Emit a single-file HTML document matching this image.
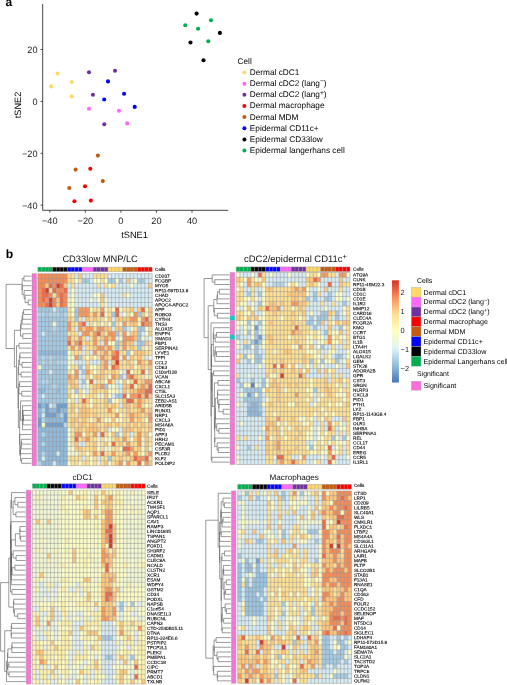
<!DOCTYPE html>
<html><head><meta charset="utf-8"><style>
html,body{margin:0;padding:0;background:#fff;overflow:hidden;width:507px;height:685px;}
svg{display:block;font-family:"Liberation Sans", sans-serif;text-rendering:geometricPrecision;will-change:transform;}
</style></head><body>
<svg width="507" height="685" viewBox="0 0 507 685">
<rect width="507" height="685" fill="#fff"/>
<text x="5.6" y="6.4" font-size="12" font-weight="bold">a</text>
<path d="M42.7 3.9V210.3H228.2" stroke="#333" stroke-width="0.9" fill="none"/>
<path d="M40.6 49.5H42.7" stroke="#333" stroke-width="0.9"/>
<text x="37.6" y="52.8" font-size="9.2" text-anchor="end" fill="#222">20</text>
<path d="M40.6 101.4H42.7" stroke="#333" stroke-width="0.9"/>
<text x="37.6" y="104.7" font-size="9.2" text-anchor="end" fill="#222">0</text>
<path d="M40.6 153.3H42.7" stroke="#333" stroke-width="0.9"/>
<text x="37.6" y="156.6" font-size="9.2" text-anchor="end" fill="#222">−20</text>
<path d="M40.6 205.2H42.7" stroke="#333" stroke-width="0.9"/>
<text x="37.6" y="208.5" font-size="9.2" text-anchor="end" fill="#222">−40</text>
<path d="M49.8 210.3V212.6" stroke="#333" stroke-width="0.9"/>
<text x="49.8" y="223.6" font-size="9.2" text-anchor="middle" fill="#222">−40</text>
<path d="M85.35 210.3V212.6" stroke="#333" stroke-width="0.9"/>
<text x="85.35" y="223.6" font-size="9.2" text-anchor="middle" fill="#222">−20</text>
<path d="M120.9 210.3V212.6" stroke="#333" stroke-width="0.9"/>
<text x="120.9" y="223.6" font-size="9.2" text-anchor="middle" fill="#222">0</text>
<path d="M156.45 210.3V212.6" stroke="#333" stroke-width="0.9"/>
<text x="156.45" y="223.6" font-size="9.2" text-anchor="middle" fill="#222">20</text>
<path d="M192 210.3V212.6" stroke="#333" stroke-width="0.9"/>
<text x="192" y="223.6" font-size="9.2" text-anchor="middle" fill="#222">40</text>
<text x="134.5" y="237.9" font-size="9.2" text-anchor="middle">tSNE1</text>
<text transform="translate(21.1 105) rotate(-90)" font-size="9.2" text-anchor="middle">tSNE2</text>
<circle cx="196.6" cy="13.6" r="2.05" fill="#000000"/>
<circle cx="219.9" cy="32.9" r="2.05" fill="#000000"/>
<circle cx="190.5" cy="42.5" r="2.05" fill="#000000"/>
<circle cx="203.5" cy="60.3" r="2.05" fill="#000000"/>
<circle cx="211" cy="20.2" r="2.05" fill="#00B050"/>
<circle cx="185.3" cy="25.2" r="2.05" fill="#00B050"/>
<circle cx="198.1" cy="28.8" r="2.05" fill="#00B050"/>
<circle cx="208.3" cy="41.3" r="2.05" fill="#00B050"/>
<circle cx="57.6" cy="73.6" r="2.05" fill="#FFD966"/>
<circle cx="51.1" cy="86.4" r="2.05" fill="#FFD966"/>
<circle cx="71.8" cy="82" r="2.05" fill="#FFD966"/>
<circle cx="71.8" cy="96.4" r="2.05" fill="#FFD966"/>
<circle cx="89" cy="72.3" r="2.05" fill="#7030A0"/>
<circle cx="115" cy="70.7" r="2.05" fill="#7030A0"/>
<circle cx="92.9" cy="94.8" r="2.05" fill="#7030A0"/>
<circle cx="104.3" cy="124.3" r="2.05" fill="#7030A0"/>
<circle cx="108" cy="81.4" r="2.05" fill="#0000FF"/>
<circle cx="124.1" cy="93.8" r="2.05" fill="#0000FF"/>
<circle cx="104.2" cy="99.5" r="2.05" fill="#0000FF"/>
<circle cx="134.7" cy="106.9" r="2.05" fill="#0000FF"/>
<circle cx="89" cy="108.7" r="2.05" fill="#FF66FF"/>
<circle cx="119" cy="110.8" r="2.05" fill="#FF66FF"/>
<circle cx="127.2" cy="123.4" r="2.05" fill="#FF66FF"/>
<circle cx="97.9" cy="155.6" r="2.05" fill="#C55A11"/>
<circle cx="75.6" cy="169.6" r="2.05" fill="#C55A11"/>
<circle cx="102.8" cy="181.1" r="2.05" fill="#C55A11"/>
<circle cx="69.3" cy="188" r="2.05" fill="#C55A11"/>
<circle cx="90.3" cy="168.7" r="2.05" fill="#FF0000"/>
<circle cx="85" cy="186.3" r="2.05" fill="#FF0000"/>
<circle cx="74.4" cy="201.2" r="2.05" fill="#FF0000"/>
<circle cx="90.9" cy="200.6" r="2.05" fill="#FF0000"/>
<text x="237.6" y="64" font-size="8.2">Cell</text>
<circle cx="244.4" cy="72.6" r="2.0" fill="#FFD966"/>
<text x="249.8" y="75.05" font-size="8.25">Dermal cDC1</text>
<circle cx="244.4" cy="83.73" r="2.0" fill="#FF66FF"/>
<text x="249.8" y="86.18" font-size="8.25">Dermal cDC2 (lang<tspan font-size="6.6" dy="-2.8">−</tspan><tspan dy="2.8">)</tspan></text>
<circle cx="244.4" cy="94.86" r="2.0" fill="#7030A0"/>
<text x="249.8" y="97.31" font-size="8.25">Dermal cDC2 (lang<tspan font-size="6.6" dy="-2.8">+</tspan><tspan dy="2.8">)</tspan></text>
<circle cx="244.4" cy="105.99" r="2.0" fill="#FF0000"/>
<text x="249.8" y="108.44" font-size="8.25">Dermal macrophage</text>
<circle cx="244.4" cy="117.12" r="2.0" fill="#C55A11"/>
<text x="249.8" y="119.57" font-size="8.25">Dermal MDM</text>
<circle cx="244.4" cy="128.25" r="2.0" fill="#0000FF"/>
<text x="249.8" y="130.7" font-size="8.25">Epidermal CD11c+</text>
<circle cx="244.4" cy="139.38" r="2.0" fill="#000000"/>
<text x="249.8" y="141.83" font-size="8.25">Epidermal CD33low</text>
<circle cx="244.4" cy="150.51" r="2.0" fill="#00B050"/>
<text x="249.8" y="152.96" font-size="8.25">Epidermal langerhans cell</text>
<text x="5.8" y="257.8" font-size="12.2" font-weight="bold">b</text>
<path fill="#F58C57" d="M37.8 273.7h3.69v4.8h-3.69zM41.49 273.7h3.69v4.8h-3.69zM45.18 273.7h3.69v4.8h-3.69zM48.87 273.7h3.69v4.8h-3.69zM52.56 273.7h3.69v4.8h-3.69zM56.25 273.7h3.69v4.8h-3.69zM59.94 273.7h3.69v4.8h-3.69zM63.63 273.7h3.69v4.8h-3.69zM37.8 278.5h3.69v4.8h-3.69zM41.49 278.5h3.69v4.8h-3.69zM45.18 278.5h3.69v4.8h-3.69zM48.87 278.5h3.69v4.8h-3.69zM52.56 278.5h3.69v4.8h-3.69zM56.25 278.5h3.69v4.8h-3.69zM59.94 278.5h3.69v4.8h-3.69zM63.63 278.5h3.69v4.8h-3.69zM37.8 283.3h3.69v4.8h-3.69zM41.49 283.3h3.69v4.8h-3.69zM52.56 283.3h3.69v4.8h-3.69zM37.8 288.1h3.69v4.8h-3.69zM56.25 288.1h3.69v4.8h-3.69zM59.94 288.1h3.69v4.8h-3.69zM37.8 292.9h3.69v4.8h-3.69zM48.87 292.9h3.69v4.8h-3.69zM56.25 292.9h3.69v4.8h-3.69zM63.63 292.9h3.69v4.8h-3.69zM37.8 297.7h3.69v4.8h-3.69zM45.18 297.7h3.69v4.8h-3.69zM52.56 297.7h3.69v4.8h-3.69zM63.63 297.7h3.69v4.8h-3.69zM37.8 302.5h3.69v4.8h-3.69zM41.49 302.5h3.69v4.8h-3.69zM52.56 302.5h3.69v4.8h-3.69zM63.63 302.5h3.69v4.8h-3.69z"/>
<path fill="#FEE093" d="M67.32 273.7h3.69v4.8h-3.69zM71.01 273.7h3.69v4.8h-3.69zM93.15 273.7h3.69v4.8h-3.69zM96.84 273.7h3.69v4.8h-3.69zM100.53 273.7h3.69v4.8h-3.69zM104.22 273.7h3.69v4.8h-3.69zM67.32 278.5h3.69v4.8h-3.69zM71.01 278.5h3.69v4.8h-3.69zM78.39 278.5h3.69v4.8h-3.69zM100.53 278.5h3.69v4.8h-3.69zM71.01 283.3h3.69v4.8h-3.69zM96.84 283.3h3.69v4.8h-3.69zM104.22 283.3h3.69v4.8h-3.69zM111.6 283.3h3.69v4.8h-3.69zM48.87 288.1h3.69v4.8h-3.69zM52.56 292.9h3.69v4.8h-3.69zM122.67 292.9h3.69v4.8h-3.69zM100.53 302.5h3.69v4.8h-3.69zM67.32 307.3h3.69v4.8h-3.69zM93.15 307.3h3.69v4.8h-3.69zM96.84 307.3h3.69v4.8h-3.69zM107.91 307.3h3.69v4.8h-3.69zM122.67 307.3h3.69v4.8h-3.69zM126.36 307.3h3.69v4.8h-3.69zM67.32 312.1h3.69v4.8h-3.69zM89.46 312.1h3.69v4.8h-3.69zM96.84 312.1h3.69v4.8h-3.69zM107.91 312.1h3.69v4.8h-3.69zM126.36 312.1h3.69v4.8h-3.69zM71.01 316.9h3.69v4.8h-3.69zM78.39 316.9h3.69v4.8h-3.69zM89.46 316.9h3.69v4.8h-3.69zM96.84 316.9h3.69v4.8h-3.69zM100.53 316.9h3.69v4.8h-3.69zM71.01 321.7h3.69v4.8h-3.69zM74.7 321.7h3.69v4.8h-3.69zM89.46 321.7h3.69v4.8h-3.69zM96.84 321.7h3.69v4.8h-3.69zM104.22 321.7h3.69v4.8h-3.69zM115.29 321.7h3.69v4.8h-3.69zM126.36 321.7h3.69v4.8h-3.69zM71.01 326.5h3.69v4.8h-3.69zM93.15 326.5h3.69v4.8h-3.69zM133.74 326.5h3.69v4.8h-3.69zM148.5 326.5h3.69v4.8h-3.69zM67.32 331.3h3.69v4.8h-3.69zM71.01 331.3h3.69v4.8h-3.69zM74.7 331.3h3.69v4.8h-3.69zM89.46 331.3h3.69v4.8h-3.69zM104.22 331.3h3.69v4.8h-3.69zM118.98 331.3h3.69v4.8h-3.69zM71.01 336.1h3.69v4.8h-3.69zM74.7 336.1h3.69v4.8h-3.69zM82.08 336.1h3.69v4.8h-3.69zM89.46 336.1h3.69v4.8h-3.69zM96.84 336.1h3.69v4.8h-3.69zM71.01 340.9h3.69v4.8h-3.69zM82.08 340.9h3.69v4.8h-3.69zM89.46 340.9h3.69v4.8h-3.69zM96.84 340.9h3.69v4.8h-3.69zM148.5 340.9h3.69v4.8h-3.69zM67.32 345.7h3.69v4.8h-3.69zM74.7 345.7h3.69v4.8h-3.69zM85.77 345.7h3.69v4.8h-3.69zM89.46 345.7h3.69v4.8h-3.69zM111.6 345.7h3.69v4.8h-3.69zM118.98 345.7h3.69v4.8h-3.69zM126.36 345.7h3.69v4.8h-3.69zM133.74 345.7h3.69v4.8h-3.69zM141.12 345.7h3.69v4.8h-3.69zM148.5 345.7h3.69v4.8h-3.69zM71.01 350.5h3.69v4.8h-3.69zM74.7 350.5h3.69v4.8h-3.69zM78.39 350.5h3.69v4.8h-3.69zM85.77 350.5h3.69v4.8h-3.69zM96.84 350.5h3.69v4.8h-3.69zM107.91 350.5h3.69v4.8h-3.69zM118.98 350.5h3.69v4.8h-3.69zM122.67 350.5h3.69v4.8h-3.69zM144.81 350.5h3.69v4.8h-3.69zM148.5 350.5h3.69v4.8h-3.69zM82.08 355.3h3.69v4.8h-3.69zM89.46 355.3h3.69v4.8h-3.69zM96.84 355.3h3.69v4.8h-3.69zM107.91 355.3h3.69v4.8h-3.69zM133.74 355.3h3.69v4.8h-3.69zM141.12 355.3h3.69v4.8h-3.69zM85.77 360.1h3.69v4.8h-3.69zM118.98 360.1h3.69v4.8h-3.69zM122.67 360.1h3.69v4.8h-3.69zM130.05 360.1h3.69v4.8h-3.69zM144.81 360.1h3.69v4.8h-3.69zM71.01 364.9h3.69v4.8h-3.69zM74.7 364.9h3.69v4.8h-3.69zM96.84 364.9h3.69v4.8h-3.69zM118.98 364.9h3.69v4.8h-3.69zM122.67 364.9h3.69v4.8h-3.69zM126.36 364.9h3.69v4.8h-3.69zM137.43 364.9h3.69v4.8h-3.69zM144.81 364.9h3.69v4.8h-3.69zM67.32 369.7h3.69v4.8h-3.69zM89.46 369.7h3.69v4.8h-3.69zM96.84 369.7h3.69v4.8h-3.69zM104.22 369.7h3.69v4.8h-3.69zM107.91 369.7h3.69v4.8h-3.69zM115.29 369.7h3.69v4.8h-3.69zM133.74 369.7h3.69v4.8h-3.69zM137.43 369.7h3.69v4.8h-3.69zM104.22 374.5h3.69v4.8h-3.69zM137.43 374.5h3.69v4.8h-3.69zM141.12 374.5h3.69v4.8h-3.69zM148.5 374.5h3.69v4.8h-3.69zM74.7 379.3h3.69v4.8h-3.69zM96.84 379.3h3.69v4.8h-3.69zM100.53 379.3h3.69v4.8h-3.69zM111.6 379.3h3.69v4.8h-3.69zM130.05 379.3h3.69v4.8h-3.69zM137.43 379.3h3.69v4.8h-3.69zM67.32 384.1h3.69v4.8h-3.69zM89.46 384.1h3.69v4.8h-3.69zM67.32 388.9h3.69v4.8h-3.69zM78.39 388.9h3.69v4.8h-3.69zM89.46 388.9h3.69v4.8h-3.69zM96.84 388.9h3.69v4.8h-3.69zM100.53 388.9h3.69v4.8h-3.69zM126.36 388.9h3.69v4.8h-3.69zM78.39 393.7h3.69v4.8h-3.69zM85.77 393.7h3.69v4.8h-3.69zM89.46 393.7h3.69v4.8h-3.69zM93.15 393.7h3.69v4.8h-3.69zM71.01 398.5h3.69v4.8h-3.69zM78.39 398.5h3.69v4.8h-3.69zM93.15 398.5h3.69v4.8h-3.69zM96.84 398.5h3.69v4.8h-3.69zM100.53 398.5h3.69v4.8h-3.69zM118.98 398.5h3.69v4.8h-3.69zM133.74 398.5h3.69v4.8h-3.69zM144.81 398.5h3.69v4.8h-3.69zM148.5 398.5h3.69v4.8h-3.69zM67.32 403.3h3.69v4.8h-3.69zM74.7 403.3h3.69v4.8h-3.69zM78.39 403.3h3.69v4.8h-3.69zM85.77 403.3h3.69v4.8h-3.69zM96.84 403.3h3.69v4.8h-3.69zM100.53 403.3h3.69v4.8h-3.69zM107.91 403.3h3.69v4.8h-3.69zM115.29 403.3h3.69v4.8h-3.69zM130.05 403.3h3.69v4.8h-3.69zM141.12 403.3h3.69v4.8h-3.69zM148.5 403.3h3.69v4.8h-3.69zM67.32 408.1h3.69v4.8h-3.69zM89.46 408.1h3.69v4.8h-3.69zM93.15 408.1h3.69v4.8h-3.69zM96.84 408.1h3.69v4.8h-3.69zM100.53 408.1h3.69v4.8h-3.69zM104.22 408.1h3.69v4.8h-3.69zM111.6 408.1h3.69v4.8h-3.69zM118.98 408.1h3.69v4.8h-3.69zM122.67 408.1h3.69v4.8h-3.69zM130.05 408.1h3.69v4.8h-3.69zM133.74 408.1h3.69v4.8h-3.69zM144.81 408.1h3.69v4.8h-3.69zM67.32 412.9h3.69v4.8h-3.69zM71.01 412.9h3.69v4.8h-3.69zM74.7 412.9h3.69v4.8h-3.69zM89.46 412.9h3.69v4.8h-3.69zM96.84 412.9h3.69v4.8h-3.69zM100.53 412.9h3.69v4.8h-3.69zM104.22 412.9h3.69v4.8h-3.69zM107.91 412.9h3.69v4.8h-3.69zM111.6 412.9h3.69v4.8h-3.69zM122.67 412.9h3.69v4.8h-3.69zM141.12 412.9h3.69v4.8h-3.69zM67.32 417.7h3.69v4.8h-3.69zM78.39 417.7h3.69v4.8h-3.69zM85.77 417.7h3.69v4.8h-3.69zM93.15 417.7h3.69v4.8h-3.69zM100.53 417.7h3.69v4.8h-3.69zM122.67 417.7h3.69v4.8h-3.69zM126.36 417.7h3.69v4.8h-3.69zM133.74 417.7h3.69v4.8h-3.69zM141.12 417.7h3.69v4.8h-3.69zM67.32 422.5h3.69v4.8h-3.69zM74.7 422.5h3.69v4.8h-3.69zM85.77 422.5h3.69v4.8h-3.69zM96.84 422.5h3.69v4.8h-3.69zM100.53 422.5h3.69v4.8h-3.69zM111.6 422.5h3.69v4.8h-3.69zM118.98 422.5h3.69v4.8h-3.69zM122.67 422.5h3.69v4.8h-3.69zM130.05 422.5h3.69v4.8h-3.69zM137.43 422.5h3.69v4.8h-3.69zM144.81 422.5h3.69v4.8h-3.69zM71.01 427.3h3.69v4.8h-3.69zM82.08 427.3h3.69v4.8h-3.69zM100.53 427.3h3.69v4.8h-3.69zM133.74 427.3h3.69v4.8h-3.69zM141.12 427.3h3.69v4.8h-3.69zM144.81 427.3h3.69v4.8h-3.69zM71.01 432.1h3.69v4.8h-3.69zM89.46 432.1h3.69v4.8h-3.69zM104.22 432.1h3.69v4.8h-3.69zM126.36 432.1h3.69v4.8h-3.69zM133.74 432.1h3.69v4.8h-3.69zM141.12 432.1h3.69v4.8h-3.69zM71.01 436.9h3.69v4.8h-3.69zM78.39 436.9h3.69v4.8h-3.69zM89.46 436.9h3.69v4.8h-3.69zM93.15 436.9h3.69v4.8h-3.69zM100.53 436.9h3.69v4.8h-3.69zM111.6 436.9h3.69v4.8h-3.69zM118.98 436.9h3.69v4.8h-3.69zM126.36 436.9h3.69v4.8h-3.69zM148.5 436.9h3.69v4.8h-3.69zM71.01 441.7h3.69v4.8h-3.69zM85.77 441.7h3.69v4.8h-3.69zM89.46 441.7h3.69v4.8h-3.69zM100.53 441.7h3.69v4.8h-3.69zM115.29 441.7h3.69v4.8h-3.69zM122.67 441.7h3.69v4.8h-3.69zM130.05 441.7h3.69v4.8h-3.69zM133.74 441.7h3.69v4.8h-3.69zM148.5 441.7h3.69v4.8h-3.69zM82.08 446.5h3.69v4.8h-3.69zM85.77 446.5h3.69v4.8h-3.69zM89.46 446.5h3.69v4.8h-3.69zM100.53 446.5h3.69v4.8h-3.69zM111.6 446.5h3.69v4.8h-3.69zM115.29 446.5h3.69v4.8h-3.69zM133.74 446.5h3.69v4.8h-3.69zM78.39 451.3h3.69v4.8h-3.69zM82.08 451.3h3.69v4.8h-3.69zM89.46 451.3h3.69v4.8h-3.69zM96.84 451.3h3.69v4.8h-3.69zM104.22 451.3h3.69v4.8h-3.69zM107.91 451.3h3.69v4.8h-3.69zM115.29 451.3h3.69v4.8h-3.69zM118.98 451.3h3.69v4.8h-3.69zM130.05 451.3h3.69v4.8h-3.69zM137.43 451.3h3.69v4.8h-3.69zM67.32 456.1h3.69v4.8h-3.69zM71.01 456.1h3.69v4.8h-3.69zM74.7 456.1h3.69v4.8h-3.69zM78.39 456.1h3.69v4.8h-3.69zM85.77 456.1h3.69v4.8h-3.69zM93.15 456.1h3.69v4.8h-3.69zM100.53 456.1h3.69v4.8h-3.69zM104.22 456.1h3.69v4.8h-3.69zM111.6 456.1h3.69v4.8h-3.69zM115.29 456.1h3.69v4.8h-3.69zM122.67 456.1h3.69v4.8h-3.69zM126.36 456.1h3.69v4.8h-3.69zM148.5 456.1h3.69v4.8h-3.69zM71.01 460.9h3.69v4.8h-3.69zM74.7 460.9h3.69v4.8h-3.69zM82.08 460.9h3.69v4.8h-3.69zM85.77 460.9h3.69v4.8h-3.69zM93.15 460.9h3.69v4.8h-3.69zM100.53 460.9h3.69v4.8h-3.69zM111.6 460.9h3.69v4.8h-3.69zM130.05 460.9h3.69v4.8h-3.69zM133.74 460.9h3.69v4.8h-3.69z"/>
<path fill="#D6EBF3" d="M74.7 273.7h3.69v4.8h-3.69zM82.08 273.7h3.69v4.8h-3.69zM85.77 273.7h3.69v4.8h-3.69zM89.46 273.7h3.69v4.8h-3.69zM107.91 273.7h3.69v4.8h-3.69zM111.6 273.7h3.69v4.8h-3.69zM115.29 273.7h3.69v4.8h-3.69zM118.98 273.7h3.69v4.8h-3.69zM122.67 273.7h3.69v4.8h-3.69zM126.36 273.7h3.69v4.8h-3.69zM130.05 273.7h3.69v4.8h-3.69zM133.74 273.7h3.69v4.8h-3.69zM137.43 273.7h3.69v4.8h-3.69zM141.12 273.7h3.69v4.8h-3.69zM144.81 273.7h3.69v4.8h-3.69zM148.5 273.7h3.69v4.8h-3.69zM89.46 278.5h3.69v4.8h-3.69zM122.67 278.5h3.69v4.8h-3.69zM130.05 278.5h3.69v4.8h-3.69zM144.81 278.5h3.69v4.8h-3.69zM148.5 278.5h3.69v4.8h-3.69zM67.32 283.3h3.69v4.8h-3.69zM74.7 283.3h3.69v4.8h-3.69zM78.39 283.3h3.69v4.8h-3.69zM82.08 283.3h3.69v4.8h-3.69zM85.77 283.3h3.69v4.8h-3.69zM89.46 283.3h3.69v4.8h-3.69zM93.15 283.3h3.69v4.8h-3.69zM100.53 283.3h3.69v4.8h-3.69zM115.29 283.3h3.69v4.8h-3.69zM118.98 283.3h3.69v4.8h-3.69zM122.67 283.3h3.69v4.8h-3.69zM126.36 283.3h3.69v4.8h-3.69zM133.74 283.3h3.69v4.8h-3.69zM137.43 283.3h3.69v4.8h-3.69zM141.12 283.3h3.69v4.8h-3.69zM144.81 283.3h3.69v4.8h-3.69zM67.32 288.1h3.69v4.8h-3.69zM74.7 288.1h3.69v4.8h-3.69zM78.39 288.1h3.69v4.8h-3.69zM82.08 288.1h3.69v4.8h-3.69zM85.77 288.1h3.69v4.8h-3.69zM89.46 288.1h3.69v4.8h-3.69zM93.15 288.1h3.69v4.8h-3.69zM96.84 288.1h3.69v4.8h-3.69zM100.53 288.1h3.69v4.8h-3.69zM104.22 288.1h3.69v4.8h-3.69zM107.91 288.1h3.69v4.8h-3.69zM111.6 288.1h3.69v4.8h-3.69zM115.29 288.1h3.69v4.8h-3.69zM118.98 288.1h3.69v4.8h-3.69zM122.67 288.1h3.69v4.8h-3.69zM126.36 288.1h3.69v4.8h-3.69zM130.05 288.1h3.69v4.8h-3.69zM133.74 288.1h3.69v4.8h-3.69zM137.43 288.1h3.69v4.8h-3.69zM141.12 288.1h3.69v4.8h-3.69zM144.81 288.1h3.69v4.8h-3.69zM148.5 288.1h3.69v4.8h-3.69zM67.32 292.9h3.69v4.8h-3.69zM74.7 292.9h3.69v4.8h-3.69zM78.39 292.9h3.69v4.8h-3.69zM82.08 292.9h3.69v4.8h-3.69zM85.77 292.9h3.69v4.8h-3.69zM89.46 292.9h3.69v4.8h-3.69zM104.22 292.9h3.69v4.8h-3.69zM107.91 292.9h3.69v4.8h-3.69zM111.6 292.9h3.69v4.8h-3.69zM115.29 292.9h3.69v4.8h-3.69zM118.98 292.9h3.69v4.8h-3.69zM130.05 292.9h3.69v4.8h-3.69zM133.74 292.9h3.69v4.8h-3.69zM137.43 292.9h3.69v4.8h-3.69zM141.12 292.9h3.69v4.8h-3.69zM144.81 292.9h3.69v4.8h-3.69zM148.5 292.9h3.69v4.8h-3.69zM74.7 297.7h3.69v4.8h-3.69zM78.39 297.7h3.69v4.8h-3.69zM82.08 297.7h3.69v4.8h-3.69zM85.77 297.7h3.69v4.8h-3.69zM93.15 297.7h3.69v4.8h-3.69zM107.91 297.7h3.69v4.8h-3.69zM111.6 297.7h3.69v4.8h-3.69zM115.29 297.7h3.69v4.8h-3.69zM118.98 297.7h3.69v4.8h-3.69zM122.67 297.7h3.69v4.8h-3.69zM126.36 297.7h3.69v4.8h-3.69zM130.05 297.7h3.69v4.8h-3.69zM133.74 297.7h3.69v4.8h-3.69zM137.43 297.7h3.69v4.8h-3.69zM141.12 297.7h3.69v4.8h-3.69zM144.81 297.7h3.69v4.8h-3.69zM148.5 297.7h3.69v4.8h-3.69zM74.7 302.5h3.69v4.8h-3.69zM78.39 302.5h3.69v4.8h-3.69zM82.08 302.5h3.69v4.8h-3.69zM85.77 302.5h3.69v4.8h-3.69zM89.46 302.5h3.69v4.8h-3.69zM93.15 302.5h3.69v4.8h-3.69zM96.84 302.5h3.69v4.8h-3.69zM107.91 302.5h3.69v4.8h-3.69zM111.6 302.5h3.69v4.8h-3.69zM115.29 302.5h3.69v4.8h-3.69zM118.98 302.5h3.69v4.8h-3.69zM122.67 302.5h3.69v4.8h-3.69zM126.36 302.5h3.69v4.8h-3.69zM130.05 302.5h3.69v4.8h-3.69zM133.74 302.5h3.69v4.8h-3.69zM137.43 302.5h3.69v4.8h-3.69zM141.12 302.5h3.69v4.8h-3.69zM144.81 302.5h3.69v4.8h-3.69zM148.5 302.5h3.69v4.8h-3.69zM52.56 307.3h3.69v4.8h-3.69zM133.74 307.3h3.69v4.8h-3.69zM118.98 312.1h3.69v4.8h-3.69zM82.08 316.9h3.69v4.8h-3.69zM111.6 316.9h3.69v4.8h-3.69zM85.77 321.7h3.69v4.8h-3.69zM74.7 326.5h3.69v4.8h-3.69zM111.6 326.5h3.69v4.8h-3.69zM126.36 326.5h3.69v4.8h-3.69zM41.49 331.3h3.69v4.8h-3.69zM78.39 331.3h3.69v4.8h-3.69zM141.12 331.3h3.69v4.8h-3.69zM85.77 336.1h3.69v4.8h-3.69zM115.29 336.1h3.69v4.8h-3.69zM144.81 336.1h3.69v4.8h-3.69zM100.53 340.9h3.69v4.8h-3.69zM133.74 340.9h3.69v4.8h-3.69zM82.08 345.7h3.69v4.8h-3.69zM82.08 350.5h3.69v4.8h-3.69zM89.46 350.5h3.69v4.8h-3.69zM126.36 355.3h3.69v4.8h-3.69zM144.81 355.3h3.69v4.8h-3.69zM74.7 360.1h3.69v4.8h-3.69zM78.39 360.1h3.69v4.8h-3.69zM82.08 360.1h3.69v4.8h-3.69zM89.46 360.1h3.69v4.8h-3.69zM93.15 360.1h3.69v4.8h-3.69zM96.84 360.1h3.69v4.8h-3.69zM107.91 360.1h3.69v4.8h-3.69zM82.08 364.9h3.69v4.8h-3.69zM48.87 369.7h3.69v4.8h-3.69zM78.39 369.7h3.69v4.8h-3.69zM122.67 369.7h3.69v4.8h-3.69zM78.39 374.5h3.69v4.8h-3.69zM82.08 374.5h3.69v4.8h-3.69zM122.67 374.5h3.69v4.8h-3.69zM78.39 379.3h3.69v4.8h-3.69zM115.29 379.3h3.69v4.8h-3.69zM78.39 384.1h3.69v4.8h-3.69zM82.08 384.1h3.69v4.8h-3.69zM115.29 384.1h3.69v4.8h-3.69zM118.98 384.1h3.69v4.8h-3.69zM85.77 388.9h3.69v4.8h-3.69zM118.98 388.9h3.69v4.8h-3.69zM41.49 393.7h3.69v4.8h-3.69zM111.6 393.7h3.69v4.8h-3.69zM74.7 398.5h3.69v4.8h-3.69zM48.87 403.3h3.69v4.8h-3.69zM118.98 403.3h3.69v4.8h-3.69zM41.49 412.9h3.69v4.8h-3.69zM107.91 427.3h3.69v4.8h-3.69zM118.98 427.3h3.69v4.8h-3.69zM96.84 432.1h3.69v4.8h-3.69zM130.05 432.1h3.69v4.8h-3.69zM78.39 441.7h3.69v4.8h-3.69zM82.08 441.7h3.69v4.8h-3.69zM56.25 451.3h3.69v4.8h-3.69zM41.49 456.1h3.69v4.8h-3.69zM82.08 456.1h3.69v4.8h-3.69zM96.84 456.1h3.69v4.8h-3.69zM52.56 460.9h3.69v4.8h-3.69z"/>
<path fill="#FDC77A" d="M78.39 273.7h3.69v4.8h-3.69zM126.36 278.5h3.69v4.8h-3.69zM45.18 283.3h3.69v4.8h-3.69zM63.63 283.3h3.69v4.8h-3.69zM148.5 283.3h3.69v4.8h-3.69zM100.53 292.9h3.69v4.8h-3.69zM56.25 297.7h3.69v4.8h-3.69zM100.53 297.7h3.69v4.8h-3.69zM56.25 302.5h3.69v4.8h-3.69zM130.05 307.3h3.69v4.8h-3.69zM137.43 307.3h3.69v4.8h-3.69zM148.5 307.3h3.69v4.8h-3.69zM141.12 312.1h3.69v4.8h-3.69zM148.5 312.1h3.69v4.8h-3.69zM67.32 316.9h3.69v4.8h-3.69zM85.77 316.9h3.69v4.8h-3.69zM93.15 316.9h3.69v4.8h-3.69zM107.91 316.9h3.69v4.8h-3.69zM115.29 316.9h3.69v4.8h-3.69zM118.98 316.9h3.69v4.8h-3.69zM122.67 316.9h3.69v4.8h-3.69zM126.36 316.9h3.69v4.8h-3.69zM148.5 316.9h3.69v4.8h-3.69zM130.05 321.7h3.69v4.8h-3.69zM133.74 321.7h3.69v4.8h-3.69zM82.08 326.5h3.69v4.8h-3.69zM104.22 326.5h3.69v4.8h-3.69zM107.91 326.5h3.69v4.8h-3.69zM115.29 326.5h3.69v4.8h-3.69zM118.98 326.5h3.69v4.8h-3.69zM100.53 331.3h3.69v4.8h-3.69zM130.05 331.3h3.69v4.8h-3.69zM133.74 331.3h3.69v4.8h-3.69zM148.5 331.3h3.69v4.8h-3.69zM100.53 336.1h3.69v4.8h-3.69zM107.91 336.1h3.69v4.8h-3.69zM133.74 336.1h3.69v4.8h-3.69zM85.77 340.9h3.69v4.8h-3.69zM118.98 340.9h3.69v4.8h-3.69zM126.36 340.9h3.69v4.8h-3.69zM130.05 340.9h3.69v4.8h-3.69zM144.81 340.9h3.69v4.8h-3.69zM93.15 345.7h3.69v4.8h-3.69zM104.22 345.7h3.69v4.8h-3.69zM130.05 345.7h3.69v4.8h-3.69zM100.53 350.5h3.69v4.8h-3.69zM133.74 350.5h3.69v4.8h-3.69zM137.43 350.5h3.69v4.8h-3.69zM141.12 350.5h3.69v4.8h-3.69zM104.22 355.3h3.69v4.8h-3.69zM130.05 355.3h3.69v4.8h-3.69zM137.43 355.3h3.69v4.8h-3.69zM100.53 360.1h3.69v4.8h-3.69zM111.6 360.1h3.69v4.8h-3.69zM126.36 360.1h3.69v4.8h-3.69zM141.12 360.1h3.69v4.8h-3.69zM85.77 364.9h3.69v4.8h-3.69zM100.53 364.9h3.69v4.8h-3.69zM130.05 364.9h3.69v4.8h-3.69zM141.12 364.9h3.69v4.8h-3.69zM148.5 364.9h3.69v4.8h-3.69zM100.53 369.7h3.69v4.8h-3.69zM111.6 369.7h3.69v4.8h-3.69zM148.5 369.7h3.69v4.8h-3.69zM71.01 374.5h3.69v4.8h-3.69zM85.77 374.5h3.69v4.8h-3.69zM93.15 374.5h3.69v4.8h-3.69zM96.84 374.5h3.69v4.8h-3.69zM100.53 374.5h3.69v4.8h-3.69zM115.29 374.5h3.69v4.8h-3.69zM133.74 374.5h3.69v4.8h-3.69zM67.32 379.3h3.69v4.8h-3.69zM71.01 379.3h3.69v4.8h-3.69zM122.67 379.3h3.69v4.8h-3.69zM141.12 379.3h3.69v4.8h-3.69zM71.01 384.1h3.69v4.8h-3.69zM74.7 384.1h3.69v4.8h-3.69zM93.15 384.1h3.69v4.8h-3.69zM96.84 384.1h3.69v4.8h-3.69zM122.67 384.1h3.69v4.8h-3.69zM126.36 384.1h3.69v4.8h-3.69zM137.43 384.1h3.69v4.8h-3.69zM144.81 384.1h3.69v4.8h-3.69zM93.15 388.9h3.69v4.8h-3.69zM104.22 388.9h3.69v4.8h-3.69zM122.67 388.9h3.69v4.8h-3.69zM130.05 388.9h3.69v4.8h-3.69zM133.74 388.9h3.69v4.8h-3.69zM67.32 393.7h3.69v4.8h-3.69zM104.22 393.7h3.69v4.8h-3.69zM141.12 393.7h3.69v4.8h-3.69zM148.5 393.7h3.69v4.8h-3.69zM85.77 398.5h3.69v4.8h-3.69zM104.22 398.5h3.69v4.8h-3.69zM122.67 398.5h3.69v4.8h-3.69zM141.12 398.5h3.69v4.8h-3.69zM71.01 403.3h3.69v4.8h-3.69zM82.08 403.3h3.69v4.8h-3.69zM93.15 403.3h3.69v4.8h-3.69zM104.22 403.3h3.69v4.8h-3.69zM111.6 403.3h3.69v4.8h-3.69zM122.67 403.3h3.69v4.8h-3.69zM126.36 403.3h3.69v4.8h-3.69zM133.74 403.3h3.69v4.8h-3.69zM71.01 408.1h3.69v4.8h-3.69zM78.39 408.1h3.69v4.8h-3.69zM82.08 408.1h3.69v4.8h-3.69zM85.77 408.1h3.69v4.8h-3.69zM126.36 408.1h3.69v4.8h-3.69zM137.43 408.1h3.69v4.8h-3.69zM148.5 408.1h3.69v4.8h-3.69zM78.39 412.9h3.69v4.8h-3.69zM82.08 412.9h3.69v4.8h-3.69zM85.77 412.9h3.69v4.8h-3.69zM93.15 412.9h3.69v4.8h-3.69zM126.36 412.9h3.69v4.8h-3.69zM133.74 412.9h3.69v4.8h-3.69zM137.43 412.9h3.69v4.8h-3.69zM144.81 412.9h3.69v4.8h-3.69zM71.01 417.7h3.69v4.8h-3.69zM74.7 417.7h3.69v4.8h-3.69zM82.08 417.7h3.69v4.8h-3.69zM111.6 417.7h3.69v4.8h-3.69zM137.43 417.7h3.69v4.8h-3.69zM71.01 422.5h3.69v4.8h-3.69zM78.39 422.5h3.69v4.8h-3.69zM82.08 422.5h3.69v4.8h-3.69zM89.46 422.5h3.69v4.8h-3.69zM93.15 422.5h3.69v4.8h-3.69zM104.22 422.5h3.69v4.8h-3.69zM107.91 422.5h3.69v4.8h-3.69zM115.29 422.5h3.69v4.8h-3.69zM126.36 422.5h3.69v4.8h-3.69zM133.74 422.5h3.69v4.8h-3.69zM141.12 422.5h3.69v4.8h-3.69zM148.5 422.5h3.69v4.8h-3.69zM74.7 427.3h3.69v4.8h-3.69zM78.39 427.3h3.69v4.8h-3.69zM85.77 427.3h3.69v4.8h-3.69zM89.46 427.3h3.69v4.8h-3.69zM93.15 427.3h3.69v4.8h-3.69zM96.84 427.3h3.69v4.8h-3.69zM104.22 427.3h3.69v4.8h-3.69zM122.67 427.3h3.69v4.8h-3.69zM126.36 427.3h3.69v4.8h-3.69zM130.05 427.3h3.69v4.8h-3.69zM137.43 427.3h3.69v4.8h-3.69zM148.5 427.3h3.69v4.8h-3.69zM85.77 432.1h3.69v4.8h-3.69zM111.6 432.1h3.69v4.8h-3.69zM122.67 432.1h3.69v4.8h-3.69zM144.81 432.1h3.69v4.8h-3.69zM82.08 436.9h3.69v4.8h-3.69zM115.29 436.9h3.69v4.8h-3.69zM133.74 436.9h3.69v4.8h-3.69zM144.81 436.9h3.69v4.8h-3.69zM74.7 441.7h3.69v4.8h-3.69zM93.15 441.7h3.69v4.8h-3.69zM104.22 441.7h3.69v4.8h-3.69zM118.98 441.7h3.69v4.8h-3.69zM144.81 441.7h3.69v4.8h-3.69zM74.7 446.5h3.69v4.8h-3.69zM78.39 446.5h3.69v4.8h-3.69zM93.15 446.5h3.69v4.8h-3.69zM137.43 446.5h3.69v4.8h-3.69zM144.81 446.5h3.69v4.8h-3.69zM122.67 451.3h3.69v4.8h-3.69zM144.81 451.3h3.69v4.8h-3.69zM118.98 456.1h3.69v4.8h-3.69zM130.05 456.1h3.69v4.8h-3.69zM104.22 460.9h3.69v4.8h-3.69zM115.29 460.9h3.69v4.8h-3.69zM148.5 460.9h3.69v4.8h-3.69z"/>
<path fill="#FCFCC6" d="M74.7 278.5h3.69v4.8h-3.69zM93.15 278.5h3.69v4.8h-3.69zM96.84 278.5h3.69v4.8h-3.69zM104.22 278.5h3.69v4.8h-3.69zM115.29 278.5h3.69v4.8h-3.69zM133.74 278.5h3.69v4.8h-3.69zM107.91 283.3h3.69v4.8h-3.69zM130.05 283.3h3.69v4.8h-3.69zM71.01 288.1h3.69v4.8h-3.69zM71.01 292.9h3.69v4.8h-3.69zM93.15 292.9h3.69v4.8h-3.69zM96.84 292.9h3.69v4.8h-3.69zM126.36 292.9h3.69v4.8h-3.69zM71.01 297.7h3.69v4.8h-3.69zM96.84 297.7h3.69v4.8h-3.69zM71.01 302.5h3.69v4.8h-3.69zM71.01 307.3h3.69v4.8h-3.69zM89.46 307.3h3.69v4.8h-3.69zM104.22 307.3h3.69v4.8h-3.69zM111.6 307.3h3.69v4.8h-3.69zM118.98 307.3h3.69v4.8h-3.69zM144.81 307.3h3.69v4.8h-3.69zM71.01 312.1h3.69v4.8h-3.69zM104.22 312.1h3.69v4.8h-3.69zM122.67 312.1h3.69v4.8h-3.69zM130.05 312.1h3.69v4.8h-3.69zM144.81 312.1h3.69v4.8h-3.69zM104.22 316.9h3.69v4.8h-3.69zM137.43 316.9h3.69v4.8h-3.69zM93.15 321.7h3.69v4.8h-3.69zM107.91 321.7h3.69v4.8h-3.69zM137.43 321.7h3.69v4.8h-3.69zM144.81 326.5h3.69v4.8h-3.69zM144.81 331.3h3.69v4.8h-3.69zM118.98 336.1h3.69v4.8h-3.69zM107.91 340.9h3.69v4.8h-3.69zM111.6 340.9h3.69v4.8h-3.69zM67.32 350.5h3.69v4.8h-3.69zM130.05 350.5h3.69v4.8h-3.69zM67.32 355.3h3.69v4.8h-3.69zM85.77 355.3h3.69v4.8h-3.69zM93.15 355.3h3.69v4.8h-3.69zM118.98 355.3h3.69v4.8h-3.69zM67.32 360.1h3.69v4.8h-3.69zM67.32 364.9h3.69v4.8h-3.69zM89.46 364.9h3.69v4.8h-3.69zM93.15 364.9h3.69v4.8h-3.69zM107.91 364.9h3.69v4.8h-3.69zM133.74 364.9h3.69v4.8h-3.69zM71.01 369.7h3.69v4.8h-3.69zM93.15 369.7h3.69v4.8h-3.69zM118.98 369.7h3.69v4.8h-3.69zM130.05 369.7h3.69v4.8h-3.69zM144.81 369.7h3.69v4.8h-3.69zM89.46 374.5h3.69v4.8h-3.69zM85.77 379.3h3.69v4.8h-3.69zM104.22 379.3h3.69v4.8h-3.69zM118.98 379.3h3.69v4.8h-3.69zM126.36 379.3h3.69v4.8h-3.69zM111.6 384.1h3.69v4.8h-3.69zM133.74 384.1h3.69v4.8h-3.69zM82.08 388.9h3.69v4.8h-3.69zM107.91 388.9h3.69v4.8h-3.69zM111.6 388.9h3.69v4.8h-3.69zM71.01 393.7h3.69v4.8h-3.69zM74.7 393.7h3.69v4.8h-3.69zM82.08 393.7h3.69v4.8h-3.69zM107.91 393.7h3.69v4.8h-3.69zM126.36 393.7h3.69v4.8h-3.69zM67.32 398.5h3.69v4.8h-3.69zM89.46 398.5h3.69v4.8h-3.69zM111.6 398.5h3.69v4.8h-3.69zM115.29 398.5h3.69v4.8h-3.69zM89.46 403.3h3.69v4.8h-3.69zM144.81 403.3h3.69v4.8h-3.69zM115.29 408.1h3.69v4.8h-3.69zM118.98 412.9h3.69v4.8h-3.69zM89.46 417.7h3.69v4.8h-3.69zM104.22 417.7h3.69v4.8h-3.69zM107.91 417.7h3.69v4.8h-3.69zM115.29 417.7h3.69v4.8h-3.69zM118.98 417.7h3.69v4.8h-3.69zM144.81 417.7h3.69v4.8h-3.69zM41.49 422.5h3.69v4.8h-3.69zM67.32 427.3h3.69v4.8h-3.69zM111.6 427.3h3.69v4.8h-3.69zM115.29 427.3h3.69v4.8h-3.69zM67.32 432.1h3.69v4.8h-3.69zM82.08 432.1h3.69v4.8h-3.69zM107.91 432.1h3.69v4.8h-3.69zM148.5 432.1h3.69v4.8h-3.69zM67.32 436.9h3.69v4.8h-3.69zM104.22 436.9h3.69v4.8h-3.69zM130.05 436.9h3.69v4.8h-3.69zM141.12 436.9h3.69v4.8h-3.69zM107.91 441.7h3.69v4.8h-3.69zM71.01 446.5h3.69v4.8h-3.69zM96.84 446.5h3.69v4.8h-3.69zM118.98 446.5h3.69v4.8h-3.69zM141.12 446.5h3.69v4.8h-3.69zM67.32 451.3h3.69v4.8h-3.69zM85.77 451.3h3.69v4.8h-3.69zM141.12 451.3h3.69v4.8h-3.69zM89.46 456.1h3.69v4.8h-3.69zM67.32 460.9h3.69v4.8h-3.69zM78.39 460.9h3.69v4.8h-3.69zM89.46 460.9h3.69v4.8h-3.69zM122.67 460.9h3.69v4.8h-3.69zM141.12 460.9h3.69v4.8h-3.69z"/>
<path fill="#A4CAE3" d="M82.08 278.5h3.69v4.8h-3.69zM85.77 278.5h3.69v4.8h-3.69zM107.91 278.5h3.69v4.8h-3.69zM111.6 278.5h3.69v4.8h-3.69zM118.98 278.5h3.69v4.8h-3.69zM137.43 278.5h3.69v4.8h-3.69zM141.12 278.5h3.69v4.8h-3.69zM37.8 307.3h3.69v4.8h-3.69zM41.49 307.3h3.69v4.8h-3.69zM45.18 307.3h3.69v4.8h-3.69zM48.87 307.3h3.69v4.8h-3.69zM56.25 307.3h3.69v4.8h-3.69zM59.94 307.3h3.69v4.8h-3.69zM63.63 307.3h3.69v4.8h-3.69zM74.7 307.3h3.69v4.8h-3.69zM45.18 312.1h3.69v4.8h-3.69zM59.94 312.1h3.69v4.8h-3.69zM74.7 312.1h3.69v4.8h-3.69zM111.6 312.1h3.69v4.8h-3.69zM137.43 312.1h3.69v4.8h-3.69zM37.8 316.9h3.69v4.8h-3.69zM41.49 316.9h3.69v4.8h-3.69zM45.18 316.9h3.69v4.8h-3.69zM48.87 316.9h3.69v4.8h-3.69zM52.56 316.9h3.69v4.8h-3.69zM56.25 316.9h3.69v4.8h-3.69zM59.94 316.9h3.69v4.8h-3.69zM63.63 316.9h3.69v4.8h-3.69zM74.7 316.9h3.69v4.8h-3.69zM37.8 321.7h3.69v4.8h-3.69zM41.49 321.7h3.69v4.8h-3.69zM45.18 321.7h3.69v4.8h-3.69zM48.87 321.7h3.69v4.8h-3.69zM56.25 321.7h3.69v4.8h-3.69zM59.94 321.7h3.69v4.8h-3.69zM63.63 321.7h3.69v4.8h-3.69zM111.6 321.7h3.69v4.8h-3.69zM37.8 326.5h3.69v4.8h-3.69zM41.49 326.5h3.69v4.8h-3.69zM45.18 326.5h3.69v4.8h-3.69zM48.87 326.5h3.69v4.8h-3.69zM56.25 326.5h3.69v4.8h-3.69zM59.94 326.5h3.69v4.8h-3.69zM63.63 326.5h3.69v4.8h-3.69zM122.67 326.5h3.69v4.8h-3.69zM137.43 326.5h3.69v4.8h-3.69zM141.12 326.5h3.69v4.8h-3.69zM37.8 331.3h3.69v4.8h-3.69zM45.18 331.3h3.69v4.8h-3.69zM48.87 331.3h3.69v4.8h-3.69zM52.56 331.3h3.69v4.8h-3.69zM56.25 331.3h3.69v4.8h-3.69zM59.94 331.3h3.69v4.8h-3.69zM63.63 331.3h3.69v4.8h-3.69zM115.29 331.3h3.69v4.8h-3.69zM137.43 331.3h3.69v4.8h-3.69zM37.8 336.1h3.69v4.8h-3.69zM41.49 336.1h3.69v4.8h-3.69zM45.18 336.1h3.69v4.8h-3.69zM48.87 336.1h3.69v4.8h-3.69zM52.56 336.1h3.69v4.8h-3.69zM56.25 336.1h3.69v4.8h-3.69zM59.94 336.1h3.69v4.8h-3.69zM63.63 336.1h3.69v4.8h-3.69zM137.43 336.1h3.69v4.8h-3.69zM37.8 340.9h3.69v4.8h-3.69zM41.49 340.9h3.69v4.8h-3.69zM45.18 340.9h3.69v4.8h-3.69zM48.87 340.9h3.69v4.8h-3.69zM52.56 340.9h3.69v4.8h-3.69zM56.25 340.9h3.69v4.8h-3.69zM59.94 340.9h3.69v4.8h-3.69zM63.63 340.9h3.69v4.8h-3.69zM115.29 340.9h3.69v4.8h-3.69zM137.43 340.9h3.69v4.8h-3.69zM141.12 340.9h3.69v4.8h-3.69zM37.8 345.7h3.69v4.8h-3.69zM41.49 345.7h3.69v4.8h-3.69zM45.18 345.7h3.69v4.8h-3.69zM48.87 345.7h3.69v4.8h-3.69zM52.56 345.7h3.69v4.8h-3.69zM56.25 345.7h3.69v4.8h-3.69zM59.94 345.7h3.69v4.8h-3.69zM63.63 345.7h3.69v4.8h-3.69zM115.29 345.7h3.69v4.8h-3.69zM137.43 345.7h3.69v4.8h-3.69zM126.36 350.5h3.69v4.8h-3.69zM37.8 355.3h3.69v4.8h-3.69zM45.18 355.3h3.69v4.8h-3.69zM52.56 355.3h3.69v4.8h-3.69zM56.25 355.3h3.69v4.8h-3.69zM59.94 355.3h3.69v4.8h-3.69zM63.63 355.3h3.69v4.8h-3.69zM78.39 355.3h3.69v4.8h-3.69zM37.8 360.1h3.69v4.8h-3.69zM45.18 360.1h3.69v4.8h-3.69zM52.56 360.1h3.69v4.8h-3.69zM41.49 364.9h3.69v4.8h-3.69zM45.18 364.9h3.69v4.8h-3.69zM48.87 364.9h3.69v4.8h-3.69zM52.56 364.9h3.69v4.8h-3.69zM56.25 364.9h3.69v4.8h-3.69zM59.94 364.9h3.69v4.8h-3.69zM63.63 364.9h3.69v4.8h-3.69zM78.39 364.9h3.69v4.8h-3.69zM37.8 369.7h3.69v4.8h-3.69zM41.49 369.7h3.69v4.8h-3.69zM45.18 369.7h3.69v4.8h-3.69zM52.56 369.7h3.69v4.8h-3.69zM56.25 369.7h3.69v4.8h-3.69zM59.94 369.7h3.69v4.8h-3.69zM63.63 369.7h3.69v4.8h-3.69zM82.08 369.7h3.69v4.8h-3.69zM37.8 374.5h3.69v4.8h-3.69zM41.49 374.5h3.69v4.8h-3.69zM45.18 374.5h3.69v4.8h-3.69zM48.87 374.5h3.69v4.8h-3.69zM52.56 374.5h3.69v4.8h-3.69zM56.25 374.5h3.69v4.8h-3.69zM59.94 374.5h3.69v4.8h-3.69zM63.63 374.5h3.69v4.8h-3.69zM118.98 374.5h3.69v4.8h-3.69zM37.8 379.3h3.69v4.8h-3.69zM48.87 379.3h3.69v4.8h-3.69zM52.56 379.3h3.69v4.8h-3.69zM56.25 379.3h3.69v4.8h-3.69zM59.94 379.3h3.69v4.8h-3.69zM63.63 379.3h3.69v4.8h-3.69zM82.08 379.3h3.69v4.8h-3.69zM37.8 384.1h3.69v4.8h-3.69zM41.49 384.1h3.69v4.8h-3.69zM45.18 384.1h3.69v4.8h-3.69zM48.87 384.1h3.69v4.8h-3.69zM56.25 384.1h3.69v4.8h-3.69zM59.94 384.1h3.69v4.8h-3.69zM63.63 384.1h3.69v4.8h-3.69zM104.22 384.1h3.69v4.8h-3.69zM45.18 388.9h3.69v4.8h-3.69zM48.87 388.9h3.69v4.8h-3.69zM52.56 388.9h3.69v4.8h-3.69zM59.94 388.9h3.69v4.8h-3.69zM63.63 388.9h3.69v4.8h-3.69zM74.7 388.9h3.69v4.8h-3.69zM37.8 393.7h3.69v4.8h-3.69zM45.18 393.7h3.69v4.8h-3.69zM48.87 393.7h3.69v4.8h-3.69zM52.56 393.7h3.69v4.8h-3.69zM56.25 393.7h3.69v4.8h-3.69zM59.94 393.7h3.69v4.8h-3.69zM63.63 393.7h3.69v4.8h-3.69zM115.29 393.7h3.69v4.8h-3.69zM118.98 393.7h3.69v4.8h-3.69zM37.8 398.5h3.69v4.8h-3.69zM41.49 398.5h3.69v4.8h-3.69zM45.18 398.5h3.69v4.8h-3.69zM48.87 398.5h3.69v4.8h-3.69zM52.56 398.5h3.69v4.8h-3.69zM56.25 398.5h3.69v4.8h-3.69zM59.94 398.5h3.69v4.8h-3.69zM63.63 398.5h3.69v4.8h-3.69zM107.91 398.5h3.69v4.8h-3.69zM115.29 432.1h3.69v4.8h-3.69zM107.91 456.1h3.69v4.8h-3.69z"/>
<path fill="#EF6946" d="M48.87 283.3h3.69v4.8h-3.69zM59.94 283.3h3.69v4.8h-3.69zM41.49 288.1h3.69v4.8h-3.69zM52.56 288.1h3.69v4.8h-3.69zM63.63 288.1h3.69v4.8h-3.69zM41.49 292.9h3.69v4.8h-3.69zM45.18 292.9h3.69v4.8h-3.69zM59.94 292.9h3.69v4.8h-3.69zM41.49 297.7h3.69v4.8h-3.69zM59.94 297.7h3.69v4.8h-3.69zM45.18 302.5h3.69v4.8h-3.69zM59.94 302.5h3.69v4.8h-3.69zM115.29 307.3h3.69v4.8h-3.69zM141.12 307.3h3.69v4.8h-3.69zM100.53 312.1h3.69v4.8h-3.69zM115.29 312.1h3.69v4.8h-3.69zM144.81 316.9h3.69v4.8h-3.69zM82.08 321.7h3.69v4.8h-3.69zM141.12 321.7h3.69v4.8h-3.69zM96.84 331.3h3.69v4.8h-3.69zM67.32 340.9h3.69v4.8h-3.69zM78.39 340.9h3.69v4.8h-3.69zM115.29 350.5h3.69v4.8h-3.69zM111.6 355.3h3.69v4.8h-3.69zM115.29 355.3h3.69v4.8h-3.69zM111.6 364.9h3.69v4.8h-3.69zM126.36 369.7h3.69v4.8h-3.69zM141.12 369.7h3.69v4.8h-3.69zM130.05 374.5h3.69v4.8h-3.69zM89.46 379.3h3.69v4.8h-3.69zM133.74 379.3h3.69v4.8h-3.69zM130.05 384.1h3.69v4.8h-3.69zM148.5 384.1h3.69v4.8h-3.69zM144.81 388.9h3.69v4.8h-3.69zM148.5 388.9h3.69v4.8h-3.69zM122.67 393.7h3.69v4.8h-3.69zM137.43 393.7h3.69v4.8h-3.69zM144.81 393.7h3.69v4.8h-3.69zM82.08 398.5h3.69v4.8h-3.69zM126.36 398.5h3.69v4.8h-3.69zM130.05 398.5h3.69v4.8h-3.69zM100.53 432.1h3.69v4.8h-3.69zM74.7 436.9h3.69v4.8h-3.69zM111.6 441.7h3.69v4.8h-3.69zM122.67 446.5h3.69v4.8h-3.69zM126.36 446.5h3.69v4.8h-3.69zM100.53 451.3h3.69v4.8h-3.69zM133.74 456.1h3.69v4.8h-3.69zM144.81 456.1h3.69v4.8h-3.69zM137.43 460.9h3.69v4.8h-3.69z"/>
<path fill="#D93A2C" d="M56.25 283.3h3.69v4.8h-3.69zM45.18 288.1h3.69v4.8h-3.69zM48.87 297.7h3.69v4.8h-3.69zM48.87 302.5h3.69v4.8h-3.69zM115.29 360.1h3.69v4.8h-3.69z"/>
<path fill="#F2F7D3" d="M67.32 297.7h3.69v4.8h-3.69zM89.46 297.7h3.69v4.8h-3.69zM104.22 297.7h3.69v4.8h-3.69zM67.32 302.5h3.69v4.8h-3.69zM104.22 302.5h3.69v4.8h-3.69zM52.56 321.7h3.69v4.8h-3.69zM100.53 321.7h3.69v4.8h-3.69zM118.98 321.7h3.69v4.8h-3.69zM130.05 326.5h3.69v4.8h-3.69zM126.36 331.3h3.69v4.8h-3.69zM141.12 336.1h3.69v4.8h-3.69zM148.5 336.1h3.69v4.8h-3.69zM144.81 345.7h3.69v4.8h-3.69zM71.01 355.3h3.69v4.8h-3.69zM148.5 355.3h3.69v4.8h-3.69zM71.01 360.1h3.69v4.8h-3.69zM133.74 360.1h3.69v4.8h-3.69zM37.8 364.9h3.69v4.8h-3.69zM107.91 374.5h3.69v4.8h-3.69zM144.81 374.5h3.69v4.8h-3.69zM93.15 379.3h3.69v4.8h-3.69zM85.77 384.1h3.69v4.8h-3.69zM107.91 384.1h3.69v4.8h-3.69zM71.01 388.9h3.69v4.8h-3.69zM115.29 388.9h3.69v4.8h-3.69zM96.84 393.7h3.69v4.8h-3.69zM100.53 393.7h3.69v4.8h-3.69zM74.7 408.1h3.69v4.8h-3.69zM118.98 432.1h3.69v4.8h-3.69zM96.84 436.9h3.69v4.8h-3.69zM107.91 436.9h3.69v4.8h-3.69zM67.32 441.7h3.69v4.8h-3.69zM96.84 441.7h3.69v4.8h-3.69zM141.12 441.7h3.69v4.8h-3.69zM67.32 446.5h3.69v4.8h-3.69zM104.22 446.5h3.69v4.8h-3.69zM107.91 446.5h3.69v4.8h-3.69zM148.5 446.5h3.69v4.8h-3.69zM71.01 451.3h3.69v4.8h-3.69zM74.7 451.3h3.69v4.8h-3.69zM96.84 460.9h3.69v4.8h-3.69zM107.91 460.9h3.69v4.8h-3.69z"/>
<path fill="#F99A5C" d="M78.39 307.3h3.69v4.8h-3.69zM82.08 307.3h3.69v4.8h-3.69zM85.77 307.3h3.69v4.8h-3.69zM100.53 307.3h3.69v4.8h-3.69zM78.39 312.1h3.69v4.8h-3.69zM82.08 312.1h3.69v4.8h-3.69zM85.77 312.1h3.69v4.8h-3.69zM93.15 312.1h3.69v4.8h-3.69zM133.74 312.1h3.69v4.8h-3.69zM130.05 316.9h3.69v4.8h-3.69zM133.74 316.9h3.69v4.8h-3.69zM141.12 316.9h3.69v4.8h-3.69zM67.32 321.7h3.69v4.8h-3.69zM78.39 321.7h3.69v4.8h-3.69zM122.67 321.7h3.69v4.8h-3.69zM144.81 321.7h3.69v4.8h-3.69zM148.5 321.7h3.69v4.8h-3.69zM67.32 326.5h3.69v4.8h-3.69zM78.39 326.5h3.69v4.8h-3.69zM85.77 326.5h3.69v4.8h-3.69zM89.46 326.5h3.69v4.8h-3.69zM96.84 326.5h3.69v4.8h-3.69zM100.53 326.5h3.69v4.8h-3.69zM82.08 331.3h3.69v4.8h-3.69zM85.77 331.3h3.69v4.8h-3.69zM93.15 331.3h3.69v4.8h-3.69zM107.91 331.3h3.69v4.8h-3.69zM111.6 331.3h3.69v4.8h-3.69zM122.67 331.3h3.69v4.8h-3.69zM67.32 336.1h3.69v4.8h-3.69zM78.39 336.1h3.69v4.8h-3.69zM93.15 336.1h3.69v4.8h-3.69zM104.22 336.1h3.69v4.8h-3.69zM111.6 336.1h3.69v4.8h-3.69zM122.67 336.1h3.69v4.8h-3.69zM126.36 336.1h3.69v4.8h-3.69zM130.05 336.1h3.69v4.8h-3.69zM74.7 340.9h3.69v4.8h-3.69zM93.15 340.9h3.69v4.8h-3.69zM104.22 340.9h3.69v4.8h-3.69zM122.67 340.9h3.69v4.8h-3.69zM71.01 345.7h3.69v4.8h-3.69zM78.39 345.7h3.69v4.8h-3.69zM96.84 345.7h3.69v4.8h-3.69zM100.53 345.7h3.69v4.8h-3.69zM107.91 345.7h3.69v4.8h-3.69zM122.67 345.7h3.69v4.8h-3.69zM93.15 350.5h3.69v4.8h-3.69zM104.22 350.5h3.69v4.8h-3.69zM111.6 350.5h3.69v4.8h-3.69zM74.7 355.3h3.69v4.8h-3.69zM100.53 355.3h3.69v4.8h-3.69zM122.67 355.3h3.69v4.8h-3.69zM104.22 360.1h3.69v4.8h-3.69zM137.43 360.1h3.69v4.8h-3.69zM148.5 360.1h3.69v4.8h-3.69zM104.22 364.9h3.69v4.8h-3.69zM115.29 364.9h3.69v4.8h-3.69zM74.7 369.7h3.69v4.8h-3.69zM85.77 369.7h3.69v4.8h-3.69zM67.32 374.5h3.69v4.8h-3.69zM74.7 374.5h3.69v4.8h-3.69zM111.6 374.5h3.69v4.8h-3.69zM126.36 374.5h3.69v4.8h-3.69zM107.91 379.3h3.69v4.8h-3.69zM144.81 379.3h3.69v4.8h-3.69zM148.5 379.3h3.69v4.8h-3.69zM100.53 384.1h3.69v4.8h-3.69zM141.12 384.1h3.69v4.8h-3.69zM137.43 388.9h3.69v4.8h-3.69zM141.12 388.9h3.69v4.8h-3.69zM130.05 393.7h3.69v4.8h-3.69zM133.74 393.7h3.69v4.8h-3.69zM137.43 398.5h3.69v4.8h-3.69zM137.43 403.3h3.69v4.8h-3.69zM107.91 408.1h3.69v4.8h-3.69zM141.12 408.1h3.69v4.8h-3.69zM115.29 412.9h3.69v4.8h-3.69zM130.05 412.9h3.69v4.8h-3.69zM148.5 412.9h3.69v4.8h-3.69zM96.84 417.7h3.69v4.8h-3.69zM130.05 417.7h3.69v4.8h-3.69zM148.5 417.7h3.69v4.8h-3.69zM74.7 432.1h3.69v4.8h-3.69zM78.39 432.1h3.69v4.8h-3.69zM93.15 432.1h3.69v4.8h-3.69zM137.43 432.1h3.69v4.8h-3.69zM85.77 436.9h3.69v4.8h-3.69zM122.67 436.9h3.69v4.8h-3.69zM137.43 436.9h3.69v4.8h-3.69zM126.36 441.7h3.69v4.8h-3.69zM137.43 441.7h3.69v4.8h-3.69zM130.05 446.5h3.69v4.8h-3.69zM93.15 451.3h3.69v4.8h-3.69zM111.6 451.3h3.69v4.8h-3.69zM126.36 451.3h3.69v4.8h-3.69zM133.74 451.3h3.69v4.8h-3.69zM148.5 451.3h3.69v4.8h-3.69zM137.43 456.1h3.69v4.8h-3.69zM141.12 456.1h3.69v4.8h-3.69zM118.98 460.9h3.69v4.8h-3.69zM126.36 460.9h3.69v4.8h-3.69zM144.81 460.9h3.69v4.8h-3.69z"/>
<path fill="#B5D6EA" d="M37.8 312.1h3.69v4.8h-3.69zM41.49 312.1h3.69v4.8h-3.69zM48.87 312.1h3.69v4.8h-3.69zM52.56 312.1h3.69v4.8h-3.69zM56.25 312.1h3.69v4.8h-3.69zM63.63 312.1h3.69v4.8h-3.69zM52.56 326.5h3.69v4.8h-3.69zM41.49 355.3h3.69v4.8h-3.69zM48.87 355.3h3.69v4.8h-3.69zM41.49 360.1h3.69v4.8h-3.69zM48.87 360.1h3.69v4.8h-3.69zM56.25 360.1h3.69v4.8h-3.69zM59.94 360.1h3.69v4.8h-3.69zM63.63 360.1h3.69v4.8h-3.69zM41.49 379.3h3.69v4.8h-3.69zM45.18 379.3h3.69v4.8h-3.69zM52.56 384.1h3.69v4.8h-3.69zM52.56 403.3h3.69v4.8h-3.69zM41.49 408.1h3.69v4.8h-3.69zM59.94 412.9h3.69v4.8h-3.69zM41.49 417.7h3.69v4.8h-3.69zM63.63 422.5h3.69v4.8h-3.69zM41.49 432.1h3.69v4.8h-3.69zM41.49 441.7h3.69v4.8h-3.69zM41.49 451.3h3.69v4.8h-3.69zM37.8 460.9h3.69v4.8h-3.69z"/>
<path fill="#8FBADC" d="M37.8 350.5h3.69v4.8h-3.69zM41.49 350.5h3.69v4.8h-3.69zM45.18 350.5h3.69v4.8h-3.69zM48.87 350.5h3.69v4.8h-3.69zM52.56 350.5h3.69v4.8h-3.69zM56.25 350.5h3.69v4.8h-3.69zM59.94 350.5h3.69v4.8h-3.69zM63.63 350.5h3.69v4.8h-3.69zM37.8 388.9h3.69v4.8h-3.69zM41.49 388.9h3.69v4.8h-3.69zM56.25 388.9h3.69v4.8h-3.69zM41.49 403.3h3.69v4.8h-3.69zM37.8 408.1h3.69v4.8h-3.69zM48.87 408.1h3.69v4.8h-3.69zM52.56 408.1h3.69v4.8h-3.69zM59.94 408.1h3.69v4.8h-3.69zM63.63 408.1h3.69v4.8h-3.69zM37.8 412.9h3.69v4.8h-3.69zM56.25 412.9h3.69v4.8h-3.69zM45.18 417.7h3.69v4.8h-3.69zM48.87 417.7h3.69v4.8h-3.69zM52.56 417.7h3.69v4.8h-3.69zM56.25 417.7h3.69v4.8h-3.69zM59.94 417.7h3.69v4.8h-3.69zM37.8 427.3h3.69v4.8h-3.69zM41.49 427.3h3.69v4.8h-3.69zM45.18 427.3h3.69v4.8h-3.69zM48.87 427.3h3.69v4.8h-3.69zM52.56 427.3h3.69v4.8h-3.69zM56.25 427.3h3.69v4.8h-3.69zM59.94 427.3h3.69v4.8h-3.69zM63.63 427.3h3.69v4.8h-3.69zM37.8 432.1h3.69v4.8h-3.69zM45.18 432.1h3.69v4.8h-3.69zM48.87 432.1h3.69v4.8h-3.69zM52.56 432.1h3.69v4.8h-3.69zM56.25 432.1h3.69v4.8h-3.69zM59.94 432.1h3.69v4.8h-3.69zM63.63 432.1h3.69v4.8h-3.69zM37.8 436.9h3.69v4.8h-3.69zM41.49 436.9h3.69v4.8h-3.69zM45.18 436.9h3.69v4.8h-3.69zM48.87 436.9h3.69v4.8h-3.69zM52.56 436.9h3.69v4.8h-3.69zM56.25 436.9h3.69v4.8h-3.69zM59.94 436.9h3.69v4.8h-3.69zM63.63 436.9h3.69v4.8h-3.69zM37.8 441.7h3.69v4.8h-3.69zM45.18 441.7h3.69v4.8h-3.69zM48.87 441.7h3.69v4.8h-3.69zM52.56 441.7h3.69v4.8h-3.69zM56.25 441.7h3.69v4.8h-3.69zM59.94 441.7h3.69v4.8h-3.69zM63.63 441.7h3.69v4.8h-3.69zM37.8 446.5h3.69v4.8h-3.69zM41.49 446.5h3.69v4.8h-3.69zM45.18 446.5h3.69v4.8h-3.69zM48.87 446.5h3.69v4.8h-3.69zM52.56 446.5h3.69v4.8h-3.69zM56.25 446.5h3.69v4.8h-3.69zM59.94 446.5h3.69v4.8h-3.69zM63.63 446.5h3.69v4.8h-3.69zM37.8 451.3h3.69v4.8h-3.69zM45.18 451.3h3.69v4.8h-3.69zM48.87 451.3h3.69v4.8h-3.69zM52.56 451.3h3.69v4.8h-3.69zM59.94 451.3h3.69v4.8h-3.69zM63.63 451.3h3.69v4.8h-3.69zM37.8 456.1h3.69v4.8h-3.69zM45.18 456.1h3.69v4.8h-3.69zM48.87 456.1h3.69v4.8h-3.69zM52.56 456.1h3.69v4.8h-3.69zM56.25 456.1h3.69v4.8h-3.69zM59.94 456.1h3.69v4.8h-3.69zM63.63 456.1h3.69v4.8h-3.69zM41.49 460.9h3.69v4.8h-3.69zM45.18 460.9h3.69v4.8h-3.69zM48.87 460.9h3.69v4.8h-3.69zM56.25 460.9h3.69v4.8h-3.69zM59.94 460.9h3.69v4.8h-3.69zM63.63 460.9h3.69v4.8h-3.69z"/>
<path fill="#6F9FD0" d="M37.8 403.3h3.69v4.8h-3.69zM45.18 403.3h3.69v4.8h-3.69zM56.25 403.3h3.69v4.8h-3.69zM59.94 403.3h3.69v4.8h-3.69zM63.63 403.3h3.69v4.8h-3.69zM45.18 408.1h3.69v4.8h-3.69zM56.25 408.1h3.69v4.8h-3.69zM45.18 412.9h3.69v4.8h-3.69zM48.87 412.9h3.69v4.8h-3.69zM52.56 412.9h3.69v4.8h-3.69zM63.63 412.9h3.69v4.8h-3.69zM37.8 417.7h3.69v4.8h-3.69zM63.63 417.7h3.69v4.8h-3.69zM37.8 422.5h3.69v4.8h-3.69zM45.18 422.5h3.69v4.8h-3.69zM48.87 422.5h3.69v4.8h-3.69zM52.56 422.5h3.69v4.8h-3.69zM56.25 422.5h3.69v4.8h-3.69zM59.94 422.5h3.69v4.8h-3.69z"/>
<path d="M37.8 273.7V465.7M41.49 273.7V465.7M45.18 273.7V465.7M48.87 273.7V465.7M52.56 273.7V465.7M56.25 273.7V465.7M59.94 273.7V465.7M63.63 273.7V465.7M67.32 273.7V465.7M71.01 273.7V465.7M74.7 273.7V465.7M78.39 273.7V465.7M82.08 273.7V465.7M85.77 273.7V465.7M89.46 273.7V465.7M93.15 273.7V465.7M96.84 273.7V465.7M100.53 273.7V465.7M104.22 273.7V465.7M107.91 273.7V465.7M111.6 273.7V465.7M115.29 273.7V465.7M118.98 273.7V465.7M122.67 273.7V465.7M126.36 273.7V465.7M130.05 273.7V465.7M133.74 273.7V465.7M137.43 273.7V465.7M141.12 273.7V465.7M144.81 273.7V465.7M148.5 273.7V465.7M152.19 273.7V465.7M37.8 273.7H152.19M37.8 278.5H152.19M37.8 283.3H152.19M37.8 288.1H152.19M37.8 292.9H152.19M37.8 297.7H152.19M37.8 302.5H152.19M37.8 307.3H152.19M37.8 312.1H152.19M37.8 316.9H152.19M37.8 321.7H152.19M37.8 326.5H152.19M37.8 331.3H152.19M37.8 336.1H152.19M37.8 340.9H152.19M37.8 345.7H152.19M37.8 350.5H152.19M37.8 355.3H152.19M37.8 360.1H152.19M37.8 364.9H152.19M37.8 369.7H152.19M37.8 374.5H152.19M37.8 379.3H152.19M37.8 384.1H152.19M37.8 388.9H152.19M37.8 393.7H152.19M37.8 398.5H152.19M37.8 403.3H152.19M37.8 408.1H152.19M37.8 412.9H152.19M37.8 417.7H152.19M37.8 422.5H152.19M37.8 427.3H152.19M37.8 432.1H152.19M37.8 436.9H152.19M37.8 441.7H152.19M37.8 446.5H152.19M37.8 451.3H152.19M37.8 456.1H152.19M37.8 460.9H152.19M37.8 465.7H152.19" stroke="#959595" stroke-width="0.5" fill="none"/>
<rect x="37.8" y="267.2" width="3.69" height="4.4" fill="#00B050"/>
<rect x="41.49" y="267.2" width="3.69" height="4.4" fill="#00B050"/>
<rect x="45.18" y="267.2" width="3.69" height="4.4" fill="#00B050"/>
<rect x="48.87" y="267.2" width="3.69" height="4.4" fill="#00B050"/>
<rect x="52.56" y="267.2" width="3.69" height="4.4" fill="#000000"/>
<rect x="56.25" y="267.2" width="3.69" height="4.4" fill="#000000"/>
<rect x="59.94" y="267.2" width="3.69" height="4.4" fill="#000000"/>
<rect x="63.63" y="267.2" width="3.69" height="4.4" fill="#000000"/>
<rect x="67.32" y="267.2" width="3.69" height="4.4" fill="#0000FF"/>
<rect x="71.01" y="267.2" width="3.69" height="4.4" fill="#0000FF"/>
<rect x="74.7" y="267.2" width="3.69" height="4.4" fill="#0000FF"/>
<rect x="78.39" y="267.2" width="3.69" height="4.4" fill="#0000FF"/>
<rect x="82.08" y="267.2" width="3.69" height="4.4" fill="#FF66FF"/>
<rect x="85.77" y="267.2" width="3.69" height="4.4" fill="#FF66FF"/>
<rect x="89.46" y="267.2" width="3.69" height="4.4" fill="#FF66FF"/>
<rect x="93.15" y="267.2" width="3.69" height="4.4" fill="#7030A0"/>
<rect x="96.84" y="267.2" width="3.69" height="4.4" fill="#7030A0"/>
<rect x="100.53" y="267.2" width="3.69" height="4.4" fill="#7030A0"/>
<rect x="104.22" y="267.2" width="3.69" height="4.4" fill="#7030A0"/>
<rect x="107.91" y="267.2" width="3.69" height="4.4" fill="#FFD966"/>
<rect x="111.6" y="267.2" width="3.69" height="4.4" fill="#FFD966"/>
<rect x="115.29" y="267.2" width="3.69" height="4.4" fill="#FFD966"/>
<rect x="118.98" y="267.2" width="3.69" height="4.4" fill="#FFD966"/>
<rect x="122.67" y="267.2" width="3.69" height="4.4" fill="#C55A11"/>
<rect x="126.36" y="267.2" width="3.69" height="4.4" fill="#C55A11"/>
<rect x="130.05" y="267.2" width="3.69" height="4.4" fill="#C55A11"/>
<rect x="133.74" y="267.2" width="3.69" height="4.4" fill="#C55A11"/>
<rect x="137.43" y="267.2" width="3.69" height="4.4" fill="#FF0000"/>
<rect x="141.12" y="267.2" width="3.69" height="4.4" fill="#FF0000"/>
<rect x="144.81" y="267.2" width="3.69" height="4.4" fill="#FF0000"/>
<rect x="148.5" y="267.2" width="3.69" height="4.4" fill="#FF0000"/>
<path d="M37.8 267.2V271.6M41.49 267.2V271.6M45.18 267.2V271.6M48.87 267.2V271.6M52.56 267.2V271.6M56.25 267.2V271.6M59.94 267.2V271.6M63.63 267.2V271.6M67.32 267.2V271.6M71.01 267.2V271.6M74.7 267.2V271.6M78.39 267.2V271.6M82.08 267.2V271.6M85.77 267.2V271.6M89.46 267.2V271.6M93.15 267.2V271.6M96.84 267.2V271.6M100.53 267.2V271.6M104.22 267.2V271.6M107.91 267.2V271.6M111.6 267.2V271.6M115.29 267.2V271.6M118.98 267.2V271.6M122.67 267.2V271.6M126.36 267.2V271.6M130.05 267.2V271.6M133.74 267.2V271.6M137.43 267.2V271.6M141.12 267.2V271.6M144.81 267.2V271.6M148.5 267.2V271.6M152.19 267.2V271.6M37.8 267.2H152.19M37.8 271.6H152.19" stroke="#959595" stroke-width="0.4" fill="none"/>
<rect x="32" y="273.7" width="4.5" height="4.8" fill="#FF6FDB"/>
<rect x="32" y="278.5" width="4.5" height="4.8" fill="#FF6FDB"/>
<rect x="32" y="283.3" width="4.5" height="4.8" fill="#FF6FDB"/>
<rect x="32" y="288.1" width="4.5" height="4.8" fill="#FF6FDB"/>
<rect x="32" y="292.9" width="4.5" height="4.8" fill="#FF6FDB"/>
<rect x="32" y="297.7" width="4.5" height="4.8" fill="#FF6FDB"/>
<rect x="32" y="302.5" width="4.5" height="4.8" fill="#FF6FDB"/>
<rect x="32" y="307.3" width="4.5" height="4.8" fill="#FF6FDB"/>
<rect x="32" y="312.1" width="4.5" height="4.8" fill="#FF6FDB"/>
<rect x="32" y="316.9" width="4.5" height="4.8" fill="#FF6FDB"/>
<rect x="32" y="321.7" width="4.5" height="4.8" fill="#FF6FDB"/>
<rect x="32" y="326.5" width="4.5" height="4.8" fill="#FF6FDB"/>
<rect x="32" y="331.3" width="4.5" height="4.8" fill="#FF6FDB"/>
<rect x="32" y="336.1" width="4.5" height="4.8" fill="#FF6FDB"/>
<rect x="32" y="340.9" width="4.5" height="4.8" fill="#FF6FDB"/>
<rect x="32" y="345.7" width="4.5" height="4.8" fill="#FF6FDB"/>
<rect x="32" y="350.5" width="4.5" height="4.8" fill="#FF6FDB"/>
<rect x="32" y="355.3" width="4.5" height="4.8" fill="#FF6FDB"/>
<rect x="32" y="360.1" width="4.5" height="4.8" fill="#FF6FDB"/>
<rect x="32" y="364.9" width="4.5" height="4.8" fill="#FF6FDB"/>
<rect x="32" y="369.7" width="4.5" height="4.8" fill="#FF6FDB"/>
<rect x="32" y="374.5" width="4.5" height="4.8" fill="#FF6FDB"/>
<rect x="32" y="379.3" width="4.5" height="4.8" fill="#FF6FDB"/>
<rect x="32" y="384.1" width="4.5" height="4.8" fill="#FF6FDB"/>
<rect x="32" y="388.9" width="4.5" height="4.8" fill="#FF6FDB"/>
<rect x="32" y="393.7" width="4.5" height="4.8" fill="#FF6FDB"/>
<rect x="32" y="398.5" width="4.5" height="4.8" fill="#FF6FDB"/>
<rect x="32" y="403.3" width="4.5" height="4.8" fill="#FF6FDB"/>
<rect x="32" y="408.1" width="4.5" height="4.8" fill="#FF6FDB"/>
<rect x="32" y="412.9" width="4.5" height="4.8" fill="#FF6FDB"/>
<rect x="32" y="417.7" width="4.5" height="4.8" fill="#FF6FDB"/>
<rect x="32" y="422.5" width="4.5" height="4.8" fill="#FF6FDB"/>
<rect x="32" y="427.3" width="4.5" height="4.8" fill="#FF6FDB"/>
<rect x="32" y="432.1" width="4.5" height="4.8" fill="#FF6FDB"/>
<rect x="32" y="436.9" width="4.5" height="4.8" fill="#FF6FDB"/>
<rect x="32" y="441.7" width="4.5" height="4.8" fill="#FF6FDB"/>
<rect x="32" y="446.5" width="4.5" height="4.8" fill="#FF6FDB"/>
<rect x="32" y="451.3" width="4.5" height="4.8" fill="#FF6FDB"/>
<rect x="32" y="456.1" width="4.5" height="4.8" fill="#FF6FDB"/>
<rect x="32" y="460.9" width="4.5" height="4.8" fill="#FF6FDB"/>
<path d="M32 273.7H36.5M32 278.5H36.5M32 283.3H36.5M32 288.1H36.5M32 292.9H36.5M32 297.7H36.5M32 302.5H36.5M32 307.3H36.5M32 312.1H36.5M32 316.9H36.5M32 321.7H36.5M32 326.5H36.5M32 331.3H36.5M32 336.1H36.5M32 340.9H36.5M32 345.7H36.5M32 350.5H36.5M32 355.3H36.5M32 360.1H36.5M32 364.9H36.5M32 369.7H36.5M32 374.5H36.5M32 379.3H36.5M32 384.1H36.5M32 388.9H36.5M32 393.7H36.5M32 398.5H36.5M32 403.3H36.5M32 408.1H36.5M32 412.9H36.5M32 417.7H36.5M32 422.5H36.5M32 427.3H36.5M32 432.1H36.5M32 436.9H36.5M32 441.7H36.5M32 446.5H36.5M32 451.3H36.5M32 456.1H36.5M32 460.9H36.5M32 465.7H36.5M32 273.7V465.7M36.5 273.7V465.7" stroke="#959595" stroke-width="0.4" fill="none"/>
<g font-size="4.7" fill="#000" stroke="#000" stroke-width="0.12" opacity="0.999">
<text transform="translate(155 277.74) rotate(0.05)">CD207</text>
<text transform="translate(155 282.54) rotate(0.05)">FCGBP</text>
<text transform="translate(155 287.34) rotate(0.05)">MYO5</text>
<text transform="translate(155 292.14) rotate(0.05)">RP11-597D13.8</text>
<text transform="translate(155 296.94) rotate(0.05)">CHAD</text>
<text transform="translate(155 301.74) rotate(0.05)">APOC2</text>
<text transform="translate(155 306.54) rotate(0.05)">APOC4-APOC2</text>
<text transform="translate(155 311.34) rotate(0.05)">APP</text>
<text transform="translate(155 316.14) rotate(0.05)">ROBO3</text>
<text transform="translate(155 320.94) rotate(0.05)">CYTH4</text>
<text transform="translate(155 325.74) rotate(0.05)">TNS3</text>
<text transform="translate(155 330.54) rotate(0.05)">ALOX15</text>
<text transform="translate(155 335.34) rotate(0.05)">ENPP4</text>
<text transform="translate(155 340.14) rotate(0.05)">SMAD3</text>
<text transform="translate(155 344.94) rotate(0.05)">FBP1</text>
<text transform="translate(155 349.74) rotate(0.05)">SERPINA1</text>
<text transform="translate(155 354.54) rotate(0.05)">LYVE1</text>
<text transform="translate(155 359.34) rotate(0.05)">TFPI</text>
<text transform="translate(155 364.14) rotate(0.05)">CCL2</text>
<text transform="translate(155 368.94) rotate(0.05)">CD63</text>
<text transform="translate(155 373.74) rotate(0.05)">C10orf128</text>
<text transform="translate(155 378.54) rotate(0.05)">VCAN</text>
<text transform="translate(155 383.34) rotate(0.05)">ABCA6</text>
<text transform="translate(155 388.14) rotate(0.05)">CXCL1</text>
<text transform="translate(155 392.94) rotate(0.05)">CTSL</text>
<text transform="translate(155 397.74) rotate(0.05)">SLC15A3</text>
<text transform="translate(155 402.54) rotate(0.05)">ZEB2-AS1</text>
<text transform="translate(155 407.34) rotate(0.05)">ARID5B</text>
<text transform="translate(155 412.14) rotate(0.05)">RUNX1</text>
<text transform="translate(155 416.94) rotate(0.05)">NRP1</text>
<text transform="translate(155 421.75) rotate(0.05)">CXCL3</text>
<text transform="translate(155 426.54) rotate(0.05)">MS4A6A</text>
<text transform="translate(155 431.34) rotate(0.05)">PID1</text>
<text transform="translate(155 436.14) rotate(0.05)">APP3</text>
<text transform="translate(155 440.94) rotate(0.05)">HRH2</text>
<text transform="translate(155 445.75) rotate(0.05)">PECAM1</text>
<text transform="translate(155 450.54) rotate(0.05)">CSF3R</text>
<text transform="translate(155 455.34) rotate(0.05)">PLCB2</text>
<text transform="translate(155 460.14) rotate(0.05)">KLF2</text>
<text transform="translate(155 464.94) rotate(0.05)">POLDIP2</text>
<text transform="translate(155 271.04) rotate(0.05)">Cells</text>
</g>
<path d="M31.4 276.1L23.95 276.1M31.4 280.9L23.95 280.9M23.95 276.1L23.95 280.9M31.4 300.1L28.15 300.1M31.4 304.9L28.15 304.9M28.15 300.1L28.15 304.9M31.4 295.3L25.14 295.3M28.15 302.5L25.14 302.5M25.14 295.3L25.14 302.5M31.4 290.5L24.14 290.5M25.14 298.9L24.14 298.9M24.14 290.5L24.14 298.9M31.4 285.7L22.2 285.7M24.14 294.7L22.2 294.7M22.2 285.7L22.2 294.7M23.95 278.5L22.2 278.5M22.2 290.2L22.2 290.2M22.2 278.5L22.2 290.2M31.4 309.7L23.58 309.7M31.4 314.5L23.58 314.5M23.58 309.7L23.58 314.5M23.58 312.1L22.74 312.1M31.4 319.3L22.74 319.3M22.74 312.1L22.74 319.3M22.74 315.7L22.13 315.7M31.4 324.1L22.13 324.1M22.13 315.7L22.13 324.1M22.13 319.9L21.18 319.9M31.4 328.9L21.18 328.9M21.18 319.9L21.18 328.9M31.4 333.7L22.8 333.7M31.4 338.5L22.8 338.5M22.8 333.7L22.8 338.5M21.18 324.4L20.5 324.4M22.8 336.1L20.5 336.1M20.5 324.4L20.5 336.1M31.4 343.3L19.01 343.3M31.4 348.1L19.01 348.1M19.01 343.3L19.01 348.1M31.4 352.9L19.86 352.9M31.4 357.7L19.86 357.7M19.86 352.9L19.86 357.7M31.4 362.5L21.97 362.5M31.4 367.3L21.97 367.3M21.97 362.5L21.97 367.3M19.86 355.3L19.64 355.3M21.97 364.9L19.64 364.9M19.64 355.3L19.64 364.9M31.4 372.1L21.05 372.1M31.4 376.9L21.05 376.9M21.05 372.1L21.05 376.9M19.64 360.1L18.65 360.1M21.05 374.5L18.65 374.5M18.65 360.1L18.65 374.5M31.4 381.7L19.54 381.7M31.4 386.5L19.54 386.5M19.54 381.7L19.54 386.5M31.4 391.3L21.8 391.3M31.4 396.1L21.8 396.1M21.8 391.3L21.8 396.1M19.54 384.1L18.99 384.1M21.8 393.7L18.99 393.7M18.99 384.1L18.99 393.7M31.4 415.3L23.29 415.3M31.4 420.1L23.29 420.1M23.29 415.3L23.29 420.1M23.29 417.7L23.05 417.7M31.4 424.9L23.05 424.9M23.05 417.7L23.05 424.9M31.4 410.5L23.05 410.5M23.05 421.3L23.05 421.3M23.05 410.5L23.05 421.3M31.4 405.7L22.52 405.7M23.05 415.9L22.52 415.9M22.52 405.7L22.52 415.9M22.52 410.8L22.45 410.8M31.4 429.7L22.45 429.7M22.45 410.8L22.45 429.7M31.4 400.9L20.6 400.9M22.45 420.25L20.6 420.25M20.6 400.9L20.6 420.25M31.4 439.3L21.39 439.3M31.4 444.1L21.39 444.1M21.39 439.3L21.39 444.1M21.39 441.7L21.39 441.7M31.4 448.9L21.39 448.9M21.39 441.7L21.39 448.9M21.39 445.3L20.48 445.3M31.4 453.7L20.48 453.7M20.48 445.3L20.48 453.7M31.4 458.5L21.64 458.5M31.4 463.3L21.64 463.3M21.64 458.5L21.64 463.3M20.48 449.5L20.48 449.5M21.64 460.9L20.48 460.9M20.48 449.5L20.48 460.9M31.4 434.5L19.68 434.5M20.48 455.2L19.68 455.2M19.68 434.5L19.68 455.2M20.6 410.57L19.68 410.57M19.68 444.85L19.68 444.85M19.68 410.57L19.68 444.85M18.99 388.9L18.39 388.9M19.68 427.71L18.39 427.71M18.39 388.9L18.39 427.71M18.65 367.3L18.07 367.3M18.39 408.31L18.07 408.31M18.07 367.3L18.07 408.31M19.01 345.7L16.5 345.7M18.07 387.8L16.5 387.8M16.5 345.7L16.5 387.8M20.5 330.25L14.4 330.25M16.5 366.75L14.4 366.75M14.4 330.25L14.4 366.75M22.2 284.35L6.1 284.35M14.4 348.5L6.1 348.5M6.1 284.35L6.1 348.5" stroke="#555" stroke-width="0.6" fill="none"/>
<text x="100.1" y="262" font-size="9.3" text-anchor="middle" fill="#111">CD33low MNP/LC</text>
<path fill="#FCFCC6" d="M236.2 272.5h3.67v4.8h-3.67zM250.88 272.5h3.67v4.8h-3.67zM269.23 272.5h3.67v4.8h-3.67zM287.58 272.5h3.67v4.8h-3.67zM305.93 272.5h3.67v4.8h-3.67zM316.94 272.5h3.67v4.8h-3.67zM346.3 272.5h3.67v4.8h-3.67zM243.54 277.3h3.67v4.8h-3.67zM254.55 277.3h3.67v4.8h-3.67zM258.22 277.3h3.67v4.8h-3.67zM239.87 282.1h3.67v4.8h-3.67zM261.89 282.1h3.67v4.8h-3.67zM287.58 282.1h3.67v4.8h-3.67zM294.92 282.1h3.67v4.8h-3.67zM316.94 282.1h3.67v4.8h-3.67zM236.2 286.9h3.67v4.8h-3.67zM261.89 286.9h3.67v4.8h-3.67zM305.93 286.9h3.67v4.8h-3.67zM316.94 286.9h3.67v4.8h-3.67zM261.89 291.7h3.67v4.8h-3.67zM305.93 291.7h3.67v4.8h-3.67zM335.29 291.7h3.67v4.8h-3.67zM338.96 291.7h3.67v4.8h-3.67zM243.54 296.5h3.67v4.8h-3.67zM247.21 296.5h3.67v4.8h-3.67zM254.55 296.5h3.67v4.8h-3.67zM261.89 296.5h3.67v4.8h-3.67zM335.29 296.5h3.67v4.8h-3.67zM338.96 296.5h3.67v4.8h-3.67zM346.3 296.5h3.67v4.8h-3.67zM239.87 301.3h3.67v4.8h-3.67zM243.54 301.3h3.67v4.8h-3.67zM250.88 301.3h3.67v4.8h-3.67zM261.89 301.3h3.67v4.8h-3.67zM236.2 306.1h3.67v4.8h-3.67zM243.54 306.1h3.67v4.8h-3.67zM250.88 306.1h3.67v4.8h-3.67zM291.25 306.1h3.67v4.8h-3.67zM324.28 306.1h3.67v4.8h-3.67zM342.63 306.1h3.67v4.8h-3.67zM243.54 310.9h3.67v4.8h-3.67zM247.21 310.9h3.67v4.8h-3.67zM261.89 310.9h3.67v4.8h-3.67zM309.6 310.9h3.67v4.8h-3.67zM342.63 310.9h3.67v4.8h-3.67zM243.54 315.7h3.67v4.8h-3.67zM258.22 315.7h3.67v4.8h-3.67zM261.89 315.7h3.67v4.8h-3.67zM280.24 315.7h3.67v4.8h-3.67zM298.59 315.7h3.67v4.8h-3.67zM236.2 320.5h3.67v4.8h-3.67zM239.87 320.5h3.67v4.8h-3.67zM243.54 320.5h3.67v4.8h-3.67zM250.88 320.5h3.67v4.8h-3.67zM261.89 320.5h3.67v4.8h-3.67zM331.62 320.5h3.67v4.8h-3.67zM236.2 325.3h3.67v4.8h-3.67zM243.54 325.3h3.67v4.8h-3.67zM250.88 325.3h3.67v4.8h-3.67zM261.89 325.3h3.67v4.8h-3.67zM342.63 325.3h3.67v4.8h-3.67zM243.54 330.1h3.67v4.8h-3.67zM250.88 330.1h3.67v4.8h-3.67zM261.89 330.1h3.67v4.8h-3.67zM309.6 330.1h3.67v4.8h-3.67zM316.94 330.1h3.67v4.8h-3.67zM331.62 330.1h3.67v4.8h-3.67zM335.29 330.1h3.67v4.8h-3.67zM250.88 334.9h3.67v4.8h-3.67zM287.58 334.9h3.67v4.8h-3.67zM305.93 334.9h3.67v4.8h-3.67zM309.6 334.9h3.67v4.8h-3.67zM316.94 334.9h3.67v4.8h-3.67zM320.61 334.9h3.67v4.8h-3.67zM331.62 334.9h3.67v4.8h-3.67zM338.96 334.9h3.67v4.8h-3.67zM342.63 334.9h3.67v4.8h-3.67zM236.2 339.7h3.67v4.8h-3.67zM261.89 339.7h3.67v4.8h-3.67zM305.93 339.7h3.67v4.8h-3.67zM309.6 339.7h3.67v4.8h-3.67zM316.94 339.7h3.67v4.8h-3.67zM320.61 339.7h3.67v4.8h-3.67zM331.62 339.7h3.67v4.8h-3.67zM335.29 339.7h3.67v4.8h-3.67zM236.2 344.5h3.67v4.8h-3.67zM250.88 344.5h3.67v4.8h-3.67zM261.89 344.5h3.67v4.8h-3.67zM291.25 344.5h3.67v4.8h-3.67zM294.92 344.5h3.67v4.8h-3.67zM305.93 344.5h3.67v4.8h-3.67zM316.94 344.5h3.67v4.8h-3.67zM305.93 349.3h3.67v4.8h-3.67zM309.6 349.3h3.67v4.8h-3.67zM313.27 349.3h3.67v4.8h-3.67zM327.95 349.3h3.67v4.8h-3.67zM331.62 349.3h3.67v4.8h-3.67zM346.3 349.3h3.67v4.8h-3.67zM236.2 354.1h3.67v4.8h-3.67zM247.21 354.1h3.67v4.8h-3.67zM250.88 354.1h3.67v4.8h-3.67zM313.27 354.1h3.67v4.8h-3.67zM316.94 354.1h3.67v4.8h-3.67zM327.95 354.1h3.67v4.8h-3.67zM346.3 354.1h3.67v4.8h-3.67zM250.88 358.9h3.67v4.8h-3.67zM261.89 358.9h3.67v4.8h-3.67zM316.94 358.9h3.67v4.8h-3.67zM324.28 358.9h3.67v4.8h-3.67zM327.95 358.9h3.67v4.8h-3.67zM342.63 358.9h3.67v4.8h-3.67zM258.22 363.7h3.67v4.8h-3.67zM276.57 363.7h3.67v4.8h-3.67zM287.58 363.7h3.67v4.8h-3.67zM294.92 363.7h3.67v4.8h-3.67zM305.93 363.7h3.67v4.8h-3.67zM320.61 363.7h3.67v4.8h-3.67zM335.29 363.7h3.67v4.8h-3.67zM302.26 368.5h3.67v4.8h-3.67zM327.95 368.5h3.67v4.8h-3.67zM269.23 373.3h3.67v4.8h-3.67zM272.9 373.3h3.67v4.8h-3.67zM265.56 378.1h3.67v4.8h-3.67zM309.6 378.1h3.67v4.8h-3.67zM342.63 378.1h3.67v4.8h-3.67zM243.54 382.9h3.67v4.8h-3.67zM247.21 382.9h3.67v4.8h-3.67zM254.55 382.9h3.67v4.8h-3.67zM265.56 382.9h3.67v4.8h-3.67zM309.6 382.9h3.67v4.8h-3.67zM335.29 382.9h3.67v4.8h-3.67zM261.89 387.7h3.67v4.8h-3.67zM305.93 387.7h3.67v4.8h-3.67zM309.6 387.7h3.67v4.8h-3.67zM338.96 387.7h3.67v4.8h-3.67zM239.87 392.5h3.67v4.8h-3.67zM254.55 392.5h3.67v4.8h-3.67zM309.6 392.5h3.67v4.8h-3.67zM320.61 392.5h3.67v4.8h-3.67zM335.29 392.5h3.67v4.8h-3.67zM338.96 392.5h3.67v4.8h-3.67zM342.63 392.5h3.67v4.8h-3.67zM265.56 397.3h3.67v4.8h-3.67zM305.93 397.3h3.67v4.8h-3.67zM316.94 397.3h3.67v4.8h-3.67zM342.63 397.3h3.67v4.8h-3.67zM236.2 402.1h3.67v4.8h-3.67zM261.89 402.1h3.67v4.8h-3.67zM287.58 402.1h3.67v4.8h-3.67zM291.25 402.1h3.67v4.8h-3.67zM313.27 402.1h3.67v4.8h-3.67zM327.95 402.1h3.67v4.8h-3.67zM335.29 402.1h3.67v4.8h-3.67zM338.96 402.1h3.67v4.8h-3.67zM320.61 406.9h3.67v4.8h-3.67zM272.9 411.7h3.67v4.8h-3.67zM313.27 411.7h3.67v4.8h-3.67zM324.28 411.7h3.67v4.8h-3.67zM331.62 411.7h3.67v4.8h-3.67zM298.59 416.5h3.67v4.8h-3.67zM309.6 416.5h3.67v4.8h-3.67zM320.61 416.5h3.67v4.8h-3.67zM239.87 421.3h3.67v4.8h-3.67zM276.57 421.3h3.67v4.8h-3.67zM302.26 421.3h3.67v4.8h-3.67zM305.93 421.3h3.67v4.8h-3.67zM331.62 421.3h3.67v4.8h-3.67zM338.96 421.3h3.67v4.8h-3.67zM261.89 426.1h3.67v4.8h-3.67zM309.6 426.1h3.67v4.8h-3.67zM316.94 426.1h3.67v4.8h-3.67zM338.96 426.1h3.67v4.8h-3.67zM342.63 426.1h3.67v4.8h-3.67zM305.93 430.9h3.67v4.8h-3.67zM309.6 430.9h3.67v4.8h-3.67zM316.94 430.9h3.67v4.8h-3.67zM324.28 430.9h3.67v4.8h-3.67zM258.22 435.7h3.67v4.8h-3.67zM269.23 435.7h3.67v4.8h-3.67zM283.91 435.7h3.67v4.8h-3.67zM305.93 435.7h3.67v4.8h-3.67zM309.6 435.7h3.67v4.8h-3.67zM316.94 435.7h3.67v4.8h-3.67zM320.61 435.7h3.67v4.8h-3.67zM335.29 435.7h3.67v4.8h-3.67zM346.3 435.7h3.67v4.8h-3.67zM313.27 440.5h3.67v4.8h-3.67zM320.61 440.5h3.67v4.8h-3.67zM327.95 440.5h3.67v4.8h-3.67zM335.29 440.5h3.67v4.8h-3.67zM338.96 440.5h3.67v4.8h-3.67zM342.63 440.5h3.67v4.8h-3.67zM236.2 445.3h3.67v4.8h-3.67zM305.93 445.3h3.67v4.8h-3.67zM313.27 445.3h3.67v4.8h-3.67zM324.28 445.3h3.67v4.8h-3.67zM335.29 445.3h3.67v4.8h-3.67zM309.6 450.1h3.67v4.8h-3.67zM313.27 450.1h3.67v4.8h-3.67zM320.61 450.1h3.67v4.8h-3.67zM324.28 450.1h3.67v4.8h-3.67zM331.62 450.1h3.67v4.8h-3.67zM335.29 450.1h3.67v4.8h-3.67zM298.59 454.9h3.67v4.8h-3.67zM320.61 454.9h3.67v4.8h-3.67zM346.3 454.9h3.67v4.8h-3.67zM313.27 459.7h3.67v4.8h-3.67zM331.62 459.7h3.67v4.8h-3.67z"/>
<path fill="#D6EBF3" d="M239.87 272.5h3.67v4.8h-3.67zM243.54 272.5h3.67v4.8h-3.67zM247.21 272.5h3.67v4.8h-3.67zM254.55 272.5h3.67v4.8h-3.67zM265.56 272.5h3.67v4.8h-3.67zM272.9 272.5h3.67v4.8h-3.67zM276.57 272.5h3.67v4.8h-3.67zM280.24 272.5h3.67v4.8h-3.67zM283.91 272.5h3.67v4.8h-3.67zM291.25 272.5h3.67v4.8h-3.67zM294.92 272.5h3.67v4.8h-3.67zM298.59 272.5h3.67v4.8h-3.67zM302.26 272.5h3.67v4.8h-3.67zM335.29 272.5h3.67v4.8h-3.67zM265.56 277.3h3.67v4.8h-3.67zM269.23 277.3h3.67v4.8h-3.67zM272.9 277.3h3.67v4.8h-3.67zM276.57 277.3h3.67v4.8h-3.67zM280.24 277.3h3.67v4.8h-3.67zM283.91 277.3h3.67v4.8h-3.67zM287.58 277.3h3.67v4.8h-3.67zM291.25 277.3h3.67v4.8h-3.67zM294.92 277.3h3.67v4.8h-3.67zM298.59 277.3h3.67v4.8h-3.67zM302.26 277.3h3.67v4.8h-3.67zM320.61 277.3h3.67v4.8h-3.67zM324.28 277.3h3.67v4.8h-3.67zM327.95 277.3h3.67v4.8h-3.67zM331.62 277.3h3.67v4.8h-3.67zM335.29 277.3h3.67v4.8h-3.67zM342.63 277.3h3.67v4.8h-3.67zM346.3 277.3h3.67v4.8h-3.67zM243.54 282.1h3.67v4.8h-3.67zM265.56 282.1h3.67v4.8h-3.67zM269.23 282.1h3.67v4.8h-3.67zM283.91 282.1h3.67v4.8h-3.67zM298.59 282.1h3.67v4.8h-3.67zM302.26 282.1h3.67v4.8h-3.67zM320.61 282.1h3.67v4.8h-3.67zM324.28 282.1h3.67v4.8h-3.67zM331.62 282.1h3.67v4.8h-3.67zM335.29 282.1h3.67v4.8h-3.67zM243.54 286.9h3.67v4.8h-3.67zM247.21 286.9h3.67v4.8h-3.67zM254.55 286.9h3.67v4.8h-3.67zM258.22 286.9h3.67v4.8h-3.67zM309.6 286.9h3.67v4.8h-3.67zM313.27 286.9h3.67v4.8h-3.67zM320.61 286.9h3.67v4.8h-3.67zM327.95 286.9h3.67v4.8h-3.67zM331.62 286.9h3.67v4.8h-3.67zM335.29 286.9h3.67v4.8h-3.67zM342.63 286.9h3.67v4.8h-3.67zM346.3 286.9h3.67v4.8h-3.67zM243.54 291.7h3.67v4.8h-3.67zM254.55 291.7h3.67v4.8h-3.67zM309.6 291.7h3.67v4.8h-3.67zM320.61 291.7h3.67v4.8h-3.67zM324.28 291.7h3.67v4.8h-3.67zM331.62 291.7h3.67v4.8h-3.67zM342.63 291.7h3.67v4.8h-3.67zM346.3 291.7h3.67v4.8h-3.67zM258.22 296.5h3.67v4.8h-3.67zM309.6 296.5h3.67v4.8h-3.67zM316.94 296.5h3.67v4.8h-3.67zM320.61 296.5h3.67v4.8h-3.67zM331.62 296.5h3.67v4.8h-3.67zM342.63 296.5h3.67v4.8h-3.67zM247.21 301.3h3.67v4.8h-3.67zM254.55 301.3h3.67v4.8h-3.67zM309.6 301.3h3.67v4.8h-3.67zM313.27 301.3h3.67v4.8h-3.67zM316.94 301.3h3.67v4.8h-3.67zM324.28 301.3h3.67v4.8h-3.67zM327.95 301.3h3.67v4.8h-3.67zM335.29 301.3h3.67v4.8h-3.67zM338.96 301.3h3.67v4.8h-3.67zM346.3 301.3h3.67v4.8h-3.67zM239.87 306.1h3.67v4.8h-3.67zM254.55 306.1h3.67v4.8h-3.67zM280.24 306.1h3.67v4.8h-3.67zM305.93 306.1h3.67v4.8h-3.67zM309.6 306.1h3.67v4.8h-3.67zM313.27 306.1h3.67v4.8h-3.67zM316.94 306.1h3.67v4.8h-3.67zM320.61 306.1h3.67v4.8h-3.67zM327.95 306.1h3.67v4.8h-3.67zM331.62 306.1h3.67v4.8h-3.67zM335.29 306.1h3.67v4.8h-3.67zM338.96 306.1h3.67v4.8h-3.67zM254.55 310.9h3.67v4.8h-3.67zM258.22 310.9h3.67v4.8h-3.67zM305.93 310.9h3.67v4.8h-3.67zM313.27 310.9h3.67v4.8h-3.67zM316.94 310.9h3.67v4.8h-3.67zM338.96 310.9h3.67v4.8h-3.67zM305.93 315.7h3.67v4.8h-3.67zM313.27 315.7h3.67v4.8h-3.67zM331.62 315.7h3.67v4.8h-3.67zM338.96 315.7h3.67v4.8h-3.67zM342.63 315.7h3.67v4.8h-3.67zM254.55 320.5h3.67v4.8h-3.67zM313.27 320.5h3.67v4.8h-3.67zM324.28 320.5h3.67v4.8h-3.67zM239.87 325.3h3.67v4.8h-3.67zM247.21 325.3h3.67v4.8h-3.67zM258.22 325.3h3.67v4.8h-3.67zM309.6 325.3h3.67v4.8h-3.67zM316.94 325.3h3.67v4.8h-3.67zM320.61 325.3h3.67v4.8h-3.67zM324.28 325.3h3.67v4.8h-3.67zM331.62 325.3h3.67v4.8h-3.67zM335.29 325.3h3.67v4.8h-3.67zM236.2 330.1h3.67v4.8h-3.67zM239.87 330.1h3.67v4.8h-3.67zM258.22 330.1h3.67v4.8h-3.67zM320.61 330.1h3.67v4.8h-3.67zM342.63 330.1h3.67v4.8h-3.67zM239.87 334.9h3.67v4.8h-3.67zM243.54 334.9h3.67v4.8h-3.67zM247.21 334.9h3.67v4.8h-3.67zM261.89 334.9h3.67v4.8h-3.67zM324.28 334.9h3.67v4.8h-3.67zM239.87 339.7h3.67v4.8h-3.67zM247.21 339.7h3.67v4.8h-3.67zM313.27 339.7h3.67v4.8h-3.67zM342.63 339.7h3.67v4.8h-3.67zM239.87 344.5h3.67v4.8h-3.67zM258.22 344.5h3.67v4.8h-3.67zM313.27 344.5h3.67v4.8h-3.67zM324.28 344.5h3.67v4.8h-3.67zM327.95 344.5h3.67v4.8h-3.67zM335.29 344.5h3.67v4.8h-3.67zM338.96 344.5h3.67v4.8h-3.67zM236.2 349.3h3.67v4.8h-3.67zM239.87 349.3h3.67v4.8h-3.67zM243.54 349.3h3.67v4.8h-3.67zM247.21 349.3h3.67v4.8h-3.67zM250.88 349.3h3.67v4.8h-3.67zM258.22 349.3h3.67v4.8h-3.67zM261.89 349.3h3.67v4.8h-3.67zM320.61 349.3h3.67v4.8h-3.67zM324.28 349.3h3.67v4.8h-3.67zM335.29 349.3h3.67v4.8h-3.67zM338.96 349.3h3.67v4.8h-3.67zM342.63 349.3h3.67v4.8h-3.67zM261.89 354.1h3.67v4.8h-3.67zM320.61 354.1h3.67v4.8h-3.67zM331.62 354.1h3.67v4.8h-3.67zM342.63 354.1h3.67v4.8h-3.67zM239.87 358.9h3.67v4.8h-3.67zM243.54 358.9h3.67v4.8h-3.67zM338.96 358.9h3.67v4.8h-3.67zM236.2 363.7h3.67v4.8h-3.67zM239.87 363.7h3.67v4.8h-3.67zM243.54 363.7h3.67v4.8h-3.67zM247.21 363.7h3.67v4.8h-3.67zM250.88 363.7h3.67v4.8h-3.67zM254.55 363.7h3.67v4.8h-3.67zM261.89 363.7h3.67v4.8h-3.67zM298.59 363.7h3.67v4.8h-3.67zM309.6 363.7h3.67v4.8h-3.67zM316.94 363.7h3.67v4.8h-3.67zM324.28 363.7h3.67v4.8h-3.67zM327.95 363.7h3.67v4.8h-3.67zM331.62 363.7h3.67v4.8h-3.67zM338.96 363.7h3.67v4.8h-3.67zM342.63 363.7h3.67v4.8h-3.67zM236.2 368.5h3.67v4.8h-3.67zM239.87 368.5h3.67v4.8h-3.67zM243.54 368.5h3.67v4.8h-3.67zM247.21 368.5h3.67v4.8h-3.67zM250.88 368.5h3.67v4.8h-3.67zM254.55 368.5h3.67v4.8h-3.67zM258.22 368.5h3.67v4.8h-3.67zM261.89 368.5h3.67v4.8h-3.67zM309.6 368.5h3.67v4.8h-3.67zM313.27 368.5h3.67v4.8h-3.67zM320.61 368.5h3.67v4.8h-3.67zM335.29 368.5h3.67v4.8h-3.67zM338.96 368.5h3.67v4.8h-3.67zM342.63 368.5h3.67v4.8h-3.67zM346.3 368.5h3.67v4.8h-3.67zM239.87 373.3h3.67v4.8h-3.67zM243.54 373.3h3.67v4.8h-3.67zM250.88 373.3h3.67v4.8h-3.67zM254.55 373.3h3.67v4.8h-3.67zM258.22 373.3h3.67v4.8h-3.67zM261.89 373.3h3.67v4.8h-3.67zM305.93 373.3h3.67v4.8h-3.67zM309.6 373.3h3.67v4.8h-3.67zM313.27 373.3h3.67v4.8h-3.67zM316.94 373.3h3.67v4.8h-3.67zM320.61 373.3h3.67v4.8h-3.67zM327.95 373.3h3.67v4.8h-3.67zM335.29 373.3h3.67v4.8h-3.67zM342.63 373.3h3.67v4.8h-3.67zM346.3 373.3h3.67v4.8h-3.67zM239.87 378.1h3.67v4.8h-3.67zM243.54 378.1h3.67v4.8h-3.67zM247.21 378.1h3.67v4.8h-3.67zM254.55 378.1h3.67v4.8h-3.67zM258.22 378.1h3.67v4.8h-3.67zM327.95 378.1h3.67v4.8h-3.67zM236.2 382.9h3.67v4.8h-3.67zM258.22 382.9h3.67v4.8h-3.67zM342.63 382.9h3.67v4.8h-3.67zM236.2 387.7h3.67v4.8h-3.67zM239.87 387.7h3.67v4.8h-3.67zM236.2 392.5h3.67v4.8h-3.67zM243.54 392.5h3.67v4.8h-3.67zM261.89 392.5h3.67v4.8h-3.67zM313.27 392.5h3.67v4.8h-3.67zM236.2 397.3h3.67v4.8h-3.67zM239.87 397.3h3.67v4.8h-3.67zM261.89 397.3h3.67v4.8h-3.67zM313.27 397.3h3.67v4.8h-3.67zM239.87 402.1h3.67v4.8h-3.67zM243.54 402.1h3.67v4.8h-3.67zM309.6 402.1h3.67v4.8h-3.67zM236.2 406.9h3.67v4.8h-3.67zM239.87 406.9h3.67v4.8h-3.67zM243.54 406.9h3.67v4.8h-3.67zM261.89 406.9h3.67v4.8h-3.67zM236.2 411.7h3.67v4.8h-3.67zM239.87 411.7h3.67v4.8h-3.67zM243.54 411.7h3.67v4.8h-3.67zM261.89 411.7h3.67v4.8h-3.67zM236.2 416.5h3.67v4.8h-3.67zM239.87 416.5h3.67v4.8h-3.67zM243.54 416.5h3.67v4.8h-3.67zM247.21 416.5h3.67v4.8h-3.67zM250.88 416.5h3.67v4.8h-3.67zM254.55 416.5h3.67v4.8h-3.67zM258.22 416.5h3.67v4.8h-3.67zM261.89 416.5h3.67v4.8h-3.67zM313.27 416.5h3.67v4.8h-3.67zM331.62 416.5h3.67v4.8h-3.67zM335.29 416.5h3.67v4.8h-3.67zM338.96 416.5h3.67v4.8h-3.67zM236.2 421.3h3.67v4.8h-3.67zM243.54 421.3h3.67v4.8h-3.67zM247.21 421.3h3.67v4.8h-3.67zM250.88 421.3h3.67v4.8h-3.67zM254.55 421.3h3.67v4.8h-3.67zM258.22 421.3h3.67v4.8h-3.67zM261.89 421.3h3.67v4.8h-3.67zM313.27 421.3h3.67v4.8h-3.67zM316.94 421.3h3.67v4.8h-3.67zM324.28 421.3h3.67v4.8h-3.67zM342.63 421.3h3.67v4.8h-3.67zM236.2 426.1h3.67v4.8h-3.67zM239.87 426.1h3.67v4.8h-3.67zM243.54 426.1h3.67v4.8h-3.67zM247.21 426.1h3.67v4.8h-3.67zM250.88 426.1h3.67v4.8h-3.67zM254.55 426.1h3.67v4.8h-3.67zM258.22 426.1h3.67v4.8h-3.67zM313.27 426.1h3.67v4.8h-3.67zM324.28 426.1h3.67v4.8h-3.67zM335.29 426.1h3.67v4.8h-3.67zM236.2 430.9h3.67v4.8h-3.67zM239.87 430.9h3.67v4.8h-3.67zM243.54 430.9h3.67v4.8h-3.67zM247.21 430.9h3.67v4.8h-3.67zM250.88 430.9h3.67v4.8h-3.67zM254.55 430.9h3.67v4.8h-3.67zM258.22 430.9h3.67v4.8h-3.67zM261.89 430.9h3.67v4.8h-3.67zM313.27 430.9h3.67v4.8h-3.67zM335.29 430.9h3.67v4.8h-3.67zM342.63 430.9h3.67v4.8h-3.67zM239.87 435.7h3.67v4.8h-3.67zM247.21 435.7h3.67v4.8h-3.67zM250.88 435.7h3.67v4.8h-3.67zM254.55 435.7h3.67v4.8h-3.67zM261.89 435.7h3.67v4.8h-3.67zM313.27 435.7h3.67v4.8h-3.67zM338.96 435.7h3.67v4.8h-3.67zM236.2 440.5h3.67v4.8h-3.67zM239.87 440.5h3.67v4.8h-3.67zM243.54 440.5h3.67v4.8h-3.67zM247.21 440.5h3.67v4.8h-3.67zM250.88 440.5h3.67v4.8h-3.67zM254.55 440.5h3.67v4.8h-3.67zM258.22 440.5h3.67v4.8h-3.67zM261.89 440.5h3.67v4.8h-3.67zM305.93 440.5h3.67v4.8h-3.67zM309.6 440.5h3.67v4.8h-3.67zM239.87 445.3h3.67v4.8h-3.67zM243.54 445.3h3.67v4.8h-3.67zM250.88 445.3h3.67v4.8h-3.67zM258.22 445.3h3.67v4.8h-3.67zM261.89 445.3h3.67v4.8h-3.67zM331.62 445.3h3.67v4.8h-3.67zM342.63 445.3h3.67v4.8h-3.67zM236.2 450.1h3.67v4.8h-3.67zM239.87 450.1h3.67v4.8h-3.67zM243.54 450.1h3.67v4.8h-3.67zM247.21 450.1h3.67v4.8h-3.67zM250.88 450.1h3.67v4.8h-3.67zM254.55 450.1h3.67v4.8h-3.67zM258.22 450.1h3.67v4.8h-3.67zM261.89 450.1h3.67v4.8h-3.67zM342.63 450.1h3.67v4.8h-3.67zM239.87 454.9h3.67v4.8h-3.67zM243.54 454.9h3.67v4.8h-3.67zM247.21 454.9h3.67v4.8h-3.67zM250.88 454.9h3.67v4.8h-3.67zM254.55 454.9h3.67v4.8h-3.67zM258.22 454.9h3.67v4.8h-3.67zM261.89 454.9h3.67v4.8h-3.67zM291.25 454.9h3.67v4.8h-3.67zM294.92 454.9h3.67v4.8h-3.67zM305.93 454.9h3.67v4.8h-3.67zM309.6 454.9h3.67v4.8h-3.67zM313.27 454.9h3.67v4.8h-3.67zM316.94 454.9h3.67v4.8h-3.67zM324.28 454.9h3.67v4.8h-3.67zM335.29 454.9h3.67v4.8h-3.67zM338.96 454.9h3.67v4.8h-3.67zM342.63 454.9h3.67v4.8h-3.67zM239.87 459.7h3.67v4.8h-3.67zM243.54 459.7h3.67v4.8h-3.67zM247.21 459.7h3.67v4.8h-3.67zM250.88 459.7h3.67v4.8h-3.67zM254.55 459.7h3.67v4.8h-3.67zM258.22 459.7h3.67v4.8h-3.67zM261.89 459.7h3.67v4.8h-3.67zM272.9 459.7h3.67v4.8h-3.67zM305.93 459.7h3.67v4.8h-3.67zM309.6 459.7h3.67v4.8h-3.67zM320.61 459.7h3.67v4.8h-3.67zM324.28 459.7h3.67v4.8h-3.67zM335.29 459.7h3.67v4.8h-3.67zM338.96 459.7h3.67v4.8h-3.67zM342.63 459.7h3.67v4.8h-3.67zM346.3 459.7h3.67v4.8h-3.67z"/>
<path fill="#EF6946" d="M258.22 272.5h3.67v4.8h-3.67zM313.27 277.3h3.67v4.8h-3.67zM327.95 282.1h3.67v4.8h-3.67zM265.56 306.1h3.67v4.8h-3.67zM294.92 325.3h3.67v4.8h-3.67zM272.9 363.7h3.67v4.8h-3.67zM280.24 363.7h3.67v4.8h-3.67zM298.59 373.3h3.67v4.8h-3.67zM327.95 426.1h3.67v4.8h-3.67zM327.95 445.3h3.67v4.8h-3.67zM276.57 454.9h3.67v4.8h-3.67zM280.24 454.9h3.67v4.8h-3.67zM331.62 454.9h3.67v4.8h-3.67zM291.25 459.7h3.67v4.8h-3.67zM327.95 459.7h3.67v4.8h-3.67z"/>
<path fill="#FEE093" d="M261.89 272.5h3.67v4.8h-3.67zM309.6 272.5h3.67v4.8h-3.67zM313.27 272.5h3.67v4.8h-3.67zM327.95 272.5h3.67v4.8h-3.67zM331.62 272.5h3.67v4.8h-3.67zM239.87 277.3h3.67v4.8h-3.67zM250.88 277.3h3.67v4.8h-3.67zM236.2 282.1h3.67v4.8h-3.67zM250.88 282.1h3.67v4.8h-3.67zM291.25 282.1h3.67v4.8h-3.67zM305.93 282.1h3.67v4.8h-3.67zM313.27 282.1h3.67v4.8h-3.67zM342.63 282.1h3.67v4.8h-3.67zM346.3 282.1h3.67v4.8h-3.67zM239.87 286.9h3.67v4.8h-3.67zM250.88 286.9h3.67v4.8h-3.67zM272.9 286.9h3.67v4.8h-3.67zM276.57 286.9h3.67v4.8h-3.67zM280.24 286.9h3.67v4.8h-3.67zM283.91 286.9h3.67v4.8h-3.67zM287.58 286.9h3.67v4.8h-3.67zM338.96 286.9h3.67v4.8h-3.67zM236.2 291.7h3.67v4.8h-3.67zM239.87 291.7h3.67v4.8h-3.67zM250.88 291.7h3.67v4.8h-3.67zM265.56 291.7h3.67v4.8h-3.67zM269.23 291.7h3.67v4.8h-3.67zM272.9 291.7h3.67v4.8h-3.67zM276.57 291.7h3.67v4.8h-3.67zM280.24 291.7h3.67v4.8h-3.67zM283.91 291.7h3.67v4.8h-3.67zM316.94 291.7h3.67v4.8h-3.67zM236.2 296.5h3.67v4.8h-3.67zM239.87 296.5h3.67v4.8h-3.67zM250.88 296.5h3.67v4.8h-3.67zM265.56 296.5h3.67v4.8h-3.67zM269.23 296.5h3.67v4.8h-3.67zM272.9 296.5h3.67v4.8h-3.67zM276.57 296.5h3.67v4.8h-3.67zM280.24 296.5h3.67v4.8h-3.67zM283.91 296.5h3.67v4.8h-3.67zM287.58 296.5h3.67v4.8h-3.67zM298.59 296.5h3.67v4.8h-3.67zM236.2 301.3h3.67v4.8h-3.67zM265.56 301.3h3.67v4.8h-3.67zM276.57 301.3h3.67v4.8h-3.67zM283.91 301.3h3.67v4.8h-3.67zM287.58 301.3h3.67v4.8h-3.67zM305.93 301.3h3.67v4.8h-3.67zM320.61 301.3h3.67v4.8h-3.67zM331.62 301.3h3.67v4.8h-3.67zM261.89 306.1h3.67v4.8h-3.67zM283.91 306.1h3.67v4.8h-3.67zM287.58 306.1h3.67v4.8h-3.67zM294.92 306.1h3.67v4.8h-3.67zM302.26 306.1h3.67v4.8h-3.67zM346.3 306.1h3.67v4.8h-3.67zM236.2 310.9h3.67v4.8h-3.67zM239.87 310.9h3.67v4.8h-3.67zM265.56 310.9h3.67v4.8h-3.67zM269.23 310.9h3.67v4.8h-3.67zM276.57 310.9h3.67v4.8h-3.67zM280.24 310.9h3.67v4.8h-3.67zM283.91 310.9h3.67v4.8h-3.67zM287.58 310.9h3.67v4.8h-3.67zM294.92 310.9h3.67v4.8h-3.67zM298.59 310.9h3.67v4.8h-3.67zM331.62 310.9h3.67v4.8h-3.67zM346.3 310.9h3.67v4.8h-3.67zM239.87 315.7h3.67v4.8h-3.67zM250.88 315.7h3.67v4.8h-3.67zM265.56 315.7h3.67v4.8h-3.67zM269.23 315.7h3.67v4.8h-3.67zM272.9 315.7h3.67v4.8h-3.67zM276.57 315.7h3.67v4.8h-3.67zM283.91 315.7h3.67v4.8h-3.67zM287.58 315.7h3.67v4.8h-3.67zM291.25 315.7h3.67v4.8h-3.67zM294.92 315.7h3.67v4.8h-3.67zM302.26 315.7h3.67v4.8h-3.67zM327.95 315.7h3.67v4.8h-3.67zM346.3 315.7h3.67v4.8h-3.67zM265.56 320.5h3.67v4.8h-3.67zM272.9 320.5h3.67v4.8h-3.67zM276.57 320.5h3.67v4.8h-3.67zM280.24 320.5h3.67v4.8h-3.67zM283.91 320.5h3.67v4.8h-3.67zM287.58 320.5h3.67v4.8h-3.67zM294.92 320.5h3.67v4.8h-3.67zM298.59 320.5h3.67v4.8h-3.67zM302.26 320.5h3.67v4.8h-3.67zM327.95 320.5h3.67v4.8h-3.67zM338.96 320.5h3.67v4.8h-3.67zM265.56 325.3h3.67v4.8h-3.67zM269.23 325.3h3.67v4.8h-3.67zM272.9 325.3h3.67v4.8h-3.67zM276.57 325.3h3.67v4.8h-3.67zM280.24 325.3h3.67v4.8h-3.67zM283.91 325.3h3.67v4.8h-3.67zM287.58 325.3h3.67v4.8h-3.67zM291.25 325.3h3.67v4.8h-3.67zM298.59 325.3h3.67v4.8h-3.67zM302.26 325.3h3.67v4.8h-3.67zM305.93 325.3h3.67v4.8h-3.67zM346.3 325.3h3.67v4.8h-3.67zM265.56 330.1h3.67v4.8h-3.67zM269.23 330.1h3.67v4.8h-3.67zM272.9 330.1h3.67v4.8h-3.67zM276.57 330.1h3.67v4.8h-3.67zM280.24 330.1h3.67v4.8h-3.67zM283.91 330.1h3.67v4.8h-3.67zM287.58 330.1h3.67v4.8h-3.67zM302.26 330.1h3.67v4.8h-3.67zM305.93 330.1h3.67v4.8h-3.67zM313.27 330.1h3.67v4.8h-3.67zM327.95 330.1h3.67v4.8h-3.67zM346.3 330.1h3.67v4.8h-3.67zM272.9 334.9h3.67v4.8h-3.67zM276.57 334.9h3.67v4.8h-3.67zM280.24 334.9h3.67v4.8h-3.67zM283.91 334.9h3.67v4.8h-3.67zM291.25 334.9h3.67v4.8h-3.67zM294.92 334.9h3.67v4.8h-3.67zM298.59 334.9h3.67v4.8h-3.67zM302.26 334.9h3.67v4.8h-3.67zM313.27 334.9h3.67v4.8h-3.67zM335.29 334.9h3.67v4.8h-3.67zM346.3 334.9h3.67v4.8h-3.67zM243.54 339.7h3.67v4.8h-3.67zM265.56 339.7h3.67v4.8h-3.67zM272.9 339.7h3.67v4.8h-3.67zM276.57 339.7h3.67v4.8h-3.67zM280.24 339.7h3.67v4.8h-3.67zM283.91 339.7h3.67v4.8h-3.67zM287.58 339.7h3.67v4.8h-3.67zM291.25 339.7h3.67v4.8h-3.67zM298.59 339.7h3.67v4.8h-3.67zM302.26 339.7h3.67v4.8h-3.67zM324.28 339.7h3.67v4.8h-3.67zM338.96 339.7h3.67v4.8h-3.67zM346.3 339.7h3.67v4.8h-3.67zM265.56 344.5h3.67v4.8h-3.67zM269.23 344.5h3.67v4.8h-3.67zM272.9 344.5h3.67v4.8h-3.67zM276.57 344.5h3.67v4.8h-3.67zM280.24 344.5h3.67v4.8h-3.67zM283.91 344.5h3.67v4.8h-3.67zM287.58 344.5h3.67v4.8h-3.67zM302.26 344.5h3.67v4.8h-3.67zM331.62 344.5h3.67v4.8h-3.67zM342.63 344.5h3.67v4.8h-3.67zM346.3 344.5h3.67v4.8h-3.67zM265.56 349.3h3.67v4.8h-3.67zM269.23 349.3h3.67v4.8h-3.67zM276.57 349.3h3.67v4.8h-3.67zM280.24 349.3h3.67v4.8h-3.67zM291.25 349.3h3.67v4.8h-3.67zM294.92 349.3h3.67v4.8h-3.67zM298.59 349.3h3.67v4.8h-3.67zM302.26 349.3h3.67v4.8h-3.67zM316.94 349.3h3.67v4.8h-3.67zM239.87 354.1h3.67v4.8h-3.67zM265.56 354.1h3.67v4.8h-3.67zM269.23 354.1h3.67v4.8h-3.67zM272.9 354.1h3.67v4.8h-3.67zM276.57 354.1h3.67v4.8h-3.67zM280.24 354.1h3.67v4.8h-3.67zM283.91 354.1h3.67v4.8h-3.67zM287.58 354.1h3.67v4.8h-3.67zM291.25 354.1h3.67v4.8h-3.67zM294.92 354.1h3.67v4.8h-3.67zM298.59 354.1h3.67v4.8h-3.67zM305.93 354.1h3.67v4.8h-3.67zM309.6 354.1h3.67v4.8h-3.67zM324.28 354.1h3.67v4.8h-3.67zM265.56 358.9h3.67v4.8h-3.67zM269.23 358.9h3.67v4.8h-3.67zM272.9 358.9h3.67v4.8h-3.67zM276.57 358.9h3.67v4.8h-3.67zM283.91 358.9h3.67v4.8h-3.67zM287.58 358.9h3.67v4.8h-3.67zM291.25 358.9h3.67v4.8h-3.67zM294.92 358.9h3.67v4.8h-3.67zM298.59 358.9h3.67v4.8h-3.67zM305.93 358.9h3.67v4.8h-3.67zM313.27 358.9h3.67v4.8h-3.67zM331.62 358.9h3.67v4.8h-3.67zM346.3 358.9h3.67v4.8h-3.67zM265.56 363.7h3.67v4.8h-3.67zM269.23 363.7h3.67v4.8h-3.67zM302.26 363.7h3.67v4.8h-3.67zM313.27 363.7h3.67v4.8h-3.67zM265.56 368.5h3.67v4.8h-3.67zM269.23 368.5h3.67v4.8h-3.67zM276.57 368.5h3.67v4.8h-3.67zM283.91 368.5h3.67v4.8h-3.67zM287.58 368.5h3.67v4.8h-3.67zM294.92 368.5h3.67v4.8h-3.67zM331.62 368.5h3.67v4.8h-3.67zM236.2 373.3h3.67v4.8h-3.67zM276.57 373.3h3.67v4.8h-3.67zM283.91 373.3h3.67v4.8h-3.67zM287.58 373.3h3.67v4.8h-3.67zM291.25 373.3h3.67v4.8h-3.67zM294.92 373.3h3.67v4.8h-3.67zM324.28 373.3h3.67v4.8h-3.67zM331.62 373.3h3.67v4.8h-3.67zM338.96 373.3h3.67v4.8h-3.67zM269.23 378.1h3.67v4.8h-3.67zM276.57 378.1h3.67v4.8h-3.67zM280.24 378.1h3.67v4.8h-3.67zM283.91 378.1h3.67v4.8h-3.67zM287.58 378.1h3.67v4.8h-3.67zM291.25 378.1h3.67v4.8h-3.67zM294.92 378.1h3.67v4.8h-3.67zM298.59 378.1h3.67v4.8h-3.67zM302.26 378.1h3.67v4.8h-3.67zM305.93 378.1h3.67v4.8h-3.67zM313.27 378.1h3.67v4.8h-3.67zM316.94 378.1h3.67v4.8h-3.67zM320.61 378.1h3.67v4.8h-3.67zM331.62 378.1h3.67v4.8h-3.67zM335.29 378.1h3.67v4.8h-3.67zM346.3 378.1h3.67v4.8h-3.67zM280.24 382.9h3.67v4.8h-3.67zM283.91 382.9h3.67v4.8h-3.67zM291.25 382.9h3.67v4.8h-3.67zM298.59 382.9h3.67v4.8h-3.67zM302.26 382.9h3.67v4.8h-3.67zM305.93 382.9h3.67v4.8h-3.67zM313.27 382.9h3.67v4.8h-3.67zM316.94 382.9h3.67v4.8h-3.67zM320.61 382.9h3.67v4.8h-3.67zM327.95 382.9h3.67v4.8h-3.67zM331.62 382.9h3.67v4.8h-3.67zM338.96 382.9h3.67v4.8h-3.67zM346.3 382.9h3.67v4.8h-3.67zM269.23 387.7h3.67v4.8h-3.67zM272.9 387.7h3.67v4.8h-3.67zM280.24 387.7h3.67v4.8h-3.67zM287.58 387.7h3.67v4.8h-3.67zM291.25 387.7h3.67v4.8h-3.67zM294.92 387.7h3.67v4.8h-3.67zM298.59 387.7h3.67v4.8h-3.67zM302.26 387.7h3.67v4.8h-3.67zM316.94 387.7h3.67v4.8h-3.67zM320.61 387.7h3.67v4.8h-3.67zM331.62 387.7h3.67v4.8h-3.67zM335.29 387.7h3.67v4.8h-3.67zM342.63 387.7h3.67v4.8h-3.67zM346.3 387.7h3.67v4.8h-3.67zM265.56 392.5h3.67v4.8h-3.67zM269.23 392.5h3.67v4.8h-3.67zM272.9 392.5h3.67v4.8h-3.67zM280.24 392.5h3.67v4.8h-3.67zM283.91 392.5h3.67v4.8h-3.67zM287.58 392.5h3.67v4.8h-3.67zM291.25 392.5h3.67v4.8h-3.67zM298.59 392.5h3.67v4.8h-3.67zM302.26 392.5h3.67v4.8h-3.67zM305.93 392.5h3.67v4.8h-3.67zM316.94 392.5h3.67v4.8h-3.67zM324.28 392.5h3.67v4.8h-3.67zM331.62 392.5h3.67v4.8h-3.67zM269.23 397.3h3.67v4.8h-3.67zM272.9 397.3h3.67v4.8h-3.67zM280.24 397.3h3.67v4.8h-3.67zM283.91 397.3h3.67v4.8h-3.67zM287.58 397.3h3.67v4.8h-3.67zM291.25 397.3h3.67v4.8h-3.67zM294.92 397.3h3.67v4.8h-3.67zM298.59 397.3h3.67v4.8h-3.67zM302.26 397.3h3.67v4.8h-3.67zM309.6 397.3h3.67v4.8h-3.67zM320.61 397.3h3.67v4.8h-3.67zM324.28 397.3h3.67v4.8h-3.67zM327.95 397.3h3.67v4.8h-3.67zM331.62 397.3h3.67v4.8h-3.67zM335.29 397.3h3.67v4.8h-3.67zM338.96 397.3h3.67v4.8h-3.67zM346.3 397.3h3.67v4.8h-3.67zM265.56 402.1h3.67v4.8h-3.67zM272.9 402.1h3.67v4.8h-3.67zM276.57 402.1h3.67v4.8h-3.67zM280.24 402.1h3.67v4.8h-3.67zM283.91 402.1h3.67v4.8h-3.67zM298.59 402.1h3.67v4.8h-3.67zM302.26 402.1h3.67v4.8h-3.67zM305.93 402.1h3.67v4.8h-3.67zM316.94 402.1h3.67v4.8h-3.67zM320.61 402.1h3.67v4.8h-3.67zM324.28 402.1h3.67v4.8h-3.67zM331.62 402.1h3.67v4.8h-3.67zM342.63 402.1h3.67v4.8h-3.67zM265.56 406.9h3.67v4.8h-3.67zM269.23 406.9h3.67v4.8h-3.67zM272.9 406.9h3.67v4.8h-3.67zM276.57 406.9h3.67v4.8h-3.67zM280.24 406.9h3.67v4.8h-3.67zM283.91 406.9h3.67v4.8h-3.67zM287.58 406.9h3.67v4.8h-3.67zM291.25 406.9h3.67v4.8h-3.67zM294.92 406.9h3.67v4.8h-3.67zM298.59 406.9h3.67v4.8h-3.67zM302.26 406.9h3.67v4.8h-3.67zM305.93 406.9h3.67v4.8h-3.67zM309.6 406.9h3.67v4.8h-3.67zM313.27 406.9h3.67v4.8h-3.67zM316.94 406.9h3.67v4.8h-3.67zM324.28 406.9h3.67v4.8h-3.67zM327.95 406.9h3.67v4.8h-3.67zM331.62 406.9h3.67v4.8h-3.67zM335.29 406.9h3.67v4.8h-3.67zM338.96 406.9h3.67v4.8h-3.67zM342.63 406.9h3.67v4.8h-3.67zM346.3 406.9h3.67v4.8h-3.67zM265.56 411.7h3.67v4.8h-3.67zM269.23 411.7h3.67v4.8h-3.67zM276.57 411.7h3.67v4.8h-3.67zM280.24 411.7h3.67v4.8h-3.67zM283.91 411.7h3.67v4.8h-3.67zM287.58 411.7h3.67v4.8h-3.67zM291.25 411.7h3.67v4.8h-3.67zM294.92 411.7h3.67v4.8h-3.67zM298.59 411.7h3.67v4.8h-3.67zM302.26 411.7h3.67v4.8h-3.67zM305.93 411.7h3.67v4.8h-3.67zM309.6 411.7h3.67v4.8h-3.67zM316.94 411.7h3.67v4.8h-3.67zM320.61 411.7h3.67v4.8h-3.67zM327.95 411.7h3.67v4.8h-3.67zM335.29 411.7h3.67v4.8h-3.67zM338.96 411.7h3.67v4.8h-3.67zM342.63 411.7h3.67v4.8h-3.67zM346.3 411.7h3.67v4.8h-3.67zM269.23 416.5h3.67v4.8h-3.67zM272.9 416.5h3.67v4.8h-3.67zM280.24 416.5h3.67v4.8h-3.67zM283.91 416.5h3.67v4.8h-3.67zM287.58 416.5h3.67v4.8h-3.67zM294.92 416.5h3.67v4.8h-3.67zM305.93 416.5h3.67v4.8h-3.67zM316.94 416.5h3.67v4.8h-3.67zM327.95 416.5h3.67v4.8h-3.67zM346.3 416.5h3.67v4.8h-3.67zM280.24 421.3h3.67v4.8h-3.67zM287.58 421.3h3.67v4.8h-3.67zM291.25 421.3h3.67v4.8h-3.67zM294.92 421.3h3.67v4.8h-3.67zM298.59 421.3h3.67v4.8h-3.67zM309.6 421.3h3.67v4.8h-3.67zM320.61 421.3h3.67v4.8h-3.67zM335.29 421.3h3.67v4.8h-3.67zM346.3 421.3h3.67v4.8h-3.67zM269.23 426.1h3.67v4.8h-3.67zM283.91 426.1h3.67v4.8h-3.67zM291.25 426.1h3.67v4.8h-3.67zM298.59 426.1h3.67v4.8h-3.67zM302.26 426.1h3.67v4.8h-3.67zM305.93 426.1h3.67v4.8h-3.67zM320.61 426.1h3.67v4.8h-3.67zM331.62 426.1h3.67v4.8h-3.67zM346.3 426.1h3.67v4.8h-3.67zM269.23 430.9h3.67v4.8h-3.67zM272.9 430.9h3.67v4.8h-3.67zM283.91 430.9h3.67v4.8h-3.67zM287.58 430.9h3.67v4.8h-3.67zM291.25 430.9h3.67v4.8h-3.67zM294.92 430.9h3.67v4.8h-3.67zM302.26 430.9h3.67v4.8h-3.67zM320.61 430.9h3.67v4.8h-3.67zM327.95 430.9h3.67v4.8h-3.67zM331.62 430.9h3.67v4.8h-3.67zM338.96 430.9h3.67v4.8h-3.67zM346.3 430.9h3.67v4.8h-3.67zM236.2 435.7h3.67v4.8h-3.67zM243.54 435.7h3.67v4.8h-3.67zM272.9 435.7h3.67v4.8h-3.67zM280.24 435.7h3.67v4.8h-3.67zM287.58 435.7h3.67v4.8h-3.67zM291.25 435.7h3.67v4.8h-3.67zM298.59 435.7h3.67v4.8h-3.67zM302.26 435.7h3.67v4.8h-3.67zM324.28 435.7h3.67v4.8h-3.67zM327.95 435.7h3.67v4.8h-3.67zM269.23 440.5h3.67v4.8h-3.67zM280.24 440.5h3.67v4.8h-3.67zM283.91 440.5h3.67v4.8h-3.67zM287.58 440.5h3.67v4.8h-3.67zM291.25 440.5h3.67v4.8h-3.67zM294.92 440.5h3.67v4.8h-3.67zM298.59 440.5h3.67v4.8h-3.67zM302.26 440.5h3.67v4.8h-3.67zM316.94 440.5h3.67v4.8h-3.67zM324.28 440.5h3.67v4.8h-3.67zM331.62 440.5h3.67v4.8h-3.67zM346.3 440.5h3.67v4.8h-3.67zM254.55 445.3h3.67v4.8h-3.67zM269.23 445.3h3.67v4.8h-3.67zM280.24 445.3h3.67v4.8h-3.67zM283.91 445.3h3.67v4.8h-3.67zM287.58 445.3h3.67v4.8h-3.67zM291.25 445.3h3.67v4.8h-3.67zM298.59 445.3h3.67v4.8h-3.67zM302.26 445.3h3.67v4.8h-3.67zM316.94 445.3h3.67v4.8h-3.67zM320.61 445.3h3.67v4.8h-3.67zM338.96 445.3h3.67v4.8h-3.67zM346.3 445.3h3.67v4.8h-3.67zM269.23 450.1h3.67v4.8h-3.67zM272.9 450.1h3.67v4.8h-3.67zM280.24 450.1h3.67v4.8h-3.67zM283.91 450.1h3.67v4.8h-3.67zM291.25 450.1h3.67v4.8h-3.67zM294.92 450.1h3.67v4.8h-3.67zM298.59 450.1h3.67v4.8h-3.67zM302.26 450.1h3.67v4.8h-3.67zM305.93 450.1h3.67v4.8h-3.67zM316.94 450.1h3.67v4.8h-3.67zM338.96 450.1h3.67v4.8h-3.67zM346.3 450.1h3.67v4.8h-3.67zM265.56 454.9h3.67v4.8h-3.67zM269.23 454.9h3.67v4.8h-3.67zM283.91 454.9h3.67v4.8h-3.67zM287.58 454.9h3.67v4.8h-3.67zM265.56 459.7h3.67v4.8h-3.67zM269.23 459.7h3.67v4.8h-3.67zM283.91 459.7h3.67v4.8h-3.67zM298.59 459.7h3.67v4.8h-3.67zM302.26 459.7h3.67v4.8h-3.67zM316.94 459.7h3.67v4.8h-3.67z"/>
<path fill="#F99A5C" d="M320.61 272.5h3.67v4.8h-3.67zM324.28 272.5h3.67v4.8h-3.67zM338.96 272.5h3.67v4.8h-3.67zM342.63 272.5h3.67v4.8h-3.67zM247.21 277.3h3.67v4.8h-3.67zM316.94 277.3h3.67v4.8h-3.67zM247.21 282.1h3.67v4.8h-3.67zM294.92 286.9h3.67v4.8h-3.67zM302.26 286.9h3.67v4.8h-3.67zM291.25 301.3h3.67v4.8h-3.67zM294.92 301.3h3.67v4.8h-3.67zM276.57 306.1h3.67v4.8h-3.67zM291.25 330.1h3.67v4.8h-3.67zM327.95 334.9h3.67v4.8h-3.67zM327.95 339.7h3.67v4.8h-3.67zM298.59 344.5h3.67v4.8h-3.67zM294.92 392.5h3.67v4.8h-3.67zM276.57 416.5h3.67v4.8h-3.67zM327.95 421.3h3.67v4.8h-3.67zM265.56 426.1h3.67v4.8h-3.67zM265.56 435.7h3.67v4.8h-3.67zM276.57 440.5h3.67v4.8h-3.67zM276.57 445.3h3.67v4.8h-3.67zM327.95 450.1h3.67v4.8h-3.67zM302.26 454.9h3.67v4.8h-3.67zM280.24 459.7h3.67v4.8h-3.67z"/>
<path fill="#FDC77A" d="M236.2 277.3h3.67v4.8h-3.67zM261.89 277.3h3.67v4.8h-3.67zM305.93 277.3h3.67v4.8h-3.67zM309.6 277.3h3.67v4.8h-3.67zM338.96 277.3h3.67v4.8h-3.67zM254.55 282.1h3.67v4.8h-3.67zM258.22 282.1h3.67v4.8h-3.67zM309.6 282.1h3.67v4.8h-3.67zM338.96 282.1h3.67v4.8h-3.67zM265.56 286.9h3.67v4.8h-3.67zM269.23 286.9h3.67v4.8h-3.67zM291.25 286.9h3.67v4.8h-3.67zM298.59 286.9h3.67v4.8h-3.67zM324.28 286.9h3.67v4.8h-3.67zM287.58 291.7h3.67v4.8h-3.67zM291.25 291.7h3.67v4.8h-3.67zM294.92 291.7h3.67v4.8h-3.67zM298.59 291.7h3.67v4.8h-3.67zM302.26 291.7h3.67v4.8h-3.67zM291.25 296.5h3.67v4.8h-3.67zM294.92 296.5h3.67v4.8h-3.67zM302.26 296.5h3.67v4.8h-3.67zM269.23 301.3h3.67v4.8h-3.67zM272.9 301.3h3.67v4.8h-3.67zM280.24 301.3h3.67v4.8h-3.67zM298.59 301.3h3.67v4.8h-3.67zM302.26 301.3h3.67v4.8h-3.67zM247.21 306.1h3.67v4.8h-3.67zM258.22 306.1h3.67v4.8h-3.67zM269.23 306.1h3.67v4.8h-3.67zM272.9 306.1h3.67v4.8h-3.67zM298.59 306.1h3.67v4.8h-3.67zM250.88 310.9h3.67v4.8h-3.67zM272.9 310.9h3.67v4.8h-3.67zM291.25 310.9h3.67v4.8h-3.67zM302.26 310.9h3.67v4.8h-3.67zM327.95 310.9h3.67v4.8h-3.67zM236.2 315.7h3.67v4.8h-3.67zM247.21 315.7h3.67v4.8h-3.67zM254.55 315.7h3.67v4.8h-3.67zM269.23 320.5h3.67v4.8h-3.67zM291.25 320.5h3.67v4.8h-3.67zM320.61 320.5h3.67v4.8h-3.67zM335.29 320.5h3.67v4.8h-3.67zM342.63 320.5h3.67v4.8h-3.67zM346.3 320.5h3.67v4.8h-3.67zM327.95 325.3h3.67v4.8h-3.67zM294.92 330.1h3.67v4.8h-3.67zM298.59 330.1h3.67v4.8h-3.67zM338.96 330.1h3.67v4.8h-3.67zM265.56 334.9h3.67v4.8h-3.67zM269.23 334.9h3.67v4.8h-3.67zM269.23 339.7h3.67v4.8h-3.67zM294.92 339.7h3.67v4.8h-3.67zM309.6 344.5h3.67v4.8h-3.67zM283.91 349.3h3.67v4.8h-3.67zM287.58 349.3h3.67v4.8h-3.67zM302.26 354.1h3.67v4.8h-3.67zM236.2 358.9h3.67v4.8h-3.67zM280.24 358.9h3.67v4.8h-3.67zM302.26 358.9h3.67v4.8h-3.67zM283.91 363.7h3.67v4.8h-3.67zM291.25 363.7h3.67v4.8h-3.67zM346.3 363.7h3.67v4.8h-3.67zM272.9 368.5h3.67v4.8h-3.67zM280.24 368.5h3.67v4.8h-3.67zM291.25 368.5h3.67v4.8h-3.67zM298.59 368.5h3.67v4.8h-3.67zM305.93 368.5h3.67v4.8h-3.67zM316.94 368.5h3.67v4.8h-3.67zM324.28 368.5h3.67v4.8h-3.67zM265.56 373.3h3.67v4.8h-3.67zM302.26 373.3h3.67v4.8h-3.67zM272.9 378.1h3.67v4.8h-3.67zM324.28 378.1h3.67v4.8h-3.67zM338.96 378.1h3.67v4.8h-3.67zM269.23 382.9h3.67v4.8h-3.67zM272.9 382.9h3.67v4.8h-3.67zM276.57 382.9h3.67v4.8h-3.67zM287.58 382.9h3.67v4.8h-3.67zM294.92 382.9h3.67v4.8h-3.67zM324.28 382.9h3.67v4.8h-3.67zM265.56 387.7h3.67v4.8h-3.67zM276.57 387.7h3.67v4.8h-3.67zM324.28 387.7h3.67v4.8h-3.67zM327.95 387.7h3.67v4.8h-3.67zM276.57 392.5h3.67v4.8h-3.67zM327.95 392.5h3.67v4.8h-3.67zM346.3 392.5h3.67v4.8h-3.67zM276.57 397.3h3.67v4.8h-3.67zM269.23 402.1h3.67v4.8h-3.67zM294.92 402.1h3.67v4.8h-3.67zM346.3 402.1h3.67v4.8h-3.67zM265.56 416.5h3.67v4.8h-3.67zM291.25 416.5h3.67v4.8h-3.67zM324.28 416.5h3.67v4.8h-3.67zM342.63 416.5h3.67v4.8h-3.67zM265.56 421.3h3.67v4.8h-3.67zM269.23 421.3h3.67v4.8h-3.67zM272.9 421.3h3.67v4.8h-3.67zM272.9 426.1h3.67v4.8h-3.67zM276.57 426.1h3.67v4.8h-3.67zM294.92 426.1h3.67v4.8h-3.67zM265.56 430.9h3.67v4.8h-3.67zM276.57 430.9h3.67v4.8h-3.67zM298.59 430.9h3.67v4.8h-3.67zM276.57 435.7h3.67v4.8h-3.67zM294.92 435.7h3.67v4.8h-3.67zM265.56 440.5h3.67v4.8h-3.67zM272.9 440.5h3.67v4.8h-3.67zM265.56 445.3h3.67v4.8h-3.67zM272.9 445.3h3.67v4.8h-3.67zM294.92 445.3h3.67v4.8h-3.67zM265.56 450.1h3.67v4.8h-3.67zM276.57 450.1h3.67v4.8h-3.67zM287.58 450.1h3.67v4.8h-3.67zM327.95 454.9h3.67v4.8h-3.67zM276.57 459.7h3.67v4.8h-3.67zM287.58 459.7h3.67v4.8h-3.67zM294.92 459.7h3.67v4.8h-3.67z"/>
<path fill="#B5D6EA" d="M272.9 282.1h3.67v4.8h-3.67zM276.57 282.1h3.67v4.8h-3.67zM280.24 282.1h3.67v4.8h-3.67z"/>
<path fill="#A4CAE3" d="M247.21 291.7h3.67v4.8h-3.67zM258.22 291.7h3.67v4.8h-3.67zM313.27 291.7h3.67v4.8h-3.67zM327.95 291.7h3.67v4.8h-3.67zM305.93 296.5h3.67v4.8h-3.67zM313.27 296.5h3.67v4.8h-3.67zM324.28 296.5h3.67v4.8h-3.67zM327.95 296.5h3.67v4.8h-3.67zM258.22 301.3h3.67v4.8h-3.67zM342.63 301.3h3.67v4.8h-3.67zM320.61 310.9h3.67v4.8h-3.67zM324.28 310.9h3.67v4.8h-3.67zM335.29 310.9h3.67v4.8h-3.67zM309.6 315.7h3.67v4.8h-3.67zM316.94 315.7h3.67v4.8h-3.67zM320.61 315.7h3.67v4.8h-3.67zM324.28 315.7h3.67v4.8h-3.67zM335.29 315.7h3.67v4.8h-3.67zM247.21 320.5h3.67v4.8h-3.67zM258.22 320.5h3.67v4.8h-3.67zM305.93 320.5h3.67v4.8h-3.67zM309.6 320.5h3.67v4.8h-3.67zM316.94 320.5h3.67v4.8h-3.67zM313.27 325.3h3.67v4.8h-3.67zM338.96 325.3h3.67v4.8h-3.67zM247.21 330.1h3.67v4.8h-3.67zM254.55 330.1h3.67v4.8h-3.67zM324.28 330.1h3.67v4.8h-3.67zM236.2 334.9h3.67v4.8h-3.67zM254.55 334.9h3.67v4.8h-3.67zM250.88 339.7h3.67v4.8h-3.67zM258.22 339.7h3.67v4.8h-3.67zM243.54 344.5h3.67v4.8h-3.67zM247.21 344.5h3.67v4.8h-3.67zM254.55 344.5h3.67v4.8h-3.67zM320.61 344.5h3.67v4.8h-3.67zM254.55 349.3h3.67v4.8h-3.67zM243.54 354.1h3.67v4.8h-3.67zM254.55 354.1h3.67v4.8h-3.67zM258.22 354.1h3.67v4.8h-3.67zM335.29 354.1h3.67v4.8h-3.67zM338.96 354.1h3.67v4.8h-3.67zM247.21 358.9h3.67v4.8h-3.67zM254.55 358.9h3.67v4.8h-3.67zM258.22 358.9h3.67v4.8h-3.67zM309.6 358.9h3.67v4.8h-3.67zM320.61 358.9h3.67v4.8h-3.67zM335.29 358.9h3.67v4.8h-3.67zM236.2 378.1h3.67v4.8h-3.67zM250.88 378.1h3.67v4.8h-3.67zM261.89 378.1h3.67v4.8h-3.67zM239.87 382.9h3.67v4.8h-3.67zM261.89 382.9h3.67v4.8h-3.67zM243.54 387.7h3.67v4.8h-3.67zM247.21 387.7h3.67v4.8h-3.67zM250.88 387.7h3.67v4.8h-3.67zM254.55 387.7h3.67v4.8h-3.67zM258.22 387.7h3.67v4.8h-3.67zM313.27 387.7h3.67v4.8h-3.67zM250.88 392.5h3.67v4.8h-3.67zM258.22 392.5h3.67v4.8h-3.67zM243.54 397.3h3.67v4.8h-3.67zM247.21 397.3h3.67v4.8h-3.67zM250.88 397.3h3.67v4.8h-3.67zM254.55 397.3h3.67v4.8h-3.67zM258.22 397.3h3.67v4.8h-3.67zM247.21 402.1h3.67v4.8h-3.67zM258.22 402.1h3.67v4.8h-3.67zM258.22 406.9h3.67v4.8h-3.67zM331.62 435.7h3.67v4.8h-3.67zM342.63 435.7h3.67v4.8h-3.67zM247.21 445.3h3.67v4.8h-3.67zM309.6 445.3h3.67v4.8h-3.67z"/>
<path fill="#6F9FD0" d="M254.55 325.3h3.67v4.8h-3.67zM258.22 334.9h3.67v4.8h-3.67zM254.55 339.7h3.67v4.8h-3.67zM247.21 392.5h3.67v4.8h-3.67z"/>
<path fill="#F2F7D3" d="M272.9 349.3h3.67v4.8h-3.67zM247.21 373.3h3.67v4.8h-3.67zM283.91 387.7h3.67v4.8h-3.67zM302.26 416.5h3.67v4.8h-3.67zM283.91 421.3h3.67v4.8h-3.67zM280.24 426.1h3.67v4.8h-3.67zM287.58 426.1h3.67v4.8h-3.67zM280.24 430.9h3.67v4.8h-3.67zM236.2 454.9h3.67v4.8h-3.67zM272.9 454.9h3.67v4.8h-3.67zM236.2 459.7h3.67v4.8h-3.67z"/>
<path fill="#D93A2C" d="M280.24 373.3h3.67v4.8h-3.67z"/>
<path fill="#5584BE" d="M250.88 382.9h3.67v4.8h-3.67z"/>
<path fill="#8FBADC" d="M250.88 402.1h3.67v4.8h-3.67zM254.55 402.1h3.67v4.8h-3.67zM247.21 406.9h3.67v4.8h-3.67zM250.88 406.9h3.67v4.8h-3.67zM254.55 406.9h3.67v4.8h-3.67zM247.21 411.7h3.67v4.8h-3.67zM250.88 411.7h3.67v4.8h-3.67zM254.55 411.7h3.67v4.8h-3.67zM258.22 411.7h3.67v4.8h-3.67z"/>
<path d="M236.2 272.5V464.5M239.87 272.5V464.5M243.54 272.5V464.5M247.21 272.5V464.5M250.88 272.5V464.5M254.55 272.5V464.5M258.22 272.5V464.5M261.89 272.5V464.5M265.56 272.5V464.5M269.23 272.5V464.5M272.9 272.5V464.5M276.57 272.5V464.5M280.24 272.5V464.5M283.91 272.5V464.5M287.58 272.5V464.5M291.25 272.5V464.5M294.92 272.5V464.5M298.59 272.5V464.5M302.26 272.5V464.5M305.93 272.5V464.5M309.6 272.5V464.5M313.27 272.5V464.5M316.94 272.5V464.5M320.61 272.5V464.5M324.28 272.5V464.5M327.95 272.5V464.5M331.62 272.5V464.5M335.29 272.5V464.5M338.96 272.5V464.5M342.63 272.5V464.5M346.3 272.5V464.5M349.97 272.5V464.5M236.2 272.5H349.97M236.2 277.3H349.97M236.2 282.1H349.97M236.2 286.9H349.97M236.2 291.7H349.97M236.2 296.5H349.97M236.2 301.3H349.97M236.2 306.1H349.97M236.2 310.9H349.97M236.2 315.7H349.97M236.2 320.5H349.97M236.2 325.3H349.97M236.2 330.1H349.97M236.2 334.9H349.97M236.2 339.7H349.97M236.2 344.5H349.97M236.2 349.3H349.97M236.2 354.1H349.97M236.2 358.9H349.97M236.2 363.7H349.97M236.2 368.5H349.97M236.2 373.3H349.97M236.2 378.1H349.97M236.2 382.9H349.97M236.2 387.7H349.97M236.2 392.5H349.97M236.2 397.3H349.97M236.2 402.1H349.97M236.2 406.9H349.97M236.2 411.7H349.97M236.2 416.5H349.97M236.2 421.3H349.97M236.2 426.1H349.97M236.2 430.9H349.97M236.2 435.7H349.97M236.2 440.5H349.97M236.2 445.3H349.97M236.2 450.1H349.97M236.2 454.9H349.97M236.2 459.7H349.97M236.2 464.5H349.97" stroke="#959595" stroke-width="0.5" fill="none"/>
<rect x="236.2" y="266.9" width="3.67" height="4.6" fill="#00B050"/>
<rect x="239.87" y="266.9" width="3.67" height="4.6" fill="#00B050"/>
<rect x="243.54" y="266.9" width="3.67" height="4.6" fill="#00B050"/>
<rect x="247.21" y="266.9" width="3.67" height="4.6" fill="#00B050"/>
<rect x="250.88" y="266.9" width="3.67" height="4.6" fill="#000000"/>
<rect x="254.55" y="266.9" width="3.67" height="4.6" fill="#000000"/>
<rect x="258.22" y="266.9" width="3.67" height="4.6" fill="#000000"/>
<rect x="261.89" y="266.9" width="3.67" height="4.6" fill="#000000"/>
<rect x="265.56" y="266.9" width="3.67" height="4.6" fill="#0000FF"/>
<rect x="269.23" y="266.9" width="3.67" height="4.6" fill="#0000FF"/>
<rect x="272.9" y="266.9" width="3.67" height="4.6" fill="#0000FF"/>
<rect x="276.57" y="266.9" width="3.67" height="4.6" fill="#0000FF"/>
<rect x="280.24" y="266.9" width="3.67" height="4.6" fill="#FF66FF"/>
<rect x="283.91" y="266.9" width="3.67" height="4.6" fill="#FF66FF"/>
<rect x="287.58" y="266.9" width="3.67" height="4.6" fill="#FF66FF"/>
<rect x="291.25" y="266.9" width="3.67" height="4.6" fill="#7030A0"/>
<rect x="294.92" y="266.9" width="3.67" height="4.6" fill="#7030A0"/>
<rect x="298.59" y="266.9" width="3.67" height="4.6" fill="#7030A0"/>
<rect x="302.26" y="266.9" width="3.67" height="4.6" fill="#7030A0"/>
<rect x="305.93" y="266.9" width="3.67" height="4.6" fill="#FFD966"/>
<rect x="309.6" y="266.9" width="3.67" height="4.6" fill="#FFD966"/>
<rect x="313.27" y="266.9" width="3.67" height="4.6" fill="#FFD966"/>
<rect x="316.94" y="266.9" width="3.67" height="4.6" fill="#FFD966"/>
<rect x="320.61" y="266.9" width="3.67" height="4.6" fill="#C55A11"/>
<rect x="324.28" y="266.9" width="3.67" height="4.6" fill="#C55A11"/>
<rect x="327.95" y="266.9" width="3.67" height="4.6" fill="#C55A11"/>
<rect x="331.62" y="266.9" width="3.67" height="4.6" fill="#C55A11"/>
<rect x="335.29" y="266.9" width="3.67" height="4.6" fill="#FF0000"/>
<rect x="338.96" y="266.9" width="3.67" height="4.6" fill="#FF0000"/>
<rect x="342.63" y="266.9" width="3.67" height="4.6" fill="#FF0000"/>
<rect x="346.3" y="266.9" width="3.67" height="4.6" fill="#FF0000"/>
<path d="M236.2 266.9V271.5M239.87 266.9V271.5M243.54 266.9V271.5M247.21 266.9V271.5M250.88 266.9V271.5M254.55 266.9V271.5M258.22 266.9V271.5M261.89 266.9V271.5M265.56 266.9V271.5M269.23 266.9V271.5M272.9 266.9V271.5M276.57 266.9V271.5M280.24 266.9V271.5M283.91 266.9V271.5M287.58 266.9V271.5M291.25 266.9V271.5M294.92 266.9V271.5M298.59 266.9V271.5M302.26 266.9V271.5M305.93 266.9V271.5M309.6 266.9V271.5M313.27 266.9V271.5M316.94 266.9V271.5M320.61 266.9V271.5M324.28 266.9V271.5M327.95 266.9V271.5M331.62 266.9V271.5M335.29 266.9V271.5M338.96 266.9V271.5M342.63 266.9V271.5M346.3 266.9V271.5M349.97 266.9V271.5M236.2 266.9H349.97M236.2 271.5H349.97" stroke="#959595" stroke-width="0.4" fill="none"/>
<rect x="230.1" y="272.5" width="4.6" height="4.8" fill="#FF6FDB"/>
<rect x="230.1" y="277.3" width="4.6" height="4.8" fill="#FF6FDB"/>
<rect x="230.1" y="282.1" width="4.6" height="4.8" fill="#FF6FDB"/>
<rect x="230.1" y="286.9" width="4.6" height="4.8" fill="#FF6FDB"/>
<rect x="230.1" y="291.7" width="4.6" height="4.8" fill="#FF6FDB"/>
<rect x="230.1" y="296.5" width="4.6" height="4.8" fill="#FF6FDB"/>
<rect x="230.1" y="301.3" width="4.6" height="4.8" fill="#FF6FDB"/>
<rect x="230.1" y="306.1" width="4.6" height="4.8" fill="#FF6FDB"/>
<rect x="230.1" y="310.9" width="4.6" height="4.8" fill="#FF6FDB"/>
<rect x="230.1" y="315.7" width="4.6" height="4.8" fill="#00CED1"/>
<rect x="230.1" y="320.5" width="4.6" height="4.8" fill="#FF6FDB"/>
<rect x="230.1" y="325.3" width="4.6" height="4.8" fill="#FF6FDB"/>
<rect x="230.1" y="330.1" width="4.6" height="4.8" fill="#FF6FDB"/>
<rect x="230.1" y="334.9" width="4.6" height="4.8" fill="#00CED1"/>
<rect x="230.1" y="339.7" width="4.6" height="4.8" fill="#FF6FDB"/>
<rect x="230.1" y="344.5" width="4.6" height="4.8" fill="#FF6FDB"/>
<rect x="230.1" y="349.3" width="4.6" height="4.8" fill="#FF6FDB"/>
<rect x="230.1" y="354.1" width="4.6" height="4.8" fill="#FF6FDB"/>
<rect x="230.1" y="358.9" width="4.6" height="4.8" fill="#FF6FDB"/>
<rect x="230.1" y="363.7" width="4.6" height="4.8" fill="#FF6FDB"/>
<rect x="230.1" y="368.5" width="4.6" height="4.8" fill="#FF6FDB"/>
<rect x="230.1" y="373.3" width="4.6" height="4.8" fill="#FF6FDB"/>
<rect x="230.1" y="378.1" width="4.6" height="4.8" fill="#FF6FDB"/>
<rect x="230.1" y="382.9" width="4.6" height="4.8" fill="#FF6FDB"/>
<rect x="230.1" y="387.7" width="4.6" height="4.8" fill="#FF6FDB"/>
<rect x="230.1" y="392.5" width="4.6" height="4.8" fill="#FF6FDB"/>
<rect x="230.1" y="397.3" width="4.6" height="4.8" fill="#FF6FDB"/>
<rect x="230.1" y="402.1" width="4.6" height="4.8" fill="#FF6FDB"/>
<rect x="230.1" y="406.9" width="4.6" height="4.8" fill="#FF6FDB"/>
<rect x="230.1" y="411.7" width="4.6" height="4.8" fill="#FF6FDB"/>
<rect x="230.1" y="416.5" width="4.6" height="4.8" fill="#FF6FDB"/>
<rect x="230.1" y="421.3" width="4.6" height="4.8" fill="#FF6FDB"/>
<rect x="230.1" y="426.1" width="4.6" height="4.8" fill="#FF6FDB"/>
<rect x="230.1" y="430.9" width="4.6" height="4.8" fill="#FF6FDB"/>
<rect x="230.1" y="435.7" width="4.6" height="4.8" fill="#FF6FDB"/>
<rect x="230.1" y="440.5" width="4.6" height="4.8" fill="#FF6FDB"/>
<rect x="230.1" y="445.3" width="4.6" height="4.8" fill="#FF6FDB"/>
<rect x="230.1" y="450.1" width="4.6" height="4.8" fill="#FF6FDB"/>
<rect x="230.1" y="454.9" width="4.6" height="4.8" fill="#FF6FDB"/>
<rect x="230.1" y="459.7" width="4.6" height="4.8" fill="#FF6FDB"/>
<path d="M230.1 272.5H234.7M230.1 277.3H234.7M230.1 282.1H234.7M230.1 286.9H234.7M230.1 291.7H234.7M230.1 296.5H234.7M230.1 301.3H234.7M230.1 306.1H234.7M230.1 310.9H234.7M230.1 315.7H234.7M230.1 320.5H234.7M230.1 325.3H234.7M230.1 330.1H234.7M230.1 334.9H234.7M230.1 339.7H234.7M230.1 344.5H234.7M230.1 349.3H234.7M230.1 354.1H234.7M230.1 358.9H234.7M230.1 363.7H234.7M230.1 368.5H234.7M230.1 373.3H234.7M230.1 378.1H234.7M230.1 382.9H234.7M230.1 387.7H234.7M230.1 392.5H234.7M230.1 397.3H234.7M230.1 402.1H234.7M230.1 406.9H234.7M230.1 411.7H234.7M230.1 416.5H234.7M230.1 421.3H234.7M230.1 426.1H234.7M230.1 430.9H234.7M230.1 435.7H234.7M230.1 440.5H234.7M230.1 445.3H234.7M230.1 450.1H234.7M230.1 454.9H234.7M230.1 459.7H234.7M230.1 464.5H234.7M230.1 272.5V464.5M234.7 272.5V464.5" stroke="#959595" stroke-width="0.4" fill="none"/>
<g font-size="4.7" fill="#000" stroke="#000" stroke-width="0.12" opacity="0.999">
<text transform="translate(353.1 276.54) rotate(0.05)">ATG9A</text>
<text transform="translate(353.1 281.34) rotate(0.05)">CLNK</text>
<text transform="translate(353.1 286.14) rotate(0.05)">RP11-45M22.3</text>
<text transform="translate(353.1 290.94) rotate(0.05)">CD1B</text>
<text transform="translate(353.1 295.75) rotate(0.05)">CD1C</text>
<text transform="translate(353.1 300.54) rotate(0.05)">CD1E</text>
<text transform="translate(353.1 305.34) rotate(0.05)">IL1R2</text>
<text transform="translate(353.1 310.14) rotate(0.05)">MMP12</text>
<text transform="translate(353.1 314.94) rotate(0.05)">CARD16</text>
<text transform="translate(353.1 319.75) rotate(0.05)">CLEC4A</text>
<text transform="translate(353.1 324.54) rotate(0.05)">FCGR2A</text>
<text transform="translate(353.1 329.34) rotate(0.05)">KMO</text>
<text transform="translate(353.1 334.14) rotate(0.05)">CCR7</text>
<text transform="translate(353.1 338.94) rotate(0.05)">BTG1</text>
<text transform="translate(353.1 343.75) rotate(0.05)">IL1B</text>
<text transform="translate(353.1 348.54) rotate(0.05)">LTA4H</text>
<text transform="translate(353.1 353.34) rotate(0.05)">ALOX15</text>
<text transform="translate(353.1 358.14) rotate(0.05)">LGALS2</text>
<text transform="translate(353.1 362.94) rotate(0.05)">GEM</text>
<text transform="translate(353.1 367.75) rotate(0.05)">STK26</text>
<text transform="translate(353.1 372.54) rotate(0.05)">ADORA2B</text>
<text transform="translate(353.1 377.34) rotate(0.05)">GPR</text>
<text transform="translate(353.1 382.14) rotate(0.05)">CST3</text>
<text transform="translate(353.1 386.94) rotate(0.05)">SRGN</text>
<text transform="translate(353.1 391.75) rotate(0.05)">NLRP3</text>
<text transform="translate(353.1 396.54) rotate(0.05)">CXCL8</text>
<text transform="translate(353.1 401.34) rotate(0.05)">PID1</text>
<text transform="translate(353.1 406.14) rotate(0.05)">FTH1</text>
<text transform="translate(353.1 410.94) rotate(0.05)">LYZ</text>
<text transform="translate(353.1 415.75) rotate(0.05)">RP11-1143G9.4</text>
<text transform="translate(353.1 420.54) rotate(0.05)">FBP1</text>
<text transform="translate(353.1 425.34) rotate(0.05)">OLR1</text>
<text transform="translate(353.1 430.14) rotate(0.05)">INHBA</text>
<text transform="translate(353.1 434.94) rotate(0.05)">SERPINA1</text>
<text transform="translate(353.1 439.75) rotate(0.05)">REL</text>
<text transform="translate(353.1 444.54) rotate(0.05)">CCL17</text>
<text transform="translate(353.1 449.34) rotate(0.05)">CD44</text>
<text transform="translate(353.1 454.14) rotate(0.05)">EREG</text>
<text transform="translate(353.1 458.94) rotate(0.05)">CCR5</text>
<text transform="translate(353.1 463.75) rotate(0.05)">IL1RL1</text>
<text transform="translate(353.1 270.84) rotate(0.05)">Cells</text>
</g>
<path d="M229.5 279.7L214.81 279.7M229.5 284.5L214.81 284.5M214.81 279.7L214.81 284.5M229.5 274.9L212.2 274.9M214.81 282.1L212.2 282.1M212.2 274.9L212.2 282.1M229.5 289.3L219.3 289.3M229.5 294.1L219.3 294.1M219.3 289.3L219.3 294.1M219.3 291.7L217.56 291.7M229.5 298.9L217.56 298.9M217.56 291.7L217.56 298.9M217.56 295.3L216.97 295.3M229.5 303.7L216.97 303.7M216.97 295.3L216.97 303.7M229.5 313.3L217.42 313.3M229.5 318.1L217.42 318.1M217.42 313.3L217.42 318.1M229.5 308.5L214.24 308.5M217.42 315.7L214.24 315.7M214.24 308.5L214.24 315.7M216.97 299.5L213.8 299.5M214.24 312.1L213.8 312.1M213.8 299.5L213.8 312.1M229.5 332.5L216.53 332.5M229.5 337.3L216.53 337.3M216.53 332.5L216.53 337.3M216.53 334.9L215.15 334.9M229.5 342.1L215.15 342.1M215.15 334.9L215.15 342.1M229.5 327.7L213.71 327.7M215.15 338.5L213.71 338.5M213.71 327.7L213.71 338.5M229.5 351.7L216.53 351.7M229.5 356.5L216.53 356.5M216.53 351.7L216.53 356.5M229.5 346.9L215.19 346.9M216.53 354.1L215.19 354.1M215.19 346.9L215.19 354.1M215.19 350.5L214.88 350.5M229.5 361.3L214.88 361.3M214.88 350.5L214.88 361.3M213.71 333.1L213.31 333.1M214.88 355.9L213.31 355.9M213.31 333.1L213.31 355.9M213.31 344.5L211.41 344.5M229.5 366.1L211.41 366.1M211.41 344.5L211.41 366.1M229.5 370.9L213.62 370.9M229.5 375.7L213.62 375.7M213.62 370.9L213.62 375.7M229.5 380.5L218.02 380.5M229.5 385.3L218.02 385.3M218.02 380.5L218.02 385.3M229.5 390.1L217.55 390.1M229.5 394.9L217.55 394.9M217.55 390.1L217.55 394.9M229.5 409.3L223.15 409.3M229.5 414.1L223.15 414.1M223.15 409.3L223.15 414.1M229.5 404.5L218.89 404.5M223.15 411.7L218.89 411.7M218.89 404.5L218.89 411.7M229.5 399.7L218.89 399.7M218.89 408.1L218.89 408.1M218.89 399.7L218.89 408.1M217.55 392.5L217.55 392.5M218.89 403.9L217.55 403.9M217.55 392.5L217.55 403.9M217.55 398.2L215.39 398.2M229.5 418.9L215.39 418.9M215.39 398.2L215.39 418.9M229.5 428.5L218.85 428.5M229.5 433.3L218.85 433.3M218.85 428.5L218.85 433.3M229.5 423.7L216.79 423.7M218.85 430.9L216.79 430.9M216.79 423.7L216.79 430.9M215.39 408.55L215.2 408.55M216.79 427.3L215.2 427.3M215.2 408.55L215.2 427.3M229.5 447.7L218.22 447.7M229.5 452.5L218.22 452.5M218.22 447.7L218.22 452.5M229.5 442.9L217.17 442.9M218.22 450.1L217.17 450.1M217.17 442.9L217.17 450.1M229.5 438.1L214.74 438.1M217.17 446.5L214.74 446.5M214.74 438.1L214.74 446.5M215.2 417.92L214.74 417.92M214.74 442.3L214.74 442.3M214.74 417.92L214.74 442.3M218.02 382.9L214.41 382.9M214.74 430.11L214.41 430.11M214.41 382.9L214.41 430.11M213.62 373.3L212.41 373.3M214.41 406.51L212.41 406.51M212.41 373.3L212.41 406.51M211.41 355.3L211.41 355.3M212.41 389.9L211.41 389.9M211.41 355.3L211.41 389.9M229.5 457.3L211.86 457.3M229.5 462.1L211.86 462.1M211.86 457.3L211.86 462.1M211.41 372.6L211.3 372.6M211.86 459.7L211.3 459.7M211.3 372.6L211.3 459.7M229.5 322.9L211 322.9M211.3 416.15L211 416.15M211 322.9L211 416.15M213.8 305.8L208.2 305.8M211 369.53L208.2 369.53M208.2 305.8L208.2 369.53M212.2 278.5L204.1 278.5M208.2 337.66L204.1 337.66M204.1 278.5L204.1 337.66" stroke="#555" stroke-width="0.6" fill="none"/>
<text x="295.5" y="261.9" font-size="9.45" text-anchor="middle" fill="#111">cDC2/epidermal CD11c<tspan font-size="7.6" dy="-2.7">+</tspan></text>
<path fill="#F2F7D3" d="M32.4 490.2h3.64v4.85h-3.64zM36.04 490.2h3.64v4.85h-3.64zM39.68 490.2h3.64v4.85h-3.64zM43.32 490.2h3.64v4.85h-3.64zM46.96 490.2h3.64v4.85h-3.64zM50.6 490.2h3.64v4.85h-3.64zM54.24 490.2h3.64v4.85h-3.64zM57.88 490.2h3.64v4.85h-3.64zM90.64 490.2h3.64v4.85h-3.64zM123.4 490.2h3.64v4.85h-3.64zM127.04 490.2h3.64v4.85h-3.64zM134.32 490.2h3.64v4.85h-3.64zM137.96 490.2h3.64v4.85h-3.64zM32.4 495.05h3.64v4.85h-3.64zM39.68 495.05h3.64v4.85h-3.64zM43.32 495.05h3.64v4.85h-3.64zM46.96 495.05h3.64v4.85h-3.64zM50.6 495.05h3.64v4.85h-3.64zM54.24 495.05h3.64v4.85h-3.64zM57.88 495.05h3.64v4.85h-3.64zM90.64 495.05h3.64v4.85h-3.64zM123.4 495.05h3.64v4.85h-3.64zM127.04 495.05h3.64v4.85h-3.64zM134.32 495.05h3.64v4.85h-3.64zM137.96 495.05h3.64v4.85h-3.64zM141.6 495.05h3.64v4.85h-3.64zM32.4 499.89h3.64v4.85h-3.64zM36.04 499.89h3.64v4.85h-3.64zM39.68 499.89h3.64v4.85h-3.64zM43.32 499.89h3.64v4.85h-3.64zM46.96 499.89h3.64v4.85h-3.64zM50.6 499.89h3.64v4.85h-3.64zM54.24 499.89h3.64v4.85h-3.64zM57.88 499.89h3.64v4.85h-3.64zM90.64 499.89h3.64v4.85h-3.64zM123.4 499.89h3.64v4.85h-3.64zM127.04 499.89h3.64v4.85h-3.64zM134.32 499.89h3.64v4.85h-3.64zM137.96 499.89h3.64v4.85h-3.64zM141.6 499.89h3.64v4.85h-3.64zM32.4 504.74h3.64v4.85h-3.64zM36.04 504.74h3.64v4.85h-3.64zM39.68 504.74h3.64v4.85h-3.64zM43.32 504.74h3.64v4.85h-3.64zM46.96 504.74h3.64v4.85h-3.64zM50.6 504.74h3.64v4.85h-3.64zM54.24 504.74h3.64v4.85h-3.64zM57.88 504.74h3.64v4.85h-3.64zM123.4 504.74h3.64v4.85h-3.64zM134.32 504.74h3.64v4.85h-3.64zM137.96 504.74h3.64v4.85h-3.64zM141.6 504.74h3.64v4.85h-3.64zM32.4 509.58h3.64v4.85h-3.64zM36.04 509.58h3.64v4.85h-3.64zM39.68 509.58h3.64v4.85h-3.64zM43.32 509.58h3.64v4.85h-3.64zM46.96 509.58h3.64v4.85h-3.64zM50.6 509.58h3.64v4.85h-3.64zM54.24 509.58h3.64v4.85h-3.64zM57.88 509.58h3.64v4.85h-3.64zM123.4 509.58h3.64v4.85h-3.64zM134.32 509.58h3.64v4.85h-3.64zM141.6 509.58h3.64v4.85h-3.64zM32.4 514.43h3.64v4.85h-3.64zM36.04 514.43h3.64v4.85h-3.64zM39.68 514.43h3.64v4.85h-3.64zM43.32 514.43h3.64v4.85h-3.64zM46.96 514.43h3.64v4.85h-3.64zM50.6 514.43h3.64v4.85h-3.64zM54.24 514.43h3.64v4.85h-3.64zM57.88 514.43h3.64v4.85h-3.64zM123.4 514.43h3.64v4.85h-3.64zM127.04 514.43h3.64v4.85h-3.64zM134.32 514.43h3.64v4.85h-3.64zM137.96 514.43h3.64v4.85h-3.64zM141.6 514.43h3.64v4.85h-3.64zM32.4 519.28h3.64v4.85h-3.64zM39.68 519.28h3.64v4.85h-3.64zM43.32 519.28h3.64v4.85h-3.64zM50.6 519.28h3.64v4.85h-3.64zM54.24 519.28h3.64v4.85h-3.64zM57.88 519.28h3.64v4.85h-3.64zM123.4 519.28h3.64v4.85h-3.64zM127.04 519.28h3.64v4.85h-3.64zM130.68 519.28h3.64v4.85h-3.64zM137.96 519.28h3.64v4.85h-3.64zM141.6 519.28h3.64v4.85h-3.64zM32.4 524.12h3.64v4.85h-3.64zM36.04 524.12h3.64v4.85h-3.64zM39.68 524.12h3.64v4.85h-3.64zM43.32 524.12h3.64v4.85h-3.64zM46.96 524.12h3.64v4.85h-3.64zM50.6 524.12h3.64v4.85h-3.64zM54.24 524.12h3.64v4.85h-3.64zM57.88 524.12h3.64v4.85h-3.64zM123.4 524.12h3.64v4.85h-3.64zM127.04 524.12h3.64v4.85h-3.64zM130.68 524.12h3.64v4.85h-3.64zM134.32 524.12h3.64v4.85h-3.64zM137.96 524.12h3.64v4.85h-3.64zM141.6 524.12h3.64v4.85h-3.64zM32.4 528.97h3.64v4.85h-3.64zM36.04 528.97h3.64v4.85h-3.64zM39.68 528.97h3.64v4.85h-3.64zM43.32 528.97h3.64v4.85h-3.64zM46.96 528.97h3.64v4.85h-3.64zM50.6 528.97h3.64v4.85h-3.64zM54.24 528.97h3.64v4.85h-3.64zM57.88 528.97h3.64v4.85h-3.64zM123.4 528.97h3.64v4.85h-3.64zM127.04 528.97h3.64v4.85h-3.64zM130.68 528.97h3.64v4.85h-3.64zM134.32 528.97h3.64v4.85h-3.64zM137.96 528.97h3.64v4.85h-3.64zM141.6 528.97h3.64v4.85h-3.64zM32.4 533.81h3.64v4.85h-3.64zM36.04 533.81h3.64v4.85h-3.64zM39.68 533.81h3.64v4.85h-3.64zM43.32 533.81h3.64v4.85h-3.64zM46.96 533.81h3.64v4.85h-3.64zM50.6 533.81h3.64v4.85h-3.64zM54.24 533.81h3.64v4.85h-3.64zM57.88 533.81h3.64v4.85h-3.64zM123.4 533.81h3.64v4.85h-3.64zM127.04 533.81h3.64v4.85h-3.64zM130.68 533.81h3.64v4.85h-3.64zM134.32 533.81h3.64v4.85h-3.64zM137.96 533.81h3.64v4.85h-3.64zM141.6 533.81h3.64v4.85h-3.64zM32.4 538.66h3.64v4.85h-3.64zM36.04 538.66h3.64v4.85h-3.64zM39.68 538.66h3.64v4.85h-3.64zM46.96 538.66h3.64v4.85h-3.64zM50.6 538.66h3.64v4.85h-3.64zM54.24 538.66h3.64v4.85h-3.64zM57.88 538.66h3.64v4.85h-3.64zM123.4 538.66h3.64v4.85h-3.64zM127.04 538.66h3.64v4.85h-3.64zM134.32 538.66h3.64v4.85h-3.64zM137.96 538.66h3.64v4.85h-3.64zM141.6 538.66h3.64v4.85h-3.64zM32.4 543.51h3.64v4.85h-3.64zM36.04 543.51h3.64v4.85h-3.64zM39.68 543.51h3.64v4.85h-3.64zM43.32 543.51h3.64v4.85h-3.64zM46.96 543.51h3.64v4.85h-3.64zM50.6 543.51h3.64v4.85h-3.64zM54.24 543.51h3.64v4.85h-3.64zM57.88 543.51h3.64v4.85h-3.64zM123.4 543.51h3.64v4.85h-3.64zM127.04 543.51h3.64v4.85h-3.64zM130.68 543.51h3.64v4.85h-3.64zM134.32 543.51h3.64v4.85h-3.64zM137.96 543.51h3.64v4.85h-3.64zM141.6 543.51h3.64v4.85h-3.64zM32.4 548.35h3.64v4.85h-3.64zM39.68 548.35h3.64v4.85h-3.64zM43.32 548.35h3.64v4.85h-3.64zM46.96 548.35h3.64v4.85h-3.64zM50.6 548.35h3.64v4.85h-3.64zM57.88 548.35h3.64v4.85h-3.64zM90.64 548.35h3.64v4.85h-3.64zM123.4 548.35h3.64v4.85h-3.64zM127.04 548.35h3.64v4.85h-3.64zM130.68 548.35h3.64v4.85h-3.64zM134.32 548.35h3.64v4.85h-3.64zM137.96 548.35h3.64v4.85h-3.64zM141.6 548.35h3.64v4.85h-3.64zM32.4 553.2h3.64v4.85h-3.64zM36.04 553.2h3.64v4.85h-3.64zM39.68 553.2h3.64v4.85h-3.64zM43.32 553.2h3.64v4.85h-3.64zM50.6 553.2h3.64v4.85h-3.64zM54.24 553.2h3.64v4.85h-3.64zM57.88 553.2h3.64v4.85h-3.64zM123.4 553.2h3.64v4.85h-3.64zM127.04 553.2h3.64v4.85h-3.64zM130.68 553.2h3.64v4.85h-3.64zM134.32 553.2h3.64v4.85h-3.64zM137.96 553.2h3.64v4.85h-3.64zM141.6 553.2h3.64v4.85h-3.64zM32.4 558.04h3.64v4.85h-3.64zM36.04 558.04h3.64v4.85h-3.64zM39.68 558.04h3.64v4.85h-3.64zM43.32 558.04h3.64v4.85h-3.64zM50.6 558.04h3.64v4.85h-3.64zM54.24 558.04h3.64v4.85h-3.64zM57.88 558.04h3.64v4.85h-3.64zM94.28 558.04h3.64v4.85h-3.64zM123.4 558.04h3.64v4.85h-3.64zM127.04 558.04h3.64v4.85h-3.64zM134.32 558.04h3.64v4.85h-3.64zM137.96 558.04h3.64v4.85h-3.64zM32.4 562.89h3.64v4.85h-3.64zM36.04 562.89h3.64v4.85h-3.64zM39.68 562.89h3.64v4.85h-3.64zM43.32 562.89h3.64v4.85h-3.64zM46.96 562.89h3.64v4.85h-3.64zM50.6 562.89h3.64v4.85h-3.64zM54.24 562.89h3.64v4.85h-3.64zM57.88 562.89h3.64v4.85h-3.64zM94.28 562.89h3.64v4.85h-3.64zM134.32 562.89h3.64v4.85h-3.64zM32.4 567.74h3.64v4.85h-3.64zM36.04 567.74h3.64v4.85h-3.64zM39.68 567.74h3.64v4.85h-3.64zM43.32 567.74h3.64v4.85h-3.64zM46.96 567.74h3.64v4.85h-3.64zM50.6 567.74h3.64v4.85h-3.64zM54.24 567.74h3.64v4.85h-3.64zM57.88 567.74h3.64v4.85h-3.64zM94.28 567.74h3.64v4.85h-3.64zM123.4 567.74h3.64v4.85h-3.64zM127.04 567.74h3.64v4.85h-3.64zM130.68 567.74h3.64v4.85h-3.64zM134.32 567.74h3.64v4.85h-3.64zM137.96 567.74h3.64v4.85h-3.64zM141.6 567.74h3.64v4.85h-3.64zM32.4 572.58h3.64v4.85h-3.64zM36.04 572.58h3.64v4.85h-3.64zM43.32 572.58h3.64v4.85h-3.64zM46.96 572.58h3.64v4.85h-3.64zM50.6 572.58h3.64v4.85h-3.64zM54.24 572.58h3.64v4.85h-3.64zM57.88 572.58h3.64v4.85h-3.64zM127.04 572.58h3.64v4.85h-3.64zM130.68 572.58h3.64v4.85h-3.64zM134.32 572.58h3.64v4.85h-3.64zM137.96 572.58h3.64v4.85h-3.64zM141.6 572.58h3.64v4.85h-3.64zM32.4 577.43h3.64v4.85h-3.64zM39.68 577.43h3.64v4.85h-3.64zM43.32 577.43h3.64v4.85h-3.64zM46.96 577.43h3.64v4.85h-3.64zM50.6 577.43h3.64v4.85h-3.64zM54.24 577.43h3.64v4.85h-3.64zM57.88 577.43h3.64v4.85h-3.64zM94.28 577.43h3.64v4.85h-3.64zM123.4 577.43h3.64v4.85h-3.64zM127.04 577.43h3.64v4.85h-3.64zM130.68 577.43h3.64v4.85h-3.64zM134.32 577.43h3.64v4.85h-3.64zM137.96 577.43h3.64v4.85h-3.64zM141.6 577.43h3.64v4.85h-3.64zM32.4 582.27h3.64v4.85h-3.64zM36.04 582.27h3.64v4.85h-3.64zM43.32 582.27h3.64v4.85h-3.64zM57.88 582.27h3.64v4.85h-3.64zM123.4 582.27h3.64v4.85h-3.64zM130.68 582.27h3.64v4.85h-3.64zM137.96 582.27h3.64v4.85h-3.64zM141.6 582.27h3.64v4.85h-3.64zM32.4 587.12h3.64v4.85h-3.64zM32.4 591.97h3.64v4.85h-3.64zM36.04 591.97h3.64v4.85h-3.64zM50.6 591.97h3.64v4.85h-3.64zM32.4 596.81h3.64v4.85h-3.64zM36.04 596.81h3.64v4.85h-3.64zM50.6 596.81h3.64v4.85h-3.64zM54.24 596.81h3.64v4.85h-3.64zM141.6 596.81h3.64v4.85h-3.64zM32.4 601.66h3.64v4.85h-3.64zM36.04 601.66h3.64v4.85h-3.64zM141.6 601.66h3.64v4.85h-3.64zM116.12 616.2h3.64v4.85h-3.64zM141.6 616.2h3.64v4.85h-3.64z"/>
<path fill="#FCFCC6" d="M61.52 490.2h3.64v4.85h-3.64zM65.16 490.2h3.64v4.85h-3.64zM72.44 490.2h3.64v4.85h-3.64zM76.08 490.2h3.64v4.85h-3.64zM79.72 490.2h3.64v4.85h-3.64zM87 490.2h3.64v4.85h-3.64zM97.92 490.2h3.64v4.85h-3.64zM112.48 490.2h3.64v4.85h-3.64zM119.76 490.2h3.64v4.85h-3.64zM141.6 490.2h3.64v4.85h-3.64zM65.16 495.05h3.64v4.85h-3.64zM68.8 495.05h3.64v4.85h-3.64zM72.44 495.05h3.64v4.85h-3.64zM87 495.05h3.64v4.85h-3.64zM97.92 495.05h3.64v4.85h-3.64zM119.76 495.05h3.64v4.85h-3.64zM130.68 495.05h3.64v4.85h-3.64zM61.52 499.89h3.64v4.85h-3.64zM65.16 499.89h3.64v4.85h-3.64zM68.8 499.89h3.64v4.85h-3.64zM72.44 499.89h3.64v4.85h-3.64zM76.08 499.89h3.64v4.85h-3.64zM79.72 499.89h3.64v4.85h-3.64zM83.36 499.89h3.64v4.85h-3.64zM87 499.89h3.64v4.85h-3.64zM97.92 499.89h3.64v4.85h-3.64zM130.68 499.89h3.64v4.85h-3.64zM65.16 504.74h3.64v4.85h-3.64zM68.8 504.74h3.64v4.85h-3.64zM72.44 504.74h3.64v4.85h-3.64zM76.08 504.74h3.64v4.85h-3.64zM79.72 504.74h3.64v4.85h-3.64zM87 504.74h3.64v4.85h-3.64zM90.64 504.74h3.64v4.85h-3.64zM97.92 504.74h3.64v4.85h-3.64zM116.12 504.74h3.64v4.85h-3.64zM127.04 504.74h3.64v4.85h-3.64zM61.52 509.58h3.64v4.85h-3.64zM68.8 509.58h3.64v4.85h-3.64zM72.44 509.58h3.64v4.85h-3.64zM76.08 509.58h3.64v4.85h-3.64zM90.64 509.58h3.64v4.85h-3.64zM97.92 509.58h3.64v4.85h-3.64zM119.76 509.58h3.64v4.85h-3.64zM127.04 509.58h3.64v4.85h-3.64zM61.52 514.43h3.64v4.85h-3.64zM65.16 514.43h3.64v4.85h-3.64zM68.8 514.43h3.64v4.85h-3.64zM72.44 514.43h3.64v4.85h-3.64zM76.08 514.43h3.64v4.85h-3.64zM79.72 514.43h3.64v4.85h-3.64zM90.64 514.43h3.64v4.85h-3.64zM97.92 514.43h3.64v4.85h-3.64zM116.12 514.43h3.64v4.85h-3.64zM119.76 514.43h3.64v4.85h-3.64zM130.68 514.43h3.64v4.85h-3.64zM61.52 519.28h3.64v4.85h-3.64zM65.16 519.28h3.64v4.85h-3.64zM68.8 519.28h3.64v4.85h-3.64zM72.44 519.28h3.64v4.85h-3.64zM76.08 519.28h3.64v4.85h-3.64zM79.72 519.28h3.64v4.85h-3.64zM83.36 519.28h3.64v4.85h-3.64zM87 519.28h3.64v4.85h-3.64zM90.64 519.28h3.64v4.85h-3.64zM94.28 519.28h3.64v4.85h-3.64zM97.92 519.28h3.64v4.85h-3.64zM116.12 519.28h3.64v4.85h-3.64zM119.76 519.28h3.64v4.85h-3.64zM134.32 519.28h3.64v4.85h-3.64zM61.52 524.12h3.64v4.85h-3.64zM65.16 524.12h3.64v4.85h-3.64zM68.8 524.12h3.64v4.85h-3.64zM72.44 524.12h3.64v4.85h-3.64zM76.08 524.12h3.64v4.85h-3.64zM79.72 524.12h3.64v4.85h-3.64zM83.36 524.12h3.64v4.85h-3.64zM87 524.12h3.64v4.85h-3.64zM90.64 524.12h3.64v4.85h-3.64zM97.92 524.12h3.64v4.85h-3.64zM116.12 524.12h3.64v4.85h-3.64zM119.76 524.12h3.64v4.85h-3.64zM61.52 528.97h3.64v4.85h-3.64zM65.16 528.97h3.64v4.85h-3.64zM68.8 528.97h3.64v4.85h-3.64zM72.44 528.97h3.64v4.85h-3.64zM76.08 528.97h3.64v4.85h-3.64zM79.72 528.97h3.64v4.85h-3.64zM83.36 528.97h3.64v4.85h-3.64zM87 528.97h3.64v4.85h-3.64zM90.64 528.97h3.64v4.85h-3.64zM94.28 528.97h3.64v4.85h-3.64zM97.92 528.97h3.64v4.85h-3.64zM116.12 528.97h3.64v4.85h-3.64zM119.76 528.97h3.64v4.85h-3.64zM61.52 533.81h3.64v4.85h-3.64zM65.16 533.81h3.64v4.85h-3.64zM68.8 533.81h3.64v4.85h-3.64zM72.44 533.81h3.64v4.85h-3.64zM76.08 533.81h3.64v4.85h-3.64zM79.72 533.81h3.64v4.85h-3.64zM83.36 533.81h3.64v4.85h-3.64zM87 533.81h3.64v4.85h-3.64zM90.64 533.81h3.64v4.85h-3.64zM94.28 533.81h3.64v4.85h-3.64zM97.92 533.81h3.64v4.85h-3.64zM116.12 533.81h3.64v4.85h-3.64zM119.76 533.81h3.64v4.85h-3.64zM43.32 538.66h3.64v4.85h-3.64zM61.52 538.66h3.64v4.85h-3.64zM68.8 538.66h3.64v4.85h-3.64zM72.44 538.66h3.64v4.85h-3.64zM76.08 538.66h3.64v4.85h-3.64zM79.72 538.66h3.64v4.85h-3.64zM83.36 538.66h3.64v4.85h-3.64zM87 538.66h3.64v4.85h-3.64zM90.64 538.66h3.64v4.85h-3.64zM94.28 538.66h3.64v4.85h-3.64zM97.92 538.66h3.64v4.85h-3.64zM116.12 538.66h3.64v4.85h-3.64zM119.76 538.66h3.64v4.85h-3.64zM130.68 538.66h3.64v4.85h-3.64zM61.52 543.51h3.64v4.85h-3.64zM65.16 543.51h3.64v4.85h-3.64zM68.8 543.51h3.64v4.85h-3.64zM72.44 543.51h3.64v4.85h-3.64zM76.08 543.51h3.64v4.85h-3.64zM79.72 543.51h3.64v4.85h-3.64zM83.36 543.51h3.64v4.85h-3.64zM87 543.51h3.64v4.85h-3.64zM90.64 543.51h3.64v4.85h-3.64zM94.28 543.51h3.64v4.85h-3.64zM97.92 543.51h3.64v4.85h-3.64zM116.12 543.51h3.64v4.85h-3.64zM119.76 543.51h3.64v4.85h-3.64zM61.52 548.35h3.64v4.85h-3.64zM68.8 548.35h3.64v4.85h-3.64zM76.08 548.35h3.64v4.85h-3.64zM79.72 548.35h3.64v4.85h-3.64zM87 548.35h3.64v4.85h-3.64zM94.28 548.35h3.64v4.85h-3.64zM97.92 548.35h3.64v4.85h-3.64zM116.12 548.35h3.64v4.85h-3.64zM119.76 548.35h3.64v4.85h-3.64zM61.52 553.2h3.64v4.85h-3.64zM65.16 553.2h3.64v4.85h-3.64zM68.8 553.2h3.64v4.85h-3.64zM76.08 553.2h3.64v4.85h-3.64zM79.72 553.2h3.64v4.85h-3.64zM83.36 553.2h3.64v4.85h-3.64zM90.64 553.2h3.64v4.85h-3.64zM94.28 553.2h3.64v4.85h-3.64zM97.92 553.2h3.64v4.85h-3.64zM116.12 553.2h3.64v4.85h-3.64zM119.76 553.2h3.64v4.85h-3.64zM61.52 558.04h3.64v4.85h-3.64zM65.16 558.04h3.64v4.85h-3.64zM68.8 558.04h3.64v4.85h-3.64zM76.08 558.04h3.64v4.85h-3.64zM79.72 558.04h3.64v4.85h-3.64zM87 558.04h3.64v4.85h-3.64zM97.92 558.04h3.64v4.85h-3.64zM116.12 558.04h3.64v4.85h-3.64zM119.76 558.04h3.64v4.85h-3.64zM130.68 558.04h3.64v4.85h-3.64zM141.6 558.04h3.64v4.85h-3.64zM65.16 562.89h3.64v4.85h-3.64zM68.8 562.89h3.64v4.85h-3.64zM72.44 562.89h3.64v4.85h-3.64zM76.08 562.89h3.64v4.85h-3.64zM79.72 562.89h3.64v4.85h-3.64zM87 562.89h3.64v4.85h-3.64zM90.64 562.89h3.64v4.85h-3.64zM97.92 562.89h3.64v4.85h-3.64zM116.12 562.89h3.64v4.85h-3.64zM119.76 562.89h3.64v4.85h-3.64zM127.04 562.89h3.64v4.85h-3.64zM130.68 562.89h3.64v4.85h-3.64zM137.96 562.89h3.64v4.85h-3.64zM61.52 567.74h3.64v4.85h-3.64zM65.16 567.74h3.64v4.85h-3.64zM68.8 567.74h3.64v4.85h-3.64zM72.44 567.74h3.64v4.85h-3.64zM76.08 567.74h3.64v4.85h-3.64zM79.72 567.74h3.64v4.85h-3.64zM83.36 567.74h3.64v4.85h-3.64zM87 567.74h3.64v4.85h-3.64zM90.64 567.74h3.64v4.85h-3.64zM97.92 567.74h3.64v4.85h-3.64zM116.12 567.74h3.64v4.85h-3.64zM119.76 567.74h3.64v4.85h-3.64zM61.52 572.58h3.64v4.85h-3.64zM65.16 572.58h3.64v4.85h-3.64zM68.8 572.58h3.64v4.85h-3.64zM72.44 572.58h3.64v4.85h-3.64zM76.08 572.58h3.64v4.85h-3.64zM79.72 572.58h3.64v4.85h-3.64zM83.36 572.58h3.64v4.85h-3.64zM87 572.58h3.64v4.85h-3.64zM90.64 572.58h3.64v4.85h-3.64zM94.28 572.58h3.64v4.85h-3.64zM97.92 572.58h3.64v4.85h-3.64zM116.12 572.58h3.64v4.85h-3.64zM119.76 572.58h3.64v4.85h-3.64zM123.4 572.58h3.64v4.85h-3.64zM68.8 577.43h3.64v4.85h-3.64zM72.44 577.43h3.64v4.85h-3.64zM76.08 577.43h3.64v4.85h-3.64zM79.72 577.43h3.64v4.85h-3.64zM90.64 577.43h3.64v4.85h-3.64zM97.92 577.43h3.64v4.85h-3.64zM116.12 577.43h3.64v4.85h-3.64zM119.76 577.43h3.64v4.85h-3.64zM61.52 582.27h3.64v4.85h-3.64zM65.16 582.27h3.64v4.85h-3.64zM68.8 582.27h3.64v4.85h-3.64zM72.44 582.27h3.64v4.85h-3.64zM83.36 582.27h3.64v4.85h-3.64zM90.64 582.27h3.64v4.85h-3.64zM94.28 582.27h3.64v4.85h-3.64zM116.12 582.27h3.64v4.85h-3.64zM119.76 582.27h3.64v4.85h-3.64zM134.32 582.27h3.64v4.85h-3.64zM57.88 587.12h3.64v4.85h-3.64zM65.16 587.12h3.64v4.85h-3.64zM90.64 587.12h3.64v4.85h-3.64zM94.28 587.12h3.64v4.85h-3.64zM97.92 587.12h3.64v4.85h-3.64zM123.4 587.12h3.64v4.85h-3.64zM127.04 587.12h3.64v4.85h-3.64zM130.68 587.12h3.64v4.85h-3.64zM134.32 587.12h3.64v4.85h-3.64zM137.96 587.12h3.64v4.85h-3.64zM141.6 587.12h3.64v4.85h-3.64zM57.88 591.97h3.64v4.85h-3.64zM61.52 591.97h3.64v4.85h-3.64zM65.16 591.97h3.64v4.85h-3.64zM68.8 591.97h3.64v4.85h-3.64zM76.08 591.97h3.64v4.85h-3.64zM83.36 591.97h3.64v4.85h-3.64zM90.64 591.97h3.64v4.85h-3.64zM94.28 591.97h3.64v4.85h-3.64zM119.76 591.97h3.64v4.85h-3.64zM123.4 591.97h3.64v4.85h-3.64zM127.04 591.97h3.64v4.85h-3.64zM130.68 591.97h3.64v4.85h-3.64zM134.32 591.97h3.64v4.85h-3.64zM137.96 591.97h3.64v4.85h-3.64zM141.6 591.97h3.64v4.85h-3.64zM43.32 596.81h3.64v4.85h-3.64zM57.88 596.81h3.64v4.85h-3.64zM61.52 596.81h3.64v4.85h-3.64zM65.16 596.81h3.64v4.85h-3.64zM72.44 596.81h3.64v4.85h-3.64zM76.08 596.81h3.64v4.85h-3.64zM79.72 596.81h3.64v4.85h-3.64zM90.64 596.81h3.64v4.85h-3.64zM94.28 596.81h3.64v4.85h-3.64zM97.92 596.81h3.64v4.85h-3.64zM116.12 596.81h3.64v4.85h-3.64zM119.76 596.81h3.64v4.85h-3.64zM123.4 596.81h3.64v4.85h-3.64zM127.04 596.81h3.64v4.85h-3.64zM130.68 596.81h3.64v4.85h-3.64zM134.32 596.81h3.64v4.85h-3.64zM137.96 596.81h3.64v4.85h-3.64zM39.68 601.66h3.64v4.85h-3.64zM43.32 601.66h3.64v4.85h-3.64zM46.96 601.66h3.64v4.85h-3.64zM54.24 601.66h3.64v4.85h-3.64zM57.88 601.66h3.64v4.85h-3.64zM65.16 601.66h3.64v4.85h-3.64zM68.8 601.66h3.64v4.85h-3.64zM72.44 601.66h3.64v4.85h-3.64zM90.64 601.66h3.64v4.85h-3.64zM97.92 601.66h3.64v4.85h-3.64zM127.04 601.66h3.64v4.85h-3.64zM134.32 601.66h3.64v4.85h-3.64zM43.32 606.5h3.64v4.85h-3.64zM46.96 606.5h3.64v4.85h-3.64zM57.88 606.5h3.64v4.85h-3.64zM65.16 606.5h3.64v4.85h-3.64zM68.8 606.5h3.64v4.85h-3.64zM72.44 606.5h3.64v4.85h-3.64zM76.08 606.5h3.64v4.85h-3.64zM79.72 606.5h3.64v4.85h-3.64zM83.36 606.5h3.64v4.85h-3.64zM90.64 606.5h3.64v4.85h-3.64zM123.4 606.5h3.64v4.85h-3.64zM137.96 606.5h3.64v4.85h-3.64zM141.6 606.5h3.64v4.85h-3.64zM72.44 611.35h3.64v4.85h-3.64zM83.36 611.35h3.64v4.85h-3.64zM87 611.35h3.64v4.85h-3.64zM116.12 611.35h3.64v4.85h-3.64zM123.4 611.35h3.64v4.85h-3.64zM127.04 611.35h3.64v4.85h-3.64zM137.96 611.35h3.64v4.85h-3.64zM141.6 611.35h3.64v4.85h-3.64zM43.32 616.2h3.64v4.85h-3.64zM61.52 616.2h3.64v4.85h-3.64zM72.44 616.2h3.64v4.85h-3.64zM76.08 616.2h3.64v4.85h-3.64zM90.64 616.2h3.64v4.85h-3.64zM123.4 616.2h3.64v4.85h-3.64zM127.04 616.2h3.64v4.85h-3.64zM130.68 616.2h3.64v4.85h-3.64zM134.32 616.2h3.64v4.85h-3.64zM43.32 621.04h3.64v4.85h-3.64zM54.24 621.04h3.64v4.85h-3.64zM57.88 621.04h3.64v4.85h-3.64zM112.48 621.04h3.64v4.85h-3.64zM141.6 621.04h3.64v4.85h-3.64zM57.88 625.89h3.64v4.85h-3.64zM61.52 625.89h3.64v4.85h-3.64zM65.16 625.89h3.64v4.85h-3.64zM90.64 625.89h3.64v4.85h-3.64zM94.28 625.89h3.64v4.85h-3.64zM116.12 625.89h3.64v4.85h-3.64zM123.4 625.89h3.64v4.85h-3.64zM134.32 625.89h3.64v4.85h-3.64zM32.4 630.73h3.64v4.85h-3.64zM50.6 630.73h3.64v4.85h-3.64zM57.88 630.73h3.64v4.85h-3.64zM79.72 630.73h3.64v4.85h-3.64zM97.92 630.73h3.64v4.85h-3.64zM130.68 630.73h3.64v4.85h-3.64zM137.96 630.73h3.64v4.85h-3.64zM50.6 635.58h3.64v4.85h-3.64zM57.88 635.58h3.64v4.85h-3.64zM68.8 635.58h3.64v4.85h-3.64zM79.72 635.58h3.64v4.85h-3.64zM90.64 635.58h3.64v4.85h-3.64zM116.12 635.58h3.64v4.85h-3.64zM119.76 635.58h3.64v4.85h-3.64zM141.6 635.58h3.64v4.85h-3.64zM39.68 640.43h3.64v4.85h-3.64zM43.32 640.43h3.64v4.85h-3.64zM54.24 640.43h3.64v4.85h-3.64zM57.88 640.43h3.64v4.85h-3.64zM83.36 640.43h3.64v4.85h-3.64zM87 640.43h3.64v4.85h-3.64zM90.64 640.43h3.64v4.85h-3.64zM97.92 640.43h3.64v4.85h-3.64zM119.76 645.27h3.64v4.85h-3.64zM123.4 645.27h3.64v4.85h-3.64zM134.32 645.27h3.64v4.85h-3.64zM65.16 650.12h3.64v4.85h-3.64zM87 650.12h3.64v4.85h-3.64zM90.64 650.12h3.64v4.85h-3.64zM94.28 650.12h3.64v4.85h-3.64zM97.92 650.12h3.64v4.85h-3.64zM119.76 650.12h3.64v4.85h-3.64zM130.68 650.12h3.64v4.85h-3.64zM134.32 650.12h3.64v4.85h-3.64zM54.24 654.96h3.64v4.85h-3.64zM65.16 654.96h3.64v4.85h-3.64zM87 654.96h3.64v4.85h-3.64zM90.64 654.96h3.64v4.85h-3.64zM97.92 654.96h3.64v4.85h-3.64zM137.96 654.96h3.64v4.85h-3.64zM36.04 659.81h3.64v4.85h-3.64zM46.96 659.81h3.64v4.85h-3.64zM61.52 659.81h3.64v4.85h-3.64zM76.08 659.81h3.64v4.85h-3.64zM79.72 659.81h3.64v4.85h-3.64zM87 659.81h3.64v4.85h-3.64zM97.92 659.81h3.64v4.85h-3.64zM116.12 659.81h3.64v4.85h-3.64zM130.68 659.81h3.64v4.85h-3.64zM137.96 659.81h3.64v4.85h-3.64zM50.6 664.66h3.64v4.85h-3.64zM57.88 664.66h3.64v4.85h-3.64zM61.52 664.66h3.64v4.85h-3.64zM72.44 664.66h3.64v4.85h-3.64zM76.08 664.66h3.64v4.85h-3.64zM83.36 664.66h3.64v4.85h-3.64zM112.48 664.66h3.64v4.85h-3.64zM116.12 664.66h3.64v4.85h-3.64zM119.76 664.66h3.64v4.85h-3.64zM123.4 664.66h3.64v4.85h-3.64zM127.04 664.66h3.64v4.85h-3.64zM130.68 664.66h3.64v4.85h-3.64zM57.88 669.5h3.64v4.85h-3.64zM68.8 669.5h3.64v4.85h-3.64zM76.08 669.5h3.64v4.85h-3.64zM127.04 669.5h3.64v4.85h-3.64zM137.96 669.5h3.64v4.85h-3.64zM61.52 674.35h3.64v4.85h-3.64zM76.08 674.35h3.64v4.85h-3.64zM79.72 674.35h3.64v4.85h-3.64zM97.92 674.35h3.64v4.85h-3.64zM101.56 674.35h3.64v4.85h-3.64zM112.48 674.35h3.64v4.85h-3.64zM123.4 674.35h3.64v4.85h-3.64zM127.04 674.35h3.64v4.85h-3.64zM32.4 679.19h3.64v4.85h-3.64zM61.52 679.19h3.64v4.85h-3.64zM72.44 679.19h3.64v4.85h-3.64zM79.72 679.19h3.64v4.85h-3.64zM90.64 679.19h3.64v4.85h-3.64zM123.4 679.19h3.64v4.85h-3.64zM137.96 679.19h3.64v4.85h-3.64z"/>
<path fill="#FDC77A" d="M68.8 490.2h3.64v4.85h-3.64zM101.56 490.2h3.64v4.85h-3.64zM76.08 495.05h3.64v4.85h-3.64zM94.28 495.05h3.64v4.85h-3.64zM105.2 495.05h3.64v4.85h-3.64zM94.28 499.89h3.64v4.85h-3.64zM101.56 499.89h3.64v4.85h-3.64zM105.2 499.89h3.64v4.85h-3.64zM108.84 499.89h3.64v4.85h-3.64zM94.28 504.74h3.64v4.85h-3.64zM105.2 504.74h3.64v4.85h-3.64zM108.84 504.74h3.64v4.85h-3.64zM83.36 509.58h3.64v4.85h-3.64zM87 509.58h3.64v4.85h-3.64zM101.56 509.58h3.64v4.85h-3.64zM83.36 514.43h3.64v4.85h-3.64zM87 514.43h3.64v4.85h-3.64zM94.28 514.43h3.64v4.85h-3.64zM36.04 519.28h3.64v4.85h-3.64zM46.96 519.28h3.64v4.85h-3.64zM101.56 519.28h3.64v4.85h-3.64zM101.56 524.12h3.64v4.85h-3.64zM112.48 524.12h3.64v4.85h-3.64zM101.56 528.97h3.64v4.85h-3.64zM112.48 528.97h3.64v4.85h-3.64zM101.56 533.81h3.64v4.85h-3.64zM112.48 533.81h3.64v4.85h-3.64zM101.56 538.66h3.64v4.85h-3.64zM112.48 538.66h3.64v4.85h-3.64zM101.56 543.51h3.64v4.85h-3.64zM72.44 548.35h3.64v4.85h-3.64zM105.2 548.35h3.64v4.85h-3.64zM112.48 548.35h3.64v4.85h-3.64zM46.96 553.2h3.64v4.85h-3.64zM72.44 553.2h3.64v4.85h-3.64zM108.84 553.2h3.64v4.85h-3.64zM112.48 553.2h3.64v4.85h-3.64zM72.44 558.04h3.64v4.85h-3.64zM105.2 558.04h3.64v4.85h-3.64zM108.84 558.04h3.64v4.85h-3.64zM101.56 562.89h3.64v4.85h-3.64zM108.84 562.89h3.64v4.85h-3.64zM39.68 572.58h3.64v4.85h-3.64zM101.56 572.58h3.64v4.85h-3.64zM105.2 572.58h3.64v4.85h-3.64zM108.84 572.58h3.64v4.85h-3.64zM112.48 572.58h3.64v4.85h-3.64zM83.36 577.43h3.64v4.85h-3.64zM87 577.43h3.64v4.85h-3.64zM101.56 577.43h3.64v4.85h-3.64zM105.2 577.43h3.64v4.85h-3.64zM112.48 577.43h3.64v4.85h-3.64zM101.56 582.27h3.64v4.85h-3.64zM105.2 582.27h3.64v4.85h-3.64zM108.84 582.27h3.64v4.85h-3.64zM101.56 587.12h3.64v4.85h-3.64zM116.12 587.12h3.64v4.85h-3.64zM87 591.97h3.64v4.85h-3.64zM101.56 591.97h3.64v4.85h-3.64zM112.48 591.97h3.64v4.85h-3.64zM87 596.81h3.64v4.85h-3.64zM101.56 596.81h3.64v4.85h-3.64zM112.48 596.81h3.64v4.85h-3.64zM94.28 601.66h3.64v4.85h-3.64zM101.56 601.66h3.64v4.85h-3.64zM105.2 601.66h3.64v4.85h-3.64zM108.84 601.66h3.64v4.85h-3.64zM50.6 606.5h3.64v4.85h-3.64zM105.2 606.5h3.64v4.85h-3.64zM108.84 606.5h3.64v4.85h-3.64zM50.6 611.35h3.64v4.85h-3.64zM105.2 611.35h3.64v4.85h-3.64zM108.84 611.35h3.64v4.85h-3.64zM36.04 616.2h3.64v4.85h-3.64zM50.6 616.2h3.64v4.85h-3.64zM108.84 616.2h3.64v4.85h-3.64zM112.48 616.2h3.64v4.85h-3.64zM36.04 621.04h3.64v4.85h-3.64zM119.76 621.04h3.64v4.85h-3.64zM130.68 621.04h3.64v4.85h-3.64zM79.72 625.89h3.64v4.85h-3.64zM119.76 625.89h3.64v4.85h-3.64zM68.8 630.73h3.64v4.85h-3.64zM87 630.73h3.64v4.85h-3.64zM90.64 630.73h3.64v4.85h-3.64zM94.28 630.73h3.64v4.85h-3.64zM97.92 635.58h3.64v4.85h-3.64zM127.04 635.58h3.64v4.85h-3.64zM50.6 640.43h3.64v4.85h-3.64zM54.24 645.27h3.64v4.85h-3.64zM90.64 645.27h3.64v4.85h-3.64zM36.04 650.12h3.64v4.85h-3.64zM39.68 650.12h3.64v4.85h-3.64zM39.68 654.96h3.64v4.85h-3.64zM119.76 654.96h3.64v4.85h-3.64zM43.32 659.81h3.64v4.85h-3.64zM94.28 659.81h3.64v4.85h-3.64zM123.4 659.81h3.64v4.85h-3.64zM134.32 659.81h3.64v4.85h-3.64zM54.24 664.66h3.64v4.85h-3.64zM94.28 664.66h3.64v4.85h-3.64zM50.6 669.5h3.64v4.85h-3.64zM79.72 669.5h3.64v4.85h-3.64zM119.76 669.5h3.64v4.85h-3.64zM123.4 669.5h3.64v4.85h-3.64zM119.76 674.35h3.64v4.85h-3.64zM76.08 679.19h3.64v4.85h-3.64zM119.76 679.19h3.64v4.85h-3.64zM130.68 679.19h3.64v4.85h-3.64zM141.6 679.19h3.64v4.85h-3.64z"/>
<path fill="#FEF1AC" d="M83.36 490.2h3.64v4.85h-3.64zM94.28 490.2h3.64v4.85h-3.64zM105.2 490.2h3.64v4.85h-3.64zM108.84 490.2h3.64v4.85h-3.64zM116.12 490.2h3.64v4.85h-3.64zM130.68 490.2h3.64v4.85h-3.64zM36.04 495.05h3.64v4.85h-3.64zM61.52 495.05h3.64v4.85h-3.64zM79.72 495.05h3.64v4.85h-3.64zM83.36 495.05h3.64v4.85h-3.64zM101.56 495.05h3.64v4.85h-3.64zM112.48 495.05h3.64v4.85h-3.64zM116.12 495.05h3.64v4.85h-3.64zM112.48 499.89h3.64v4.85h-3.64zM116.12 499.89h3.64v4.85h-3.64zM119.76 499.89h3.64v4.85h-3.64zM61.52 504.74h3.64v4.85h-3.64zM83.36 504.74h3.64v4.85h-3.64zM101.56 504.74h3.64v4.85h-3.64zM112.48 504.74h3.64v4.85h-3.64zM119.76 504.74h3.64v4.85h-3.64zM130.68 504.74h3.64v4.85h-3.64zM65.16 509.58h3.64v4.85h-3.64zM79.72 509.58h3.64v4.85h-3.64zM94.28 509.58h3.64v4.85h-3.64zM112.48 509.58h3.64v4.85h-3.64zM116.12 509.58h3.64v4.85h-3.64zM130.68 509.58h3.64v4.85h-3.64zM137.96 509.58h3.64v4.85h-3.64zM101.56 514.43h3.64v4.85h-3.64zM112.48 514.43h3.64v4.85h-3.64zM112.48 519.28h3.64v4.85h-3.64zM94.28 524.12h3.64v4.85h-3.64zM65.16 538.66h3.64v4.85h-3.64zM105.2 543.51h3.64v4.85h-3.64zM112.48 543.51h3.64v4.85h-3.64zM36.04 548.35h3.64v4.85h-3.64zM54.24 548.35h3.64v4.85h-3.64zM65.16 548.35h3.64v4.85h-3.64zM83.36 548.35h3.64v4.85h-3.64zM108.84 548.35h3.64v4.85h-3.64zM87 553.2h3.64v4.85h-3.64zM46.96 558.04h3.64v4.85h-3.64zM83.36 558.04h3.64v4.85h-3.64zM90.64 558.04h3.64v4.85h-3.64zM112.48 558.04h3.64v4.85h-3.64zM61.52 562.89h3.64v4.85h-3.64zM83.36 562.89h3.64v4.85h-3.64zM112.48 562.89h3.64v4.85h-3.64zM123.4 562.89h3.64v4.85h-3.64zM141.6 562.89h3.64v4.85h-3.64zM101.56 567.74h3.64v4.85h-3.64zM108.84 567.74h3.64v4.85h-3.64zM112.48 567.74h3.64v4.85h-3.64zM36.04 577.43h3.64v4.85h-3.64zM61.52 577.43h3.64v4.85h-3.64zM65.16 577.43h3.64v4.85h-3.64zM46.96 582.27h3.64v4.85h-3.64zM50.6 582.27h3.64v4.85h-3.64zM79.72 582.27h3.64v4.85h-3.64zM87 582.27h3.64v4.85h-3.64zM97.92 582.27h3.64v4.85h-3.64zM112.48 582.27h3.64v4.85h-3.64zM127.04 582.27h3.64v4.85h-3.64zM36.04 587.12h3.64v4.85h-3.64zM46.96 587.12h3.64v4.85h-3.64zM61.52 587.12h3.64v4.85h-3.64zM76.08 587.12h3.64v4.85h-3.64zM83.36 587.12h3.64v4.85h-3.64zM87 587.12h3.64v4.85h-3.64zM72.44 591.97h3.64v4.85h-3.64zM97.92 591.97h3.64v4.85h-3.64zM116.12 591.97h3.64v4.85h-3.64zM68.8 596.81h3.64v4.85h-3.64zM83.36 596.81h3.64v4.85h-3.64zM50.6 601.66h3.64v4.85h-3.64zM61.52 601.66h3.64v4.85h-3.64zM76.08 601.66h3.64v4.85h-3.64zM79.72 601.66h3.64v4.85h-3.64zM83.36 601.66h3.64v4.85h-3.64zM87 601.66h3.64v4.85h-3.64zM39.68 606.5h3.64v4.85h-3.64zM61.52 606.5h3.64v4.85h-3.64zM87 606.5h3.64v4.85h-3.64zM97.92 606.5h3.64v4.85h-3.64zM127.04 606.5h3.64v4.85h-3.64zM130.68 606.5h3.64v4.85h-3.64zM32.4 611.35h3.64v4.85h-3.64zM36.04 611.35h3.64v4.85h-3.64zM46.96 611.35h3.64v4.85h-3.64zM61.52 611.35h3.64v4.85h-3.64zM65.16 611.35h3.64v4.85h-3.64zM90.64 611.35h3.64v4.85h-3.64zM94.28 611.35h3.64v4.85h-3.64zM97.92 611.35h3.64v4.85h-3.64zM32.4 616.2h3.64v4.85h-3.64zM46.96 616.2h3.64v4.85h-3.64zM65.16 616.2h3.64v4.85h-3.64zM83.36 616.2h3.64v4.85h-3.64zM94.28 616.2h3.64v4.85h-3.64zM97.92 616.2h3.64v4.85h-3.64zM32.4 621.04h3.64v4.85h-3.64zM61.52 621.04h3.64v4.85h-3.64zM65.16 621.04h3.64v4.85h-3.64zM68.8 621.04h3.64v4.85h-3.64zM83.36 621.04h3.64v4.85h-3.64zM87 621.04h3.64v4.85h-3.64zM90.64 621.04h3.64v4.85h-3.64zM94.28 621.04h3.64v4.85h-3.64zM97.92 621.04h3.64v4.85h-3.64zM116.12 621.04h3.64v4.85h-3.64zM123.4 621.04h3.64v4.85h-3.64zM127.04 621.04h3.64v4.85h-3.64zM134.32 621.04h3.64v4.85h-3.64zM137.96 621.04h3.64v4.85h-3.64zM36.04 625.89h3.64v4.85h-3.64zM46.96 625.89h3.64v4.85h-3.64zM68.8 625.89h3.64v4.85h-3.64zM83.36 625.89h3.64v4.85h-3.64zM87 625.89h3.64v4.85h-3.64zM97.92 625.89h3.64v4.85h-3.64zM127.04 625.89h3.64v4.85h-3.64zM130.68 625.89h3.64v4.85h-3.64zM141.6 625.89h3.64v4.85h-3.64zM43.32 630.73h3.64v4.85h-3.64zM46.96 630.73h3.64v4.85h-3.64zM61.52 630.73h3.64v4.85h-3.64zM65.16 630.73h3.64v4.85h-3.64zM83.36 630.73h3.64v4.85h-3.64zM116.12 630.73h3.64v4.85h-3.64zM123.4 630.73h3.64v4.85h-3.64zM127.04 630.73h3.64v4.85h-3.64zM141.6 630.73h3.64v4.85h-3.64zM32.4 635.58h3.64v4.85h-3.64zM46.96 635.58h3.64v4.85h-3.64zM61.52 635.58h3.64v4.85h-3.64zM65.16 635.58h3.64v4.85h-3.64zM83.36 635.58h3.64v4.85h-3.64zM87 635.58h3.64v4.85h-3.64zM94.28 635.58h3.64v4.85h-3.64zM123.4 635.58h3.64v4.85h-3.64zM130.68 635.58h3.64v4.85h-3.64zM137.96 635.58h3.64v4.85h-3.64zM32.4 640.43h3.64v4.85h-3.64zM36.04 640.43h3.64v4.85h-3.64zM46.96 640.43h3.64v4.85h-3.64zM61.52 640.43h3.64v4.85h-3.64zM65.16 640.43h3.64v4.85h-3.64zM68.8 640.43h3.64v4.85h-3.64zM94.28 640.43h3.64v4.85h-3.64zM116.12 640.43h3.64v4.85h-3.64zM123.4 640.43h3.64v4.85h-3.64zM127.04 640.43h3.64v4.85h-3.64zM130.68 640.43h3.64v4.85h-3.64zM137.96 640.43h3.64v4.85h-3.64zM141.6 640.43h3.64v4.85h-3.64zM32.4 645.27h3.64v4.85h-3.64zM36.04 645.27h3.64v4.85h-3.64zM39.68 645.27h3.64v4.85h-3.64zM46.96 645.27h3.64v4.85h-3.64zM50.6 645.27h3.64v4.85h-3.64zM57.88 645.27h3.64v4.85h-3.64zM61.52 645.27h3.64v4.85h-3.64zM65.16 645.27h3.64v4.85h-3.64zM68.8 645.27h3.64v4.85h-3.64zM83.36 645.27h3.64v4.85h-3.64zM94.28 645.27h3.64v4.85h-3.64zM97.92 645.27h3.64v4.85h-3.64zM130.68 645.27h3.64v4.85h-3.64zM137.96 645.27h3.64v4.85h-3.64zM141.6 645.27h3.64v4.85h-3.64zM32.4 650.12h3.64v4.85h-3.64zM43.32 650.12h3.64v4.85h-3.64zM46.96 650.12h3.64v4.85h-3.64zM50.6 650.12h3.64v4.85h-3.64zM54.24 650.12h3.64v4.85h-3.64zM57.88 650.12h3.64v4.85h-3.64zM61.52 650.12h3.64v4.85h-3.64zM76.08 650.12h3.64v4.85h-3.64zM83.36 650.12h3.64v4.85h-3.64zM116.12 650.12h3.64v4.85h-3.64zM123.4 650.12h3.64v4.85h-3.64zM127.04 650.12h3.64v4.85h-3.64zM137.96 650.12h3.64v4.85h-3.64zM141.6 650.12h3.64v4.85h-3.64zM32.4 654.96h3.64v4.85h-3.64zM36.04 654.96h3.64v4.85h-3.64zM43.32 654.96h3.64v4.85h-3.64zM46.96 654.96h3.64v4.85h-3.64zM50.6 654.96h3.64v4.85h-3.64zM57.88 654.96h3.64v4.85h-3.64zM61.52 654.96h3.64v4.85h-3.64zM72.44 654.96h3.64v4.85h-3.64zM76.08 654.96h3.64v4.85h-3.64zM79.72 654.96h3.64v4.85h-3.64zM83.36 654.96h3.64v4.85h-3.64zM116.12 654.96h3.64v4.85h-3.64zM123.4 654.96h3.64v4.85h-3.64zM134.32 654.96h3.64v4.85h-3.64zM141.6 654.96h3.64v4.85h-3.64zM32.4 659.81h3.64v4.85h-3.64zM50.6 659.81h3.64v4.85h-3.64zM54.24 659.81h3.64v4.85h-3.64zM57.88 659.81h3.64v4.85h-3.64zM65.16 659.81h3.64v4.85h-3.64zM72.44 659.81h3.64v4.85h-3.64zM90.64 659.81h3.64v4.85h-3.64zM141.6 659.81h3.64v4.85h-3.64zM32.4 664.66h3.64v4.85h-3.64zM36.04 664.66h3.64v4.85h-3.64zM43.32 664.66h3.64v4.85h-3.64zM65.16 664.66h3.64v4.85h-3.64zM87 664.66h3.64v4.85h-3.64zM90.64 664.66h3.64v4.85h-3.64zM97.92 664.66h3.64v4.85h-3.64zM137.96 664.66h3.64v4.85h-3.64zM141.6 664.66h3.64v4.85h-3.64zM32.4 669.5h3.64v4.85h-3.64zM39.68 669.5h3.64v4.85h-3.64zM43.32 669.5h3.64v4.85h-3.64zM46.96 669.5h3.64v4.85h-3.64zM61.52 669.5h3.64v4.85h-3.64zM65.16 669.5h3.64v4.85h-3.64zM83.36 669.5h3.64v4.85h-3.64zM87 669.5h3.64v4.85h-3.64zM94.28 669.5h3.64v4.85h-3.64zM97.92 669.5h3.64v4.85h-3.64zM116.12 669.5h3.64v4.85h-3.64zM134.32 669.5h3.64v4.85h-3.64zM141.6 669.5h3.64v4.85h-3.64zM32.4 674.35h3.64v4.85h-3.64zM39.68 674.35h3.64v4.85h-3.64zM43.32 674.35h3.64v4.85h-3.64zM50.6 674.35h3.64v4.85h-3.64zM54.24 674.35h3.64v4.85h-3.64zM65.16 674.35h3.64v4.85h-3.64zM87 674.35h3.64v4.85h-3.64zM94.28 674.35h3.64v4.85h-3.64zM116.12 674.35h3.64v4.85h-3.64zM137.96 674.35h3.64v4.85h-3.64zM141.6 674.35h3.64v4.85h-3.64zM36.04 679.19h3.64v4.85h-3.64zM43.32 679.19h3.64v4.85h-3.64zM46.96 679.19h3.64v4.85h-3.64zM57.88 679.19h3.64v4.85h-3.64zM87 679.19h3.64v4.85h-3.64zM94.28 679.19h3.64v4.85h-3.64zM97.92 679.19h3.64v4.85h-3.64zM116.12 679.19h3.64v4.85h-3.64zM127.04 679.19h3.64v4.85h-3.64zM134.32 679.19h3.64v4.85h-3.64z"/>
<path fill="#F99A5C" d="M108.84 495.05h3.64v4.85h-3.64zM105.2 509.58h3.64v4.85h-3.64zM108.84 509.58h3.64v4.85h-3.64zM105.2 514.43h3.64v4.85h-3.64zM108.84 514.43h3.64v4.85h-3.64zM105.2 519.28h3.64v4.85h-3.64zM108.84 519.28h3.64v4.85h-3.64zM105.2 524.12h3.64v4.85h-3.64zM105.2 533.81h3.64v4.85h-3.64zM105.2 538.66h3.64v4.85h-3.64zM101.56 548.35h3.64v4.85h-3.64zM101.56 553.2h3.64v4.85h-3.64zM105.2 553.2h3.64v4.85h-3.64zM101.56 558.04h3.64v4.85h-3.64zM108.84 577.43h3.64v4.85h-3.64zM105.2 587.12h3.64v4.85h-3.64zM108.84 587.12h3.64v4.85h-3.64zM108.84 596.81h3.64v4.85h-3.64zM101.56 606.5h3.64v4.85h-3.64zM112.48 606.5h3.64v4.85h-3.64zM101.56 611.35h3.64v4.85h-3.64zM112.48 611.35h3.64v4.85h-3.64zM101.56 616.2h3.64v4.85h-3.64zM105.2 616.2h3.64v4.85h-3.64zM46.96 621.04h3.64v4.85h-3.64zM137.96 625.89h3.64v4.85h-3.64zM119.76 630.73h3.64v4.85h-3.64zM39.68 659.81h3.64v4.85h-3.64z"/>
<path fill="#D93A2C" d="M108.84 524.12h3.64v4.85h-3.64zM108.84 533.81h3.64v4.85h-3.64zM108.84 538.66h3.64v4.85h-3.64zM108.84 543.51h3.64v4.85h-3.64z"/>
<path fill="#EF6946" d="M105.2 528.97h3.64v4.85h-3.64zM108.84 528.97h3.64v4.85h-3.64zM105.2 562.89h3.64v4.85h-3.64zM105.2 567.74h3.64v4.85h-3.64zM105.2 591.97h3.64v4.85h-3.64zM108.84 591.97h3.64v4.85h-3.64zM105.2 596.81h3.64v4.85h-3.64zM134.32 664.66h3.64v4.85h-3.64zM134.32 674.35h3.64v4.85h-3.64z"/>
<path fill="#D6EBF3" d="M39.68 582.27h3.64v4.85h-3.64zM54.24 582.27h3.64v4.85h-3.64zM76.08 582.27h3.64v4.85h-3.64zM101.56 621.04h3.64v4.85h-3.64zM105.2 621.04h3.64v4.85h-3.64zM108.84 621.04h3.64v4.85h-3.64zM101.56 625.89h3.64v4.85h-3.64zM105.2 625.89h3.64v4.85h-3.64zM108.84 625.89h3.64v4.85h-3.64zM112.48 625.89h3.64v4.85h-3.64zM101.56 630.73h3.64v4.85h-3.64zM105.2 630.73h3.64v4.85h-3.64zM108.84 630.73h3.64v4.85h-3.64zM112.48 630.73h3.64v4.85h-3.64zM112.48 635.58h3.64v4.85h-3.64zM101.56 640.43h3.64v4.85h-3.64zM105.2 640.43h3.64v4.85h-3.64zM108.84 640.43h3.64v4.85h-3.64zM112.48 640.43h3.64v4.85h-3.64zM101.56 645.27h3.64v4.85h-3.64zM105.2 645.27h3.64v4.85h-3.64zM108.84 645.27h3.64v4.85h-3.64zM112.48 645.27h3.64v4.85h-3.64zM101.56 650.12h3.64v4.85h-3.64zM105.2 650.12h3.64v4.85h-3.64zM108.84 650.12h3.64v4.85h-3.64zM112.48 650.12h3.64v4.85h-3.64zM101.56 654.96h3.64v4.85h-3.64zM112.48 654.96h3.64v4.85h-3.64zM101.56 659.81h3.64v4.85h-3.64zM105.2 659.81h3.64v4.85h-3.64zM108.84 659.81h3.64v4.85h-3.64zM112.48 659.81h3.64v4.85h-3.64zM101.56 664.66h3.64v4.85h-3.64zM105.2 664.66h3.64v4.85h-3.64zM108.84 664.66h3.64v4.85h-3.64zM101.56 669.5h3.64v4.85h-3.64zM105.2 669.5h3.64v4.85h-3.64zM108.84 669.5h3.64v4.85h-3.64zM112.48 669.5h3.64v4.85h-3.64zM105.2 674.35h3.64v4.85h-3.64zM108.84 674.35h3.64v4.85h-3.64zM101.56 679.19h3.64v4.85h-3.64zM105.2 679.19h3.64v4.85h-3.64zM108.84 679.19h3.64v4.85h-3.64zM112.48 679.19h3.64v4.85h-3.64z"/>
<path fill="#E2F1EF" d="M39.68 587.12h3.64v4.85h-3.64zM43.32 587.12h3.64v4.85h-3.64zM50.6 587.12h3.64v4.85h-3.64zM54.24 587.12h3.64v4.85h-3.64zM68.8 587.12h3.64v4.85h-3.64zM72.44 587.12h3.64v4.85h-3.64zM79.72 587.12h3.64v4.85h-3.64zM119.76 587.12h3.64v4.85h-3.64zM39.68 591.97h3.64v4.85h-3.64zM43.32 591.97h3.64v4.85h-3.64zM46.96 591.97h3.64v4.85h-3.64zM54.24 591.97h3.64v4.85h-3.64zM79.72 591.97h3.64v4.85h-3.64zM39.68 596.81h3.64v4.85h-3.64zM46.96 596.81h3.64v4.85h-3.64zM116.12 601.66h3.64v4.85h-3.64zM123.4 601.66h3.64v4.85h-3.64zM137.96 601.66h3.64v4.85h-3.64zM32.4 606.5h3.64v4.85h-3.64zM36.04 606.5h3.64v4.85h-3.64zM54.24 606.5h3.64v4.85h-3.64zM94.28 606.5h3.64v4.85h-3.64zM116.12 606.5h3.64v4.85h-3.64zM134.32 606.5h3.64v4.85h-3.64zM39.68 611.35h3.64v4.85h-3.64zM43.32 611.35h3.64v4.85h-3.64zM54.24 611.35h3.64v4.85h-3.64zM57.88 611.35h3.64v4.85h-3.64zM68.8 611.35h3.64v4.85h-3.64zM76.08 611.35h3.64v4.85h-3.64zM79.72 611.35h3.64v4.85h-3.64zM119.76 611.35h3.64v4.85h-3.64zM130.68 611.35h3.64v4.85h-3.64zM134.32 611.35h3.64v4.85h-3.64zM39.68 616.2h3.64v4.85h-3.64zM54.24 616.2h3.64v4.85h-3.64zM57.88 616.2h3.64v4.85h-3.64zM68.8 616.2h3.64v4.85h-3.64zM79.72 616.2h3.64v4.85h-3.64zM87 616.2h3.64v4.85h-3.64zM119.76 616.2h3.64v4.85h-3.64zM137.96 616.2h3.64v4.85h-3.64zM39.68 621.04h3.64v4.85h-3.64zM50.6 621.04h3.64v4.85h-3.64zM72.44 621.04h3.64v4.85h-3.64zM76.08 621.04h3.64v4.85h-3.64zM79.72 621.04h3.64v4.85h-3.64zM32.4 625.89h3.64v4.85h-3.64zM39.68 625.89h3.64v4.85h-3.64zM43.32 625.89h3.64v4.85h-3.64zM50.6 625.89h3.64v4.85h-3.64zM54.24 625.89h3.64v4.85h-3.64zM72.44 625.89h3.64v4.85h-3.64zM76.08 625.89h3.64v4.85h-3.64zM36.04 630.73h3.64v4.85h-3.64zM39.68 630.73h3.64v4.85h-3.64zM54.24 630.73h3.64v4.85h-3.64zM72.44 630.73h3.64v4.85h-3.64zM76.08 630.73h3.64v4.85h-3.64zM134.32 630.73h3.64v4.85h-3.64zM36.04 635.58h3.64v4.85h-3.64zM39.68 635.58h3.64v4.85h-3.64zM43.32 635.58h3.64v4.85h-3.64zM54.24 635.58h3.64v4.85h-3.64zM72.44 635.58h3.64v4.85h-3.64zM76.08 635.58h3.64v4.85h-3.64zM134.32 635.58h3.64v4.85h-3.64zM72.44 640.43h3.64v4.85h-3.64zM76.08 640.43h3.64v4.85h-3.64zM79.72 640.43h3.64v4.85h-3.64zM119.76 640.43h3.64v4.85h-3.64zM134.32 640.43h3.64v4.85h-3.64zM43.32 645.27h3.64v4.85h-3.64zM72.44 645.27h3.64v4.85h-3.64zM76.08 645.27h3.64v4.85h-3.64zM79.72 645.27h3.64v4.85h-3.64zM87 645.27h3.64v4.85h-3.64zM116.12 645.27h3.64v4.85h-3.64zM127.04 645.27h3.64v4.85h-3.64zM68.8 650.12h3.64v4.85h-3.64zM72.44 650.12h3.64v4.85h-3.64zM79.72 650.12h3.64v4.85h-3.64zM68.8 654.96h3.64v4.85h-3.64zM94.28 654.96h3.64v4.85h-3.64zM127.04 654.96h3.64v4.85h-3.64zM68.8 659.81h3.64v4.85h-3.64zM83.36 659.81h3.64v4.85h-3.64zM119.76 659.81h3.64v4.85h-3.64zM127.04 659.81h3.64v4.85h-3.64zM39.68 664.66h3.64v4.85h-3.64zM46.96 664.66h3.64v4.85h-3.64zM68.8 664.66h3.64v4.85h-3.64zM79.72 664.66h3.64v4.85h-3.64zM36.04 669.5h3.64v4.85h-3.64zM54.24 669.5h3.64v4.85h-3.64zM72.44 669.5h3.64v4.85h-3.64zM90.64 669.5h3.64v4.85h-3.64zM130.68 669.5h3.64v4.85h-3.64zM36.04 674.35h3.64v4.85h-3.64zM46.96 674.35h3.64v4.85h-3.64zM57.88 674.35h3.64v4.85h-3.64zM68.8 674.35h3.64v4.85h-3.64zM72.44 674.35h3.64v4.85h-3.64zM83.36 674.35h3.64v4.85h-3.64zM90.64 674.35h3.64v4.85h-3.64zM130.68 674.35h3.64v4.85h-3.64zM39.68 679.19h3.64v4.85h-3.64zM50.6 679.19h3.64v4.85h-3.64zM54.24 679.19h3.64v4.85h-3.64zM65.16 679.19h3.64v4.85h-3.64zM68.8 679.19h3.64v4.85h-3.64zM83.36 679.19h3.64v4.85h-3.64z"/>
<path fill="#FEE093" d="M112.48 587.12h3.64v4.85h-3.64zM112.48 601.66h3.64v4.85h-3.64z"/>
<path fill="#A4CAE3" d="M119.76 601.66h3.64v4.85h-3.64zM130.68 601.66h3.64v4.85h-3.64zM119.76 606.5h3.64v4.85h-3.64zM101.56 635.58h3.64v4.85h-3.64zM105.2 635.58h3.64v4.85h-3.64zM108.84 635.58h3.64v4.85h-3.64zM105.2 654.96h3.64v4.85h-3.64zM108.84 654.96h3.64v4.85h-3.64zM130.68 654.96h3.64v4.85h-3.64z"/>
<path d="M32.4 490.2V684.04M36.04 490.2V684.04M39.68 490.2V684.04M43.32 490.2V684.04M46.96 490.2V684.04M50.6 490.2V684.04M54.24 490.2V684.04M57.88 490.2V684.04M61.52 490.2V684.04M65.16 490.2V684.04M68.8 490.2V684.04M72.44 490.2V684.04M76.08 490.2V684.04M79.72 490.2V684.04M83.36 490.2V684.04M87 490.2V684.04M90.64 490.2V684.04M94.28 490.2V684.04M97.92 490.2V684.04M101.56 490.2V684.04M105.2 490.2V684.04M108.84 490.2V684.04M112.48 490.2V684.04M116.12 490.2V684.04M119.76 490.2V684.04M123.4 490.2V684.04M127.04 490.2V684.04M130.68 490.2V684.04M134.32 490.2V684.04M137.96 490.2V684.04M141.6 490.2V684.04M145.24 490.2V684.04M32.4 490.2H145.24M32.4 495.05H145.24M32.4 499.89H145.24M32.4 504.74H145.24M32.4 509.58H145.24M32.4 514.43H145.24M32.4 519.28H145.24M32.4 524.12H145.24M32.4 528.97H145.24M32.4 533.81H145.24M32.4 538.66H145.24M32.4 543.51H145.24M32.4 548.35H145.24M32.4 553.2H145.24M32.4 558.04H145.24M32.4 562.89H145.24M32.4 567.74H145.24M32.4 572.58H145.24M32.4 577.43H145.24M32.4 582.27H145.24M32.4 587.12H145.24M32.4 591.97H145.24M32.4 596.81H145.24M32.4 601.66H145.24M32.4 606.5H145.24M32.4 611.35H145.24M32.4 616.2H145.24M32.4 621.04H145.24M32.4 625.89H145.24M32.4 630.73H145.24M32.4 635.58H145.24M32.4 640.43H145.24M32.4 645.27H145.24M32.4 650.12H145.24M32.4 654.96H145.24M32.4 659.81H145.24M32.4 664.66H145.24M32.4 669.5H145.24M32.4 674.35H145.24M32.4 679.19H145.24M32.4 684.04H145.24" stroke="#959595" stroke-width="0.5" fill="none"/>
<rect x="32.4" y="483.8" width="3.64" height="4.5" fill="#00B050"/>
<rect x="36.04" y="483.8" width="3.64" height="4.5" fill="#00B050"/>
<rect x="39.68" y="483.8" width="3.64" height="4.5" fill="#00B050"/>
<rect x="43.32" y="483.8" width="3.64" height="4.5" fill="#00B050"/>
<rect x="46.96" y="483.8" width="3.64" height="4.5" fill="#000000"/>
<rect x="50.6" y="483.8" width="3.64" height="4.5" fill="#000000"/>
<rect x="54.24" y="483.8" width="3.64" height="4.5" fill="#000000"/>
<rect x="57.88" y="483.8" width="3.64" height="4.5" fill="#000000"/>
<rect x="61.52" y="483.8" width="3.64" height="4.5" fill="#0000FF"/>
<rect x="65.16" y="483.8" width="3.64" height="4.5" fill="#0000FF"/>
<rect x="68.8" y="483.8" width="3.64" height="4.5" fill="#0000FF"/>
<rect x="72.44" y="483.8" width="3.64" height="4.5" fill="#0000FF"/>
<rect x="76.08" y="483.8" width="3.64" height="4.5" fill="#FF66FF"/>
<rect x="79.72" y="483.8" width="3.64" height="4.5" fill="#FF66FF"/>
<rect x="83.36" y="483.8" width="3.64" height="4.5" fill="#FF66FF"/>
<rect x="87" y="483.8" width="3.64" height="4.5" fill="#7030A0"/>
<rect x="90.64" y="483.8" width="3.64" height="4.5" fill="#7030A0"/>
<rect x="94.28" y="483.8" width="3.64" height="4.5" fill="#7030A0"/>
<rect x="97.92" y="483.8" width="3.64" height="4.5" fill="#7030A0"/>
<rect x="101.56" y="483.8" width="3.64" height="4.5" fill="#FFD966"/>
<rect x="105.2" y="483.8" width="3.64" height="4.5" fill="#FFD966"/>
<rect x="108.84" y="483.8" width="3.64" height="4.5" fill="#FFD966"/>
<rect x="112.48" y="483.8" width="3.64" height="4.5" fill="#FFD966"/>
<rect x="116.12" y="483.8" width="3.64" height="4.5" fill="#C55A11"/>
<rect x="119.76" y="483.8" width="3.64" height="4.5" fill="#C55A11"/>
<rect x="123.4" y="483.8" width="3.64" height="4.5" fill="#C55A11"/>
<rect x="127.04" y="483.8" width="3.64" height="4.5" fill="#C55A11"/>
<rect x="130.68" y="483.8" width="3.64" height="4.5" fill="#FF0000"/>
<rect x="134.32" y="483.8" width="3.64" height="4.5" fill="#FF0000"/>
<rect x="137.96" y="483.8" width="3.64" height="4.5" fill="#FF0000"/>
<rect x="141.6" y="483.8" width="3.64" height="4.5" fill="#FF0000"/>
<path d="M32.4 483.8V488.3M36.04 483.8V488.3M39.68 483.8V488.3M43.32 483.8V488.3M46.96 483.8V488.3M50.6 483.8V488.3M54.24 483.8V488.3M57.88 483.8V488.3M61.52 483.8V488.3M65.16 483.8V488.3M68.8 483.8V488.3M72.44 483.8V488.3M76.08 483.8V488.3M79.72 483.8V488.3M83.36 483.8V488.3M87 483.8V488.3M90.64 483.8V488.3M94.28 483.8V488.3M97.92 483.8V488.3M101.56 483.8V488.3M105.2 483.8V488.3M108.84 483.8V488.3M112.48 483.8V488.3M116.12 483.8V488.3M119.76 483.8V488.3M123.4 483.8V488.3M127.04 483.8V488.3M130.68 483.8V488.3M134.32 483.8V488.3M137.96 483.8V488.3M141.6 483.8V488.3M145.24 483.8V488.3M32.4 483.8H145.24M32.4 488.3H145.24" stroke="#959595" stroke-width="0.4" fill="none"/>
<rect x="26.2" y="490.2" width="4.7" height="4.85" fill="#FF6FDB"/>
<rect x="26.2" y="495.05" width="4.7" height="4.85" fill="#FF6FDB"/>
<rect x="26.2" y="499.89" width="4.7" height="4.85" fill="#FF6FDB"/>
<rect x="26.2" y="504.74" width="4.7" height="4.85" fill="#FF6FDB"/>
<rect x="26.2" y="509.58" width="4.7" height="4.85" fill="#FF6FDB"/>
<rect x="26.2" y="514.43" width="4.7" height="4.85" fill="#FF6FDB"/>
<rect x="26.2" y="519.28" width="4.7" height="4.85" fill="#FF6FDB"/>
<rect x="26.2" y="524.12" width="4.7" height="4.85" fill="#FF6FDB"/>
<rect x="26.2" y="528.97" width="4.7" height="4.85" fill="#FF6FDB"/>
<rect x="26.2" y="533.81" width="4.7" height="4.85" fill="#FF6FDB"/>
<rect x="26.2" y="538.66" width="4.7" height="4.85" fill="#FF6FDB"/>
<rect x="26.2" y="543.51" width="4.7" height="4.85" fill="#FF6FDB"/>
<rect x="26.2" y="548.35" width="4.7" height="4.85" fill="#FF6FDB"/>
<rect x="26.2" y="553.2" width="4.7" height="4.85" fill="#FF6FDB"/>
<rect x="26.2" y="558.04" width="4.7" height="4.85" fill="#FF6FDB"/>
<rect x="26.2" y="562.89" width="4.7" height="4.85" fill="#FF6FDB"/>
<rect x="26.2" y="567.74" width="4.7" height="4.85" fill="#FF6FDB"/>
<rect x="26.2" y="572.58" width="4.7" height="4.85" fill="#FF6FDB"/>
<rect x="26.2" y="577.43" width="4.7" height="4.85" fill="#FF6FDB"/>
<rect x="26.2" y="582.27" width="4.7" height="4.85" fill="#FF6FDB"/>
<rect x="26.2" y="587.12" width="4.7" height="4.85" fill="#FF6FDB"/>
<rect x="26.2" y="591.97" width="4.7" height="4.85" fill="#FF6FDB"/>
<rect x="26.2" y="596.81" width="4.7" height="4.85" fill="#FF6FDB"/>
<rect x="26.2" y="601.66" width="4.7" height="4.85" fill="#FF6FDB"/>
<rect x="26.2" y="606.5" width="4.7" height="4.85" fill="#FF6FDB"/>
<rect x="26.2" y="611.35" width="4.7" height="4.85" fill="#FF6FDB"/>
<rect x="26.2" y="616.2" width="4.7" height="4.85" fill="#FF6FDB"/>
<rect x="26.2" y="621.04" width="4.7" height="4.85" fill="#FF6FDB"/>
<rect x="26.2" y="625.89" width="4.7" height="4.85" fill="#FF6FDB"/>
<rect x="26.2" y="630.73" width="4.7" height="4.85" fill="#FF6FDB"/>
<rect x="26.2" y="635.58" width="4.7" height="4.85" fill="#FF6FDB"/>
<rect x="26.2" y="640.43" width="4.7" height="4.85" fill="#FF6FDB"/>
<rect x="26.2" y="645.27" width="4.7" height="4.85" fill="#FF6FDB"/>
<rect x="26.2" y="650.12" width="4.7" height="4.85" fill="#FF6FDB"/>
<rect x="26.2" y="654.96" width="4.7" height="4.85" fill="#FF6FDB"/>
<rect x="26.2" y="659.81" width="4.7" height="4.85" fill="#FF6FDB"/>
<rect x="26.2" y="664.66" width="4.7" height="4.85" fill="#FF6FDB"/>
<rect x="26.2" y="669.5" width="4.7" height="4.85" fill="#FF6FDB"/>
<rect x="26.2" y="674.35" width="4.7" height="4.85" fill="#FF6FDB"/>
<rect x="26.2" y="679.19" width="4.7" height="4.85" fill="#FF6FDB"/>
<path d="M26.2 490.2H30.9M26.2 495.05H30.9M26.2 499.89H30.9M26.2 504.74H30.9M26.2 509.58H30.9M26.2 514.43H30.9M26.2 519.28H30.9M26.2 524.12H30.9M26.2 528.97H30.9M26.2 533.81H30.9M26.2 538.66H30.9M26.2 543.51H30.9M26.2 548.35H30.9M26.2 553.2H30.9M26.2 558.04H30.9M26.2 562.89H30.9M26.2 567.74H30.9M26.2 572.58H30.9M26.2 577.43H30.9M26.2 582.27H30.9M26.2 587.12H30.9M26.2 591.97H30.9M26.2 596.81H30.9M26.2 601.66H30.9M26.2 606.5H30.9M26.2 611.35H30.9M26.2 616.2H30.9M26.2 621.04H30.9M26.2 625.89H30.9M26.2 630.73H30.9M26.2 635.58H30.9M26.2 640.43H30.9M26.2 645.27H30.9M26.2 650.12H30.9M26.2 654.96H30.9M26.2 659.81H30.9M26.2 664.66H30.9M26.2 669.5H30.9M26.2 674.35H30.9M26.2 679.19H30.9M26.2 684.04H30.9M26.2 490.2V684.04M30.9 490.2V684.04" stroke="#959595" stroke-width="0.4" fill="none"/>
<g font-size="4.7" fill="#000" stroke="#000" stroke-width="0.12" opacity="0.999">
<text transform="translate(147.1 494.27) rotate(0.05)">SELE</text>
<text transform="translate(147.1 499.11) rotate(0.05)">IFI27</text>
<text transform="translate(147.1 503.96) rotate(0.05)">ACKR1</text>
<text transform="translate(147.1 508.81) rotate(0.05)">TM4SF1</text>
<text transform="translate(147.1 513.65) rotate(0.05)">AQP1</text>
<text transform="translate(147.1 518.5) rotate(0.05)">SPARCL1</text>
<text transform="translate(147.1 523.34) rotate(0.05)">CAV1</text>
<text transform="translate(147.1 528.19) rotate(0.05)">RAMP3</text>
<text transform="translate(147.1 533.04) rotate(0.05)">LINC01845</text>
<text transform="translate(147.1 537.88) rotate(0.05)">TSPAN1</text>
<text transform="translate(147.1 542.73) rotate(0.05)">ANGPT2</text>
<text transform="translate(147.1 547.57) rotate(0.05)">FOXD1</text>
<text transform="translate(147.1 552.42) rotate(0.05)">SH3RF2</text>
<text transform="translate(147.1 557.27) rotate(0.05)">CADM1</text>
<text transform="translate(147.1 562.11) rotate(0.05)">CLEC9A</text>
<text transform="translate(147.1 566.96) rotate(0.05)">NCALD</text>
<text transform="translate(147.1 571.8) rotate(0.05)">CLSTN2</text>
<text transform="translate(147.1 576.65) rotate(0.05)">XCR1</text>
<text transform="translate(147.1 581.5) rotate(0.05)">ESAM</text>
<text transform="translate(147.1 586.34) rotate(0.05)">WDFY4</text>
<text transform="translate(147.1 591.19) rotate(0.05)">GSTM2</text>
<text transform="translate(147.1 596.03) rotate(0.05)">CD34</text>
<text transform="translate(147.1 600.88) rotate(0.05)">PODXL</text>
<text transform="translate(147.1 605.73) rotate(0.05)">NAPSB</text>
<text transform="translate(147.1 610.57) rotate(0.05)">C1orf54</text>
<text transform="translate(147.1 615.42) rotate(0.05)">DNASE1L3</text>
<text transform="translate(147.1 620.26) rotate(0.05)">RUBCNL</text>
<text transform="translate(147.1 625.11) rotate(0.05)">CAPN3</text>
<text transform="translate(147.1 629.96) rotate(0.05)">CTD-2540B15.11</text>
<text transform="translate(147.1 634.8) rotate(0.05)">DTNA</text>
<text transform="translate(147.1 639.65) rotate(0.05)">RP11-324E6.6</text>
<text transform="translate(147.1 644.49) rotate(0.05)">PSTPIP2</text>
<text transform="translate(147.1 649.34) rotate(0.05)">TFCP2L1</text>
<text transform="translate(147.1 654.19) rotate(0.05)">PLEK2</text>
<text transform="translate(147.1 659.03) rotate(0.05)">PMEPA1</text>
<text transform="translate(147.1 663.88) rotate(0.05)">CCDC18</text>
<text transform="translate(147.1 668.72) rotate(0.05)">CIPC</text>
<text transform="translate(147.1 673.57) rotate(0.05)">PRMT7</text>
<text transform="translate(147.1 678.42) rotate(0.05)">ABCD1</text>
<text transform="translate(147.1 683.26) rotate(0.05)">TXLNB</text>
<text transform="translate(147.1 487.69) rotate(0.05)">Cells</text>
</g>
<path d="M25.6 502.31L17.76 502.31M25.6 507.16L17.76 507.16M17.76 502.31L17.76 507.16M25.6 497.47L14.95 497.47M17.76 504.74L14.95 504.74M14.95 497.47L14.95 504.74M25.6 512.01L15.9 512.01M25.6 516.85L15.9 516.85M15.9 512.01L15.9 516.85M14.95 501.1L13.14 501.1M15.9 514.43L13.14 514.43M13.14 501.1L13.14 514.43M25.6 492.62L11.53 492.62M13.14 507.77L11.53 507.77M11.53 492.62L11.53 507.77M25.6 526.54L19.89 526.54M25.6 531.39L19.89 531.39M19.89 526.54L19.89 531.39M25.6 536.24L20.62 536.24M25.6 541.08L20.62 541.08M20.62 536.24L20.62 541.08M19.89 528.97L19.89 528.97M20.62 538.66L19.89 538.66M19.89 528.97L19.89 538.66M19.89 533.81L15.38 533.81M25.6 545.93L15.38 545.93M15.38 533.81L15.38 545.93M25.6 555.62L16.09 555.62M25.6 560.47L16.09 560.47M16.09 555.62L16.09 560.47M25.6 550.77L13.18 550.77M16.09 558.04L13.18 558.04M13.18 550.77L13.18 558.04M25.6 565.31L14.92 565.31M25.6 570.16L14.92 570.16M14.92 565.31L14.92 570.16M14.92 567.74L12.12 567.74M25.6 575L12.12 575M12.12 567.74L12.12 575M13.18 554.41L11.47 554.41M12.12 571.37L11.47 571.37M11.47 554.41L11.47 571.37M15.38 539.87L11.27 539.87M11.47 562.89L11.27 562.89M11.27 539.87L11.27 562.89M11.27 551.38L11.27 551.38M25.6 579.85L11.27 579.85M11.27 551.38L11.27 579.85M11.27 565.62L11.27 565.62M25.6 584.7L11.27 584.7M11.27 565.62L11.27 584.7M25.6 521.7L10.97 521.7M11.27 575.16L10.97 575.16M10.97 521.7L10.97 575.16M11.53 500.19L10.84 500.19M10.97 548.43L10.84 548.43M10.84 500.19L10.84 548.43M25.6 589.54L11.95 589.54M25.6 594.39L11.95 594.39M11.95 589.54L11.95 594.39M10.84 524.31L10.5 524.31M11.95 591.97L10.5 591.97M10.5 524.31L10.5 591.97M25.6 599.24L13.72 599.24M25.6 604.08L13.72 604.08M13.72 599.24L13.72 604.08M25.6 613.77L17.69 613.77M25.6 618.62L17.69 618.62M17.69 613.77L17.69 618.62M25.6 608.93L14.42 608.93M17.69 616.2L14.42 616.2M14.42 608.93L14.42 616.2M13.72 601.66L13.5 601.66M14.42 612.56L13.5 612.56M13.5 601.66L13.5 612.56M10.5 558.14L8.8 558.14M13.5 607.11L8.8 607.11M8.8 558.14L8.8 607.11M25.6 623.47L11.6 623.47M25.6 628.31L11.6 628.31M11.6 623.47L11.6 628.31M25.6 633.16L11.34 633.16M25.6 638L11.34 638M11.34 633.16L11.34 638M11.6 625.89L11.2 625.89M11.34 635.58L11.2 635.58M11.2 625.89L11.2 635.58M25.6 642.85L11.96 642.85M25.6 647.69L11.96 647.69M11.96 642.85L11.96 647.69M11.96 645.27L11.84 645.27M25.6 652.54L11.84 652.54M11.84 645.27L11.84 652.54M11.84 648.91L7.87 648.91M25.6 657.39L7.87 657.39M7.87 648.91L7.87 657.39M25.6 662.23L8.82 662.23M25.6 667.08L8.82 667.08M8.82 662.23L8.82 667.08M25.6 671.92L9.03 671.92M25.6 676.77L9.03 676.77M9.03 671.92L9.03 676.77M8.82 664.66L7.86 664.66M9.03 674.35L7.86 674.35M7.86 664.66L7.86 674.35M7.87 653.15L7.49 653.15M7.86 669.5L7.49 669.5M7.49 653.15L7.49 669.5M7.49 661.32L6.5 661.32M25.6 681.62L6.5 681.62M6.5 661.32L6.5 681.62M11.2 630.73L4.7 630.73M6.5 671.47L4.7 671.47M4.7 630.73L4.7 671.47M8.8 582.62L0.6 582.62M4.7 651.1L0.6 651.1M0.6 582.62L0.6 651.1" stroke="#555" stroke-width="0.6" fill="none"/>
<text x="82.7" y="479.9" font-size="8.1" text-anchor="middle" fill="#111">cDC1</text>
<path fill="#D6EBF3" d="M237.7 490.9h3.67v4.81h-3.67zM252.38 490.9h3.67v4.81h-3.67zM259.72 490.9h3.67v4.81h-3.67zM270.73 490.9h3.67v4.81h-3.67zM278.07 490.9h3.67v4.81h-3.67zM285.41 490.9h3.67v4.81h-3.67zM241.37 495.71h3.67v4.81h-3.67zM245.04 495.71h3.67v4.81h-3.67zM252.38 495.71h3.67v4.81h-3.67zM259.72 495.71h3.67v4.81h-3.67zM263.39 495.71h3.67v4.81h-3.67zM270.73 495.71h3.67v4.81h-3.67zM274.4 495.71h3.67v4.81h-3.67zM285.41 495.71h3.67v4.81h-3.67zM300.09 495.71h3.67v4.81h-3.67zM307.43 495.71h3.67v4.81h-3.67zM311.1 495.71h3.67v4.81h-3.67zM318.44 495.71h3.67v4.81h-3.67zM245.04 500.52h3.67v4.81h-3.67zM248.71 500.52h3.67v4.81h-3.67zM252.38 500.52h3.67v4.81h-3.67zM256.05 500.52h3.67v4.81h-3.67zM259.72 500.52h3.67v4.81h-3.67zM263.39 500.52h3.67v4.81h-3.67zM274.4 500.52h3.67v4.81h-3.67zM281.74 500.52h3.67v4.81h-3.67zM285.41 500.52h3.67v4.81h-3.67zM307.43 500.52h3.67v4.81h-3.67zM311.1 500.52h3.67v4.81h-3.67zM318.44 500.52h3.67v4.81h-3.67zM237.7 505.33h3.67v4.81h-3.67zM245.04 505.33h3.67v4.81h-3.67zM248.71 505.33h3.67v4.81h-3.67zM252.38 505.33h3.67v4.81h-3.67zM256.05 505.33h3.67v4.81h-3.67zM259.72 505.33h3.67v4.81h-3.67zM263.39 505.33h3.67v4.81h-3.67zM274.4 505.33h3.67v4.81h-3.67zM281.74 505.33h3.67v4.81h-3.67zM285.41 505.33h3.67v4.81h-3.67zM300.09 505.33h3.67v4.81h-3.67zM303.76 505.33h3.67v4.81h-3.67zM311.1 505.33h3.67v4.81h-3.67zM237.7 510.14h3.67v4.81h-3.67zM245.04 510.14h3.67v4.81h-3.67zM248.71 510.14h3.67v4.81h-3.67zM252.38 510.14h3.67v4.81h-3.67zM256.05 510.14h3.67v4.81h-3.67zM259.72 510.14h3.67v4.81h-3.67zM263.39 510.14h3.67v4.81h-3.67zM270.73 510.14h3.67v4.81h-3.67zM274.4 510.14h3.67v4.81h-3.67zM281.74 510.14h3.67v4.81h-3.67zM289.08 510.14h3.67v4.81h-3.67zM296.42 510.14h3.67v4.81h-3.67zM300.09 510.14h3.67v4.81h-3.67zM303.76 510.14h3.67v4.81h-3.67zM314.77 510.14h3.67v4.81h-3.67zM237.7 514.95h3.67v4.81h-3.67zM245.04 514.95h3.67v4.81h-3.67zM248.71 514.95h3.67v4.81h-3.67zM252.38 514.95h3.67v4.81h-3.67zM256.05 514.95h3.67v4.81h-3.67zM259.72 514.95h3.67v4.81h-3.67zM263.39 514.95h3.67v4.81h-3.67zM270.73 514.95h3.67v4.81h-3.67zM274.4 514.95h3.67v4.81h-3.67zM281.74 514.95h3.67v4.81h-3.67zM285.41 514.95h3.67v4.81h-3.67zM289.08 514.95h3.67v4.81h-3.67zM292.75 514.95h3.67v4.81h-3.67zM303.76 514.95h3.67v4.81h-3.67zM314.77 514.95h3.67v4.81h-3.67zM318.44 514.95h3.67v4.81h-3.67zM259.72 519.76h3.67v4.81h-3.67zM270.73 519.76h3.67v4.81h-3.67zM274.4 519.76h3.67v4.81h-3.67zM281.74 519.76h3.67v4.81h-3.67zM285.41 519.76h3.67v4.81h-3.67zM289.08 519.76h3.67v4.81h-3.67zM292.75 519.76h3.67v4.81h-3.67zM237.7 524.57h3.67v4.81h-3.67zM245.04 524.57h3.67v4.81h-3.67zM248.71 524.57h3.67v4.81h-3.67zM252.38 524.57h3.67v4.81h-3.67zM256.05 524.57h3.67v4.81h-3.67zM259.72 524.57h3.67v4.81h-3.67zM263.39 524.57h3.67v4.81h-3.67zM270.73 524.57h3.67v4.81h-3.67zM274.4 524.57h3.67v4.81h-3.67zM281.74 524.57h3.67v4.81h-3.67zM285.41 524.57h3.67v4.81h-3.67zM289.08 524.57h3.67v4.81h-3.67zM300.09 524.57h3.67v4.81h-3.67zM307.43 524.57h3.67v4.81h-3.67zM311.1 524.57h3.67v4.81h-3.67zM314.77 524.57h3.67v4.81h-3.67zM318.44 524.57h3.67v4.81h-3.67zM245.04 529.38h3.67v4.81h-3.67zM248.71 529.38h3.67v4.81h-3.67zM256.05 529.38h3.67v4.81h-3.67zM259.72 529.38h3.67v4.81h-3.67zM270.73 529.38h3.67v4.81h-3.67zM274.4 529.38h3.67v4.81h-3.67zM285.41 529.38h3.67v4.81h-3.67zM245.04 534.19h3.67v4.81h-3.67zM248.71 534.19h3.67v4.81h-3.67zM252.38 534.19h3.67v4.81h-3.67zM256.05 534.19h3.67v4.81h-3.67zM263.39 534.19h3.67v4.81h-3.67zM274.4 534.19h3.67v4.81h-3.67zM285.41 534.19h3.67v4.81h-3.67zM311.1 534.19h3.67v4.81h-3.67zM314.77 534.19h3.67v4.81h-3.67zM241.37 539h3.67v4.81h-3.67zM252.38 539h3.67v4.81h-3.67zM263.39 539h3.67v4.81h-3.67zM278.07 539h3.67v4.81h-3.67zM285.41 539h3.67v4.81h-3.67zM292.75 539h3.67v4.81h-3.67zM307.43 539h3.67v4.81h-3.67zM311.1 539h3.67v4.81h-3.67zM318.44 539h3.67v4.81h-3.67zM241.37 543.81h3.67v4.81h-3.67zM245.04 543.81h3.67v4.81h-3.67zM248.71 543.81h3.67v4.81h-3.67zM252.38 543.81h3.67v4.81h-3.67zM256.05 543.81h3.67v4.81h-3.67zM259.72 543.81h3.67v4.81h-3.67zM263.39 543.81h3.67v4.81h-3.67zM270.73 543.81h3.67v4.81h-3.67zM274.4 543.81h3.67v4.81h-3.67zM278.07 543.81h3.67v4.81h-3.67zM281.74 543.81h3.67v4.81h-3.67zM285.41 543.81h3.67v4.81h-3.67zM289.08 543.81h3.67v4.81h-3.67zM296.42 543.81h3.67v4.81h-3.67zM300.09 543.81h3.67v4.81h-3.67zM303.76 543.81h3.67v4.81h-3.67zM307.43 543.81h3.67v4.81h-3.67zM311.1 543.81h3.67v4.81h-3.67zM314.77 543.81h3.67v4.81h-3.67zM237.7 548.62h3.67v4.81h-3.67zM241.37 548.62h3.67v4.81h-3.67zM245.04 548.62h3.67v4.81h-3.67zM248.71 548.62h3.67v4.81h-3.67zM252.38 548.62h3.67v4.81h-3.67zM256.05 548.62h3.67v4.81h-3.67zM259.72 548.62h3.67v4.81h-3.67zM263.39 548.62h3.67v4.81h-3.67zM270.73 548.62h3.67v4.81h-3.67zM278.07 548.62h3.67v4.81h-3.67zM281.74 548.62h3.67v4.81h-3.67zM300.09 548.62h3.67v4.81h-3.67zM307.43 548.62h3.67v4.81h-3.67zM311.1 548.62h3.67v4.81h-3.67zM314.77 548.62h3.67v4.81h-3.67zM241.37 553.43h3.67v4.81h-3.67zM245.04 553.43h3.67v4.81h-3.67zM248.71 553.43h3.67v4.81h-3.67zM252.38 553.43h3.67v4.81h-3.67zM256.05 553.43h3.67v4.81h-3.67zM259.72 553.43h3.67v4.81h-3.67zM263.39 553.43h3.67v4.81h-3.67zM278.07 553.43h3.67v4.81h-3.67zM300.09 553.43h3.67v4.81h-3.67zM307.43 553.43h3.67v4.81h-3.67zM311.1 553.43h3.67v4.81h-3.67zM314.77 553.43h3.67v4.81h-3.67zM237.7 558.24h3.67v4.81h-3.67zM248.71 558.24h3.67v4.81h-3.67zM252.38 558.24h3.67v4.81h-3.67zM263.39 558.24h3.67v4.81h-3.67zM307.43 558.24h3.67v4.81h-3.67zM311.1 558.24h3.67v4.81h-3.67zM241.37 563.05h3.67v4.81h-3.67zM259.72 563.05h3.67v4.81h-3.67zM263.39 563.05h3.67v4.81h-3.67zM270.73 563.05h3.67v4.81h-3.67zM274.4 563.05h3.67v4.81h-3.67zM281.74 563.05h3.67v4.81h-3.67zM241.37 567.86h3.67v4.81h-3.67zM252.38 567.86h3.67v4.81h-3.67zM259.72 567.86h3.67v4.81h-3.67zM263.39 567.86h3.67v4.81h-3.67zM307.43 567.86h3.67v4.81h-3.67zM241.37 572.67h3.67v4.81h-3.67zM245.04 572.67h3.67v4.81h-3.67zM252.38 572.67h3.67v4.81h-3.67zM274.4 572.67h3.67v4.81h-3.67zM307.43 572.67h3.67v4.81h-3.67zM248.71 577.48h3.67v4.81h-3.67zM248.71 582.29h3.67v4.81h-3.67zM241.37 587.1h3.67v4.81h-3.67zM263.39 587.1h3.67v4.81h-3.67zM307.43 587.1h3.67v4.81h-3.67zM241.37 591.91h3.67v4.81h-3.67zM256.05 591.91h3.67v4.81h-3.67zM263.39 591.91h3.67v4.81h-3.67zM307.43 591.91h3.67v4.81h-3.67zM241.37 596.72h3.67v4.81h-3.67zM259.72 596.72h3.67v4.81h-3.67zM318.44 596.72h3.67v4.81h-3.67zM237.7 601.53h3.67v4.81h-3.67zM263.39 601.53h3.67v4.81h-3.67zM292.75 601.53h3.67v4.81h-3.67zM311.1 601.53h3.67v4.81h-3.67zM237.7 606.34h3.67v4.81h-3.67zM263.39 606.34h3.67v4.81h-3.67zM281.74 606.34h3.67v4.81h-3.67zM300.09 606.34h3.67v4.81h-3.67zM237.7 611.15h3.67v4.81h-3.67zM263.39 611.15h3.67v4.81h-3.67zM300.09 611.15h3.67v4.81h-3.67zM237.7 615.96h3.67v4.81h-3.67zM241.37 615.96h3.67v4.81h-3.67zM245.04 615.96h3.67v4.81h-3.67zM248.71 615.96h3.67v4.81h-3.67zM256.05 615.96h3.67v4.81h-3.67zM259.72 615.96h3.67v4.81h-3.67zM263.39 615.96h3.67v4.81h-3.67zM278.07 615.96h3.67v4.81h-3.67zM281.74 615.96h3.67v4.81h-3.67zM300.09 615.96h3.67v4.81h-3.67zM314.77 615.96h3.67v4.81h-3.67zM237.7 620.77h3.67v4.81h-3.67zM241.37 620.77h3.67v4.81h-3.67zM245.04 620.77h3.67v4.81h-3.67zM248.71 620.77h3.67v4.81h-3.67zM256.05 620.77h3.67v4.81h-3.67zM259.72 620.77h3.67v4.81h-3.67zM263.39 620.77h3.67v4.81h-3.67zM274.4 620.77h3.67v4.81h-3.67zM281.74 620.77h3.67v4.81h-3.67zM300.09 620.77h3.67v4.81h-3.67zM311.1 620.77h3.67v4.81h-3.67zM245.04 625.58h3.67v4.81h-3.67zM248.71 625.58h3.67v4.81h-3.67zM252.38 625.58h3.67v4.81h-3.67zM256.05 625.58h3.67v4.81h-3.67zM259.72 625.58h3.67v4.81h-3.67zM263.39 625.58h3.67v4.81h-3.67zM274.4 625.58h3.67v4.81h-3.67zM281.74 625.58h3.67v4.81h-3.67zM296.42 625.58h3.67v4.81h-3.67zM311.1 625.58h3.67v4.81h-3.67zM314.77 625.58h3.67v4.81h-3.67zM237.7 630.39h3.67v4.81h-3.67zM241.37 630.39h3.67v4.81h-3.67zM245.04 630.39h3.67v4.81h-3.67zM248.71 630.39h3.67v4.81h-3.67zM252.38 630.39h3.67v4.81h-3.67zM256.05 630.39h3.67v4.81h-3.67zM259.72 630.39h3.67v4.81h-3.67zM263.39 630.39h3.67v4.81h-3.67zM274.4 630.39h3.67v4.81h-3.67zM278.07 630.39h3.67v4.81h-3.67zM281.74 630.39h3.67v4.81h-3.67zM296.42 630.39h3.67v4.81h-3.67zM311.1 630.39h3.67v4.81h-3.67zM300.09 635.2h3.67v4.81h-3.67zM303.76 635.2h3.67v4.81h-3.67zM329.45 635.2h3.67v4.81h-3.67zM333.12 635.2h3.67v4.81h-3.67zM340.46 635.2h3.67v4.81h-3.67zM347.8 635.2h3.67v4.81h-3.67zM256.05 640.01h3.67v4.81h-3.67zM303.76 640.01h3.67v4.81h-3.67zM329.45 640.01h3.67v4.81h-3.67zM344.13 640.01h3.67v4.81h-3.67zM256.05 644.82h3.67v4.81h-3.67zM274.4 644.82h3.67v4.81h-3.67zM278.07 644.82h3.67v4.81h-3.67zM285.41 644.82h3.67v4.81h-3.67zM300.09 644.82h3.67v4.81h-3.67zM303.76 644.82h3.67v4.81h-3.67zM329.45 644.82h3.67v4.81h-3.67zM347.8 644.82h3.67v4.81h-3.67zM259.72 649.63h3.67v4.81h-3.67zM289.08 649.63h3.67v4.81h-3.67zM296.42 649.63h3.67v4.81h-3.67zM303.76 649.63h3.67v4.81h-3.67zM333.12 649.63h3.67v4.81h-3.67zM344.13 649.63h3.67v4.81h-3.67zM347.8 654.44h3.67v4.81h-3.67zM285.41 659.25h3.67v4.81h-3.67zM300.09 659.25h3.67v4.81h-3.67zM340.46 659.25h3.67v4.81h-3.67zM347.8 659.25h3.67v4.81h-3.67zM245.04 664.06h3.67v4.81h-3.67zM256.05 664.06h3.67v4.81h-3.67zM281.74 664.06h3.67v4.81h-3.67zM314.77 664.06h3.67v4.81h-3.67zM325.78 664.06h3.67v4.81h-3.67zM329.45 664.06h3.67v4.81h-3.67zM336.79 664.06h3.67v4.81h-3.67zM340.46 664.06h3.67v4.81h-3.67zM344.13 664.06h3.67v4.81h-3.67zM347.8 664.06h3.67v4.81h-3.67zM274.4 668.87h3.67v4.81h-3.67zM307.43 668.87h3.67v4.81h-3.67zM311.1 668.87h3.67v4.81h-3.67zM314.77 668.87h3.67v4.81h-3.67zM318.44 668.87h3.67v4.81h-3.67zM322.11 668.87h3.67v4.81h-3.67zM325.78 668.87h3.67v4.81h-3.67zM329.45 668.87h3.67v4.81h-3.67zM336.79 668.87h3.67v4.81h-3.67zM340.46 668.87h3.67v4.81h-3.67zM344.13 668.87h3.67v4.81h-3.67zM347.8 668.87h3.67v4.81h-3.67zM285.41 673.68h3.67v4.81h-3.67zM322.11 673.68h3.67v4.81h-3.67zM325.78 673.68h3.67v4.81h-3.67zM347.8 673.68h3.67v4.81h-3.67zM274.4 678.49h3.67v4.81h-3.67zM285.41 678.49h3.67v4.81h-3.67zM307.43 678.49h3.67v4.81h-3.67zM311.1 678.49h3.67v4.81h-3.67zM314.77 678.49h3.67v4.81h-3.67zM318.44 678.49h3.67v4.81h-3.67zM322.11 678.49h3.67v4.81h-3.67zM325.78 678.49h3.67v4.81h-3.67zM329.45 678.49h3.67v4.81h-3.67zM333.12 678.49h3.67v4.81h-3.67zM336.79 678.49h3.67v4.81h-3.67zM340.46 678.49h3.67v4.81h-3.67zM344.13 678.49h3.67v4.81h-3.67zM347.8 678.49h3.67v4.81h-3.67z"/>
<path fill="#F2F7D3" d="M241.37 490.9h3.67v4.81h-3.67zM263.39 490.9h3.67v4.81h-3.67zM296.42 490.9h3.67v4.81h-3.67zM303.76 490.9h3.67v4.81h-3.67zM307.43 490.9h3.67v4.81h-3.67zM318.44 490.9h3.67v4.81h-3.67zM296.42 495.71h3.67v4.81h-3.67zM303.76 495.71h3.67v4.81h-3.67zM237.7 500.52h3.67v4.81h-3.67zM241.37 500.52h3.67v4.81h-3.67zM296.42 500.52h3.67v4.81h-3.67zM241.37 505.33h3.67v4.81h-3.67zM296.42 505.33h3.67v4.81h-3.67zM307.43 505.33h3.67v4.81h-3.67zM241.37 510.14h3.67v4.81h-3.67zM296.42 514.95h3.67v4.81h-3.67zM237.7 519.76h3.67v4.81h-3.67zM245.04 519.76h3.67v4.81h-3.67zM248.71 519.76h3.67v4.81h-3.67zM252.38 519.76h3.67v4.81h-3.67zM256.05 519.76h3.67v4.81h-3.67zM263.39 519.76h3.67v4.81h-3.67zM296.42 519.76h3.67v4.81h-3.67zM300.09 519.76h3.67v4.81h-3.67zM303.76 519.76h3.67v4.81h-3.67zM307.43 519.76h3.67v4.81h-3.67zM311.1 519.76h3.67v4.81h-3.67zM314.77 519.76h3.67v4.81h-3.67zM318.44 519.76h3.67v4.81h-3.67zM325.78 519.76h3.67v4.81h-3.67zM303.76 524.57h3.67v4.81h-3.67zM300.09 529.38h3.67v4.81h-3.67zM303.76 529.38h3.67v4.81h-3.67zM237.7 534.19h3.67v4.81h-3.67zM241.37 534.19h3.67v4.81h-3.67zM296.42 534.19h3.67v4.81h-3.67zM237.7 539h3.67v4.81h-3.67zM296.42 539h3.67v4.81h-3.67zM237.7 543.81h3.67v4.81h-3.67zM296.42 558.24h3.67v4.81h-3.67zM252.38 563.05h3.67v4.81h-3.67zM296.42 563.05h3.67v4.81h-3.67zM296.42 572.67h3.67v4.81h-3.67zM292.75 615.96h3.67v4.81h-3.67zM296.42 615.96h3.67v4.81h-3.67z"/>
<path fill="#A4CAE3" d="M245.04 490.9h3.67v4.81h-3.67zM281.74 490.9h3.67v4.81h-3.67zM300.09 490.9h3.67v4.81h-3.67zM237.7 495.71h3.67v4.81h-3.67zM256.05 495.71h3.67v4.81h-3.67zM281.74 495.71h3.67v4.81h-3.67zM281.74 529.38h3.67v4.81h-3.67zM307.43 529.38h3.67v4.81h-3.67zM311.1 529.38h3.67v4.81h-3.67zM314.77 529.38h3.67v4.81h-3.67zM281.74 534.19h3.67v4.81h-3.67zM256.05 539h3.67v4.81h-3.67zM259.72 539h3.67v4.81h-3.67zM314.77 539h3.67v4.81h-3.67zM237.7 553.43h3.67v4.81h-3.67zM314.77 558.24h3.67v4.81h-3.67zM281.74 601.53h3.67v4.81h-3.67zM311.1 606.34h3.67v4.81h-3.67zM281.74 611.15h3.67v4.81h-3.67zM311.1 611.15h3.67v4.81h-3.67zM322.11 635.2h3.67v4.81h-3.67zM325.78 635.2h3.67v4.81h-3.67zM336.79 635.2h3.67v4.81h-3.67zM344.13 635.2h3.67v4.81h-3.67zM292.75 640.01h3.67v4.81h-3.67zM322.11 640.01h3.67v4.81h-3.67zM325.78 640.01h3.67v4.81h-3.67zM336.79 640.01h3.67v4.81h-3.67zM340.46 640.01h3.67v4.81h-3.67zM322.11 644.82h3.67v4.81h-3.67zM325.78 644.82h3.67v4.81h-3.67zM340.46 644.82h3.67v4.81h-3.67zM344.13 644.82h3.67v4.81h-3.67zM322.11 649.63h3.67v4.81h-3.67zM325.78 649.63h3.67v4.81h-3.67zM329.45 649.63h3.67v4.81h-3.67zM336.79 649.63h3.67v4.81h-3.67zM340.46 649.63h3.67v4.81h-3.67zM278.07 654.44h3.67v4.81h-3.67zM322.11 654.44h3.67v4.81h-3.67zM325.78 654.44h3.67v4.81h-3.67zM329.45 654.44h3.67v4.81h-3.67zM333.12 654.44h3.67v4.81h-3.67zM336.79 654.44h3.67v4.81h-3.67zM340.46 654.44h3.67v4.81h-3.67zM322.11 659.25h3.67v4.81h-3.67zM325.78 659.25h3.67v4.81h-3.67zM329.45 659.25h3.67v4.81h-3.67zM333.12 659.25h3.67v4.81h-3.67zM336.79 659.25h3.67v4.81h-3.67zM344.13 659.25h3.67v4.81h-3.67zM322.11 664.06h3.67v4.81h-3.67zM333.12 664.06h3.67v4.81h-3.67zM274.4 673.68h3.67v4.81h-3.67zM314.77 673.68h3.67v4.81h-3.67zM333.12 673.68h3.67v4.81h-3.67zM336.79 673.68h3.67v4.81h-3.67zM340.46 673.68h3.67v4.81h-3.67zM344.13 673.68h3.67v4.81h-3.67z"/>
<path fill="#FEE093" d="M248.71 490.9h3.67v4.81h-3.67zM256.05 490.9h3.67v4.81h-3.67zM267.06 490.9h3.67v4.81h-3.67zM289.08 490.9h3.67v4.81h-3.67zM311.1 490.9h3.67v4.81h-3.67zM289.08 495.71h3.67v4.81h-3.67zM292.75 495.71h3.67v4.81h-3.67zM314.77 495.71h3.67v4.81h-3.67zM278.07 500.52h3.67v4.81h-3.67zM314.77 500.52h3.67v4.81h-3.67zM325.78 500.52h3.67v4.81h-3.67zM267.06 505.33h3.67v4.81h-3.67zM278.07 505.33h3.67v4.81h-3.67zM289.08 505.33h3.67v4.81h-3.67zM267.06 510.14h3.67v4.81h-3.67zM278.07 510.14h3.67v4.81h-3.67zM285.41 510.14h3.67v4.81h-3.67zM267.06 514.95h3.67v4.81h-3.67zM325.78 514.95h3.67v4.81h-3.67zM267.06 519.76h3.67v4.81h-3.67zM292.75 524.57h3.67v4.81h-3.67zM296.42 524.57h3.67v4.81h-3.67zM336.79 524.57h3.67v4.81h-3.67zM241.37 529.38h3.67v4.81h-3.67zM292.75 529.38h3.67v4.81h-3.67zM296.42 529.38h3.67v4.81h-3.67zM333.12 529.38h3.67v4.81h-3.67zM289.08 534.19h3.67v4.81h-3.67zM292.75 534.19h3.67v4.81h-3.67zM303.76 534.19h3.67v4.81h-3.67zM329.45 534.19h3.67v4.81h-3.67zM248.71 539h3.67v4.81h-3.67zM267.06 539h3.67v4.81h-3.67zM274.4 539h3.67v4.81h-3.67zM289.08 539h3.67v4.81h-3.67zM333.12 539h3.67v4.81h-3.67zM267.06 543.81h3.67v4.81h-3.67zM267.06 548.62h3.67v4.81h-3.67zM285.41 548.62h3.67v4.81h-3.67zM296.42 548.62h3.67v4.81h-3.67zM303.76 548.62h3.67v4.81h-3.67zM340.46 548.62h3.67v4.81h-3.67zM267.06 553.43h3.67v4.81h-3.67zM270.73 553.43h3.67v4.81h-3.67zM281.74 553.43h3.67v4.81h-3.67zM289.08 553.43h3.67v4.81h-3.67zM292.75 553.43h3.67v4.81h-3.67zM296.42 553.43h3.67v4.81h-3.67zM303.76 553.43h3.67v4.81h-3.67zM340.46 553.43h3.67v4.81h-3.67zM259.72 558.24h3.67v4.81h-3.67zM267.06 558.24h3.67v4.81h-3.67zM274.4 558.24h3.67v4.81h-3.67zM278.07 558.24h3.67v4.81h-3.67zM281.74 558.24h3.67v4.81h-3.67zM285.41 558.24h3.67v4.81h-3.67zM292.75 558.24h3.67v4.81h-3.67zM300.09 558.24h3.67v4.81h-3.67zM303.76 558.24h3.67v4.81h-3.67zM267.06 563.05h3.67v4.81h-3.67zM278.07 563.05h3.67v4.81h-3.67zM300.09 563.05h3.67v4.81h-3.67zM311.1 563.05h3.67v4.81h-3.67zM314.77 563.05h3.67v4.81h-3.67zM333.12 563.05h3.67v4.81h-3.67zM267.06 567.86h3.67v4.81h-3.67zM270.73 567.86h3.67v4.81h-3.67zM278.07 567.86h3.67v4.81h-3.67zM285.41 567.86h3.67v4.81h-3.67zM296.42 567.86h3.67v4.81h-3.67zM311.1 567.86h3.67v4.81h-3.67zM267.06 572.67h3.67v4.81h-3.67zM278.07 572.67h3.67v4.81h-3.67zM285.41 572.67h3.67v4.81h-3.67zM289.08 572.67h3.67v4.81h-3.67zM292.75 572.67h3.67v4.81h-3.67zM300.09 572.67h3.67v4.81h-3.67zM267.06 577.48h3.67v4.81h-3.67zM270.73 577.48h3.67v4.81h-3.67zM274.4 577.48h3.67v4.81h-3.67zM278.07 577.48h3.67v4.81h-3.67zM281.74 577.48h3.67v4.81h-3.67zM285.41 577.48h3.67v4.81h-3.67zM289.08 577.48h3.67v4.81h-3.67zM292.75 577.48h3.67v4.81h-3.67zM296.42 577.48h3.67v4.81h-3.67zM300.09 577.48h3.67v4.81h-3.67zM311.1 577.48h3.67v4.81h-3.67zM241.37 582.29h3.67v4.81h-3.67zM267.06 582.29h3.67v4.81h-3.67zM270.73 582.29h3.67v4.81h-3.67zM274.4 582.29h3.67v4.81h-3.67zM278.07 582.29h3.67v4.81h-3.67zM281.74 582.29h3.67v4.81h-3.67zM285.41 582.29h3.67v4.81h-3.67zM289.08 582.29h3.67v4.81h-3.67zM292.75 582.29h3.67v4.81h-3.67zM296.42 582.29h3.67v4.81h-3.67zM300.09 582.29h3.67v4.81h-3.67zM311.1 582.29h3.67v4.81h-3.67zM314.77 582.29h3.67v4.81h-3.67zM318.44 582.29h3.67v4.81h-3.67zM267.06 587.1h3.67v4.81h-3.67zM270.73 587.1h3.67v4.81h-3.67zM274.4 587.1h3.67v4.81h-3.67zM281.74 587.1h3.67v4.81h-3.67zM285.41 587.1h3.67v4.81h-3.67zM289.08 587.1h3.67v4.81h-3.67zM292.75 587.1h3.67v4.81h-3.67zM296.42 587.1h3.67v4.81h-3.67zM300.09 587.1h3.67v4.81h-3.67zM303.76 587.1h3.67v4.81h-3.67zM314.77 587.1h3.67v4.81h-3.67zM333.12 587.1h3.67v4.81h-3.67zM267.06 591.91h3.67v4.81h-3.67zM285.41 591.91h3.67v4.81h-3.67zM300.09 591.91h3.67v4.81h-3.67zM303.76 591.91h3.67v4.81h-3.67zM314.77 591.91h3.67v4.81h-3.67zM333.12 591.91h3.67v4.81h-3.67zM267.06 596.72h3.67v4.81h-3.67zM270.73 596.72h3.67v4.81h-3.67zM274.4 596.72h3.67v4.81h-3.67zM281.74 596.72h3.67v4.81h-3.67zM285.41 596.72h3.67v4.81h-3.67zM289.08 596.72h3.67v4.81h-3.67zM292.75 596.72h3.67v4.81h-3.67zM296.42 596.72h3.67v4.81h-3.67zM300.09 596.72h3.67v4.81h-3.67zM307.43 596.72h3.67v4.81h-3.67zM311.1 596.72h3.67v4.81h-3.67zM314.77 596.72h3.67v4.81h-3.67zM267.06 601.53h3.67v4.81h-3.67zM270.73 601.53h3.67v4.81h-3.67zM274.4 601.53h3.67v4.81h-3.67zM278.07 601.53h3.67v4.81h-3.67zM289.08 601.53h3.67v4.81h-3.67zM296.42 601.53h3.67v4.81h-3.67zM303.76 601.53h3.67v4.81h-3.67zM241.37 606.34h3.67v4.81h-3.67zM267.06 606.34h3.67v4.81h-3.67zM270.73 606.34h3.67v4.81h-3.67zM278.07 606.34h3.67v4.81h-3.67zM289.08 606.34h3.67v4.81h-3.67zM296.42 606.34h3.67v4.81h-3.67zM303.76 606.34h3.67v4.81h-3.67zM314.77 606.34h3.67v4.81h-3.67zM318.44 606.34h3.67v4.81h-3.67zM267.06 611.15h3.67v4.81h-3.67zM270.73 611.15h3.67v4.81h-3.67zM278.07 611.15h3.67v4.81h-3.67zM289.08 611.15h3.67v4.81h-3.67zM292.75 611.15h3.67v4.81h-3.67zM296.42 611.15h3.67v4.81h-3.67zM307.43 611.15h3.67v4.81h-3.67zM314.77 611.15h3.67v4.81h-3.67zM318.44 611.15h3.67v4.81h-3.67zM270.73 615.96h3.67v4.81h-3.67zM303.76 615.96h3.67v4.81h-3.67zM307.43 615.96h3.67v4.81h-3.67zM318.44 615.96h3.67v4.81h-3.67zM325.78 615.96h3.67v4.81h-3.67zM267.06 620.77h3.67v4.81h-3.67zM278.07 620.77h3.67v4.81h-3.67zM289.08 620.77h3.67v4.81h-3.67zM303.76 620.77h3.67v4.81h-3.67zM314.77 620.77h3.67v4.81h-3.67zM318.44 620.77h3.67v4.81h-3.67zM241.37 625.58h3.67v4.81h-3.67zM278.07 625.58h3.67v4.81h-3.67zM292.75 625.58h3.67v4.81h-3.67zM300.09 625.58h3.67v4.81h-3.67zM307.43 625.58h3.67v4.81h-3.67zM318.44 625.58h3.67v4.81h-3.67zM285.41 630.39h3.67v4.81h-3.67zM289.08 630.39h3.67v4.81h-3.67zM300.09 630.39h3.67v4.81h-3.67zM303.76 630.39h3.67v4.81h-3.67zM314.77 630.39h3.67v4.81h-3.67zM248.71 635.2h3.67v4.81h-3.67zM252.38 635.2h3.67v4.81h-3.67zM259.72 635.2h3.67v4.81h-3.67zM274.4 635.2h3.67v4.81h-3.67zM285.41 635.2h3.67v4.81h-3.67zM289.08 635.2h3.67v4.81h-3.67zM311.1 635.2h3.67v4.81h-3.67zM241.37 640.01h3.67v4.81h-3.67zM245.04 640.01h3.67v4.81h-3.67zM248.71 640.01h3.67v4.81h-3.67zM252.38 640.01h3.67v4.81h-3.67zM267.06 640.01h3.67v4.81h-3.67zM274.4 640.01h3.67v4.81h-3.67zM285.41 640.01h3.67v4.81h-3.67zM289.08 640.01h3.67v4.81h-3.67zM300.09 640.01h3.67v4.81h-3.67zM311.1 640.01h3.67v4.81h-3.67zM241.37 644.82h3.67v4.81h-3.67zM248.71 644.82h3.67v4.81h-3.67zM252.38 644.82h3.67v4.81h-3.67zM270.73 644.82h3.67v4.81h-3.67zM296.42 644.82h3.67v4.81h-3.67zM307.43 644.82h3.67v4.81h-3.67zM318.44 644.82h3.67v4.81h-3.67zM237.7 649.63h3.67v4.81h-3.67zM241.37 649.63h3.67v4.81h-3.67zM248.71 649.63h3.67v4.81h-3.67zM252.38 649.63h3.67v4.81h-3.67zM274.4 649.63h3.67v4.81h-3.67zM278.07 649.63h3.67v4.81h-3.67zM285.41 649.63h3.67v4.81h-3.67zM292.75 649.63h3.67v4.81h-3.67zM300.09 649.63h3.67v4.81h-3.67zM307.43 649.63h3.67v4.81h-3.67zM318.44 649.63h3.67v4.81h-3.67zM248.71 654.44h3.67v4.81h-3.67zM259.72 654.44h3.67v4.81h-3.67zM267.06 654.44h3.67v4.81h-3.67zM285.41 654.44h3.67v4.81h-3.67zM296.42 654.44h3.67v4.81h-3.67zM300.09 654.44h3.67v4.81h-3.67zM307.43 654.44h3.67v4.81h-3.67zM318.44 654.44h3.67v4.81h-3.67zM259.72 659.25h3.67v4.81h-3.67zM278.07 659.25h3.67v4.81h-3.67zM281.74 659.25h3.67v4.81h-3.67zM289.08 659.25h3.67v4.81h-3.67zM292.75 659.25h3.67v4.81h-3.67zM296.42 659.25h3.67v4.81h-3.67zM303.76 659.25h3.67v4.81h-3.67zM318.44 659.25h3.67v4.81h-3.67zM237.7 664.06h3.67v4.81h-3.67zM259.72 664.06h3.67v4.81h-3.67zM267.06 664.06h3.67v4.81h-3.67zM274.4 664.06h3.67v4.81h-3.67zM296.42 664.06h3.67v4.81h-3.67zM303.76 664.06h3.67v4.81h-3.67zM307.43 664.06h3.67v4.81h-3.67zM318.44 664.06h3.67v4.81h-3.67zM241.37 668.87h3.67v4.81h-3.67zM259.72 668.87h3.67v4.81h-3.67zM267.06 668.87h3.67v4.81h-3.67zM270.73 668.87h3.67v4.81h-3.67zM278.07 668.87h3.67v4.81h-3.67zM292.75 668.87h3.67v4.81h-3.67zM296.42 668.87h3.67v4.81h-3.67zM241.37 673.68h3.67v4.81h-3.67zM256.05 673.68h3.67v4.81h-3.67zM270.73 673.68h3.67v4.81h-3.67zM278.07 673.68h3.67v4.81h-3.67zM292.75 673.68h3.67v4.81h-3.67zM300.09 673.68h3.67v4.81h-3.67zM303.76 673.68h3.67v4.81h-3.67zM307.43 673.68h3.67v4.81h-3.67zM311.1 673.68h3.67v4.81h-3.67zM318.44 673.68h3.67v4.81h-3.67zM241.37 678.49h3.67v4.81h-3.67zM248.71 678.49h3.67v4.81h-3.67zM263.39 678.49h3.67v4.81h-3.67zM270.73 678.49h3.67v4.81h-3.67zM278.07 678.49h3.67v4.81h-3.67zM300.09 678.49h3.67v4.81h-3.67zM303.76 678.49h3.67v4.81h-3.67z"/>
<path fill="#FDC77A" d="M274.4 490.9h3.67v4.81h-3.67zM314.77 490.9h3.67v4.81h-3.67zM329.45 490.9h3.67v4.81h-3.67zM333.12 490.9h3.67v4.81h-3.67zM248.71 495.71h3.67v4.81h-3.67zM278.07 495.71h3.67v4.81h-3.67zM325.78 495.71h3.67v4.81h-3.67zM329.45 495.71h3.67v4.81h-3.67zM333.12 495.71h3.67v4.81h-3.67zM347.8 495.71h3.67v4.81h-3.67zM267.06 500.52h3.67v4.81h-3.67zM322.11 500.52h3.67v4.81h-3.67zM314.77 505.33h3.67v4.81h-3.67zM322.11 505.33h3.67v4.81h-3.67zM325.78 505.33h3.67v4.81h-3.67zM333.12 505.33h3.67v4.81h-3.67zM292.75 510.14h3.67v4.81h-3.67zM311.1 510.14h3.67v4.81h-3.67zM318.44 510.14h3.67v4.81h-3.67zM325.78 510.14h3.67v4.81h-3.67zM329.45 510.14h3.67v4.81h-3.67zM278.07 514.95h3.67v4.81h-3.67zM300.09 514.95h3.67v4.81h-3.67zM311.1 514.95h3.67v4.81h-3.67zM322.11 514.95h3.67v4.81h-3.67zM329.45 514.95h3.67v4.81h-3.67zM333.12 514.95h3.67v4.81h-3.67zM333.12 519.76h3.67v4.81h-3.67zM267.06 524.57h3.67v4.81h-3.67zM278.07 524.57h3.67v4.81h-3.67zM329.45 524.57h3.67v4.81h-3.67zM333.12 524.57h3.67v4.81h-3.67zM340.46 524.57h3.67v4.81h-3.67zM252.38 529.38h3.67v4.81h-3.67zM329.45 529.38h3.67v4.81h-3.67zM259.72 534.19h3.67v4.81h-3.67zM300.09 534.19h3.67v4.81h-3.67zM333.12 534.19h3.67v4.81h-3.67zM340.46 534.19h3.67v4.81h-3.67zM245.04 539h3.67v4.81h-3.67zM281.74 539h3.67v4.81h-3.67zM325.78 539h3.67v4.81h-3.67zM329.45 539h3.67v4.81h-3.67zM340.46 539h3.67v4.81h-3.67zM325.78 543.81h3.67v4.81h-3.67zM340.46 543.81h3.67v4.81h-3.67zM347.8 543.81h3.67v4.81h-3.67zM274.4 548.62h3.67v4.81h-3.67zM289.08 548.62h3.67v4.81h-3.67zM325.78 548.62h3.67v4.81h-3.67zM274.4 553.43h3.67v4.81h-3.67zM325.78 553.43h3.67v4.81h-3.67zM329.45 553.43h3.67v4.81h-3.67zM336.79 553.43h3.67v4.81h-3.67zM322.11 558.24h3.67v4.81h-3.67zM325.78 558.24h3.67v4.81h-3.67zM329.45 558.24h3.67v4.81h-3.67zM336.79 558.24h3.67v4.81h-3.67zM340.46 558.24h3.67v4.81h-3.67zM292.75 563.05h3.67v4.81h-3.67zM325.78 563.05h3.67v4.81h-3.67zM329.45 563.05h3.67v4.81h-3.67zM340.46 563.05h3.67v4.81h-3.67zM292.75 567.86h3.67v4.81h-3.67zM314.77 567.86h3.67v4.81h-3.67zM322.11 567.86h3.67v4.81h-3.67zM329.45 567.86h3.67v4.81h-3.67zM344.13 567.86h3.67v4.81h-3.67zM311.1 572.67h3.67v4.81h-3.67zM314.77 572.67h3.67v4.81h-3.67zM329.45 577.48h3.67v4.81h-3.67zM333.12 577.48h3.67v4.81h-3.67zM325.78 582.29h3.67v4.81h-3.67zM336.79 582.29h3.67v4.81h-3.67zM322.11 587.1h3.67v4.81h-3.67zM325.78 587.1h3.67v4.81h-3.67zM329.45 587.1h3.67v4.81h-3.67zM336.79 587.1h3.67v4.81h-3.67zM340.46 587.1h3.67v4.81h-3.67zM347.8 587.1h3.67v4.81h-3.67zM274.4 591.91h3.67v4.81h-3.67zM281.74 591.91h3.67v4.81h-3.67zM292.75 591.91h3.67v4.81h-3.67zM329.45 591.91h3.67v4.81h-3.67zM336.79 591.91h3.67v4.81h-3.67zM344.13 591.91h3.67v4.81h-3.67zM347.8 591.91h3.67v4.81h-3.67zM325.78 596.72h3.67v4.81h-3.67zM329.45 596.72h3.67v4.81h-3.67zM333.12 596.72h3.67v4.81h-3.67zM344.13 596.72h3.67v4.81h-3.67zM347.8 596.72h3.67v4.81h-3.67zM314.77 601.53h3.67v4.81h-3.67zM322.11 601.53h3.67v4.81h-3.67zM325.78 601.53h3.67v4.81h-3.67zM333.12 601.53h3.67v4.81h-3.67zM322.11 606.34h3.67v4.81h-3.67zM325.78 606.34h3.67v4.81h-3.67zM329.45 606.34h3.67v4.81h-3.67zM322.11 611.15h3.67v4.81h-3.67zM325.78 611.15h3.67v4.81h-3.67zM340.46 611.15h3.67v4.81h-3.67zM267.06 615.96h3.67v4.81h-3.67zM322.11 620.77h3.67v4.81h-3.67zM325.78 620.77h3.67v4.81h-3.67zM340.46 620.77h3.67v4.81h-3.67zM267.06 625.58h3.67v4.81h-3.67zM289.08 625.58h3.67v4.81h-3.67zM303.76 625.58h3.67v4.81h-3.67zM322.11 625.58h3.67v4.81h-3.67zM325.78 625.58h3.67v4.81h-3.67zM329.45 625.58h3.67v4.81h-3.67zM267.06 630.39h3.67v4.81h-3.67zM292.75 630.39h3.67v4.81h-3.67zM329.45 630.39h3.67v4.81h-3.67zM333.12 630.39h3.67v4.81h-3.67zM237.7 635.2h3.67v4.81h-3.67zM256.05 635.2h3.67v4.81h-3.67zM278.07 635.2h3.67v4.81h-3.67zM314.77 635.2h3.67v4.81h-3.67zM237.7 640.01h3.67v4.81h-3.67zM263.39 640.01h3.67v4.81h-3.67zM270.73 640.01h3.67v4.81h-3.67zM278.07 640.01h3.67v4.81h-3.67zM281.74 640.01h3.67v4.81h-3.67zM296.42 640.01h3.67v4.81h-3.67zM307.43 640.01h3.67v4.81h-3.67zM237.7 644.82h3.67v4.81h-3.67zM263.39 644.82h3.67v4.81h-3.67zM267.06 644.82h3.67v4.81h-3.67zM292.75 644.82h3.67v4.81h-3.67zM311.1 644.82h3.67v4.81h-3.67zM314.77 644.82h3.67v4.81h-3.67zM263.39 649.63h3.67v4.81h-3.67zM267.06 649.63h3.67v4.81h-3.67zM281.74 649.63h3.67v4.81h-3.67zM311.1 649.63h3.67v4.81h-3.67zM237.7 654.44h3.67v4.81h-3.67zM241.37 654.44h3.67v4.81h-3.67zM245.04 654.44h3.67v4.81h-3.67zM252.38 654.44h3.67v4.81h-3.67zM256.05 654.44h3.67v4.81h-3.67zM263.39 654.44h3.67v4.81h-3.67zM274.4 654.44h3.67v4.81h-3.67zM292.75 654.44h3.67v4.81h-3.67zM303.76 654.44h3.67v4.81h-3.67zM311.1 654.44h3.67v4.81h-3.67zM314.77 654.44h3.67v4.81h-3.67zM237.7 659.25h3.67v4.81h-3.67zM241.37 659.25h3.67v4.81h-3.67zM245.04 659.25h3.67v4.81h-3.67zM248.71 659.25h3.67v4.81h-3.67zM252.38 659.25h3.67v4.81h-3.67zM267.06 659.25h3.67v4.81h-3.67zM311.1 659.25h3.67v4.81h-3.67zM314.77 659.25h3.67v4.81h-3.67zM252.38 664.06h3.67v4.81h-3.67zM263.39 664.06h3.67v4.81h-3.67zM285.41 664.06h3.67v4.81h-3.67zM237.7 668.87h3.67v4.81h-3.67zM248.71 668.87h3.67v4.81h-3.67zM263.39 668.87h3.67v4.81h-3.67zM285.41 668.87h3.67v4.81h-3.67zM300.09 668.87h3.67v4.81h-3.67zM303.76 668.87h3.67v4.81h-3.67zM245.04 673.68h3.67v4.81h-3.67zM252.38 673.68h3.67v4.81h-3.67zM263.39 673.68h3.67v4.81h-3.67zM267.06 673.68h3.67v4.81h-3.67zM296.42 673.68h3.67v4.81h-3.67zM237.7 678.49h3.67v4.81h-3.67zM252.38 678.49h3.67v4.81h-3.67z"/>
<path fill="#F99A5C" d="M292.75 490.9h3.67v4.81h-3.67zM292.75 543.81h3.67v4.81h-3.67zM270.73 635.2h3.67v4.81h-3.67zM314.77 640.01h3.67v4.81h-3.67zM245.04 644.82h3.67v4.81h-3.67zM259.72 644.82h3.67v4.81h-3.67zM314.77 649.63h3.67v4.81h-3.67zM256.05 659.25h3.67v4.81h-3.67zM263.39 659.25h3.67v4.81h-3.67zM307.43 659.25h3.67v4.81h-3.67zM241.37 664.06h3.67v4.81h-3.67zM248.71 664.06h3.67v4.81h-3.67zM311.1 664.06h3.67v4.81h-3.67zM245.04 668.87h3.67v4.81h-3.67zM252.38 668.87h3.67v4.81h-3.67zM256.05 668.87h3.67v4.81h-3.67zM237.7 673.68h3.67v4.81h-3.67zM248.71 673.68h3.67v4.81h-3.67zM259.72 673.68h3.67v4.81h-3.67zM267.06 678.49h3.67v4.81h-3.67z"/>
<path fill="#F58C57" d="M322.11 490.9h3.67v4.81h-3.67zM336.79 490.9h3.67v4.81h-3.67zM340.46 490.9h3.67v4.81h-3.67zM344.13 490.9h3.67v4.81h-3.67zM347.8 490.9h3.67v4.81h-3.67zM322.11 495.71h3.67v4.81h-3.67zM336.79 495.71h3.67v4.81h-3.67zM344.13 495.71h3.67v4.81h-3.67zM333.12 500.52h3.67v4.81h-3.67zM336.79 500.52h3.67v4.81h-3.67zM340.46 500.52h3.67v4.81h-3.67zM344.13 500.52h3.67v4.81h-3.67zM347.8 500.52h3.67v4.81h-3.67zM329.45 505.33h3.67v4.81h-3.67zM336.79 505.33h3.67v4.81h-3.67zM340.46 505.33h3.67v4.81h-3.67zM347.8 505.33h3.67v4.81h-3.67zM322.11 510.14h3.67v4.81h-3.67zM333.12 510.14h3.67v4.81h-3.67zM336.79 510.14h3.67v4.81h-3.67zM344.13 510.14h3.67v4.81h-3.67zM347.8 510.14h3.67v4.81h-3.67zM344.13 514.95h3.67v4.81h-3.67zM347.8 514.95h3.67v4.81h-3.67zM340.46 519.76h3.67v4.81h-3.67zM344.13 519.76h3.67v4.81h-3.67zM347.8 519.76h3.67v4.81h-3.67zM347.8 524.57h3.67v4.81h-3.67zM322.11 529.38h3.67v4.81h-3.67zM325.78 529.38h3.67v4.81h-3.67zM336.79 529.38h3.67v4.81h-3.67zM340.46 529.38h3.67v4.81h-3.67zM344.13 529.38h3.67v4.81h-3.67zM347.8 529.38h3.67v4.81h-3.67zM322.11 534.19h3.67v4.81h-3.67zM325.78 534.19h3.67v4.81h-3.67zM344.13 534.19h3.67v4.81h-3.67zM347.8 534.19h3.67v4.81h-3.67zM322.11 539h3.67v4.81h-3.67zM336.79 539h3.67v4.81h-3.67zM344.13 539h3.67v4.81h-3.67zM347.8 539h3.67v4.81h-3.67zM322.11 543.81h3.67v4.81h-3.67zM344.13 543.81h3.67v4.81h-3.67zM322.11 548.62h3.67v4.81h-3.67zM329.45 548.62h3.67v4.81h-3.67zM333.12 548.62h3.67v4.81h-3.67zM336.79 548.62h3.67v4.81h-3.67zM344.13 548.62h3.67v4.81h-3.67zM347.8 548.62h3.67v4.81h-3.67zM333.12 553.43h3.67v4.81h-3.67zM344.13 553.43h3.67v4.81h-3.67zM347.8 553.43h3.67v4.81h-3.67zM333.12 558.24h3.67v4.81h-3.67zM344.13 558.24h3.67v4.81h-3.67zM347.8 558.24h3.67v4.81h-3.67zM322.11 563.05h3.67v4.81h-3.67zM336.79 563.05h3.67v4.81h-3.67zM344.13 563.05h3.67v4.81h-3.67zM347.8 563.05h3.67v4.81h-3.67zM325.78 567.86h3.67v4.81h-3.67zM333.12 567.86h3.67v4.81h-3.67zM336.79 567.86h3.67v4.81h-3.67zM340.46 567.86h3.67v4.81h-3.67zM347.8 567.86h3.67v4.81h-3.67zM322.11 572.67h3.67v4.81h-3.67zM325.78 572.67h3.67v4.81h-3.67zM329.45 572.67h3.67v4.81h-3.67zM333.12 572.67h3.67v4.81h-3.67zM336.79 572.67h3.67v4.81h-3.67zM340.46 572.67h3.67v4.81h-3.67zM344.13 572.67h3.67v4.81h-3.67zM347.8 572.67h3.67v4.81h-3.67zM322.11 577.48h3.67v4.81h-3.67zM325.78 577.48h3.67v4.81h-3.67zM336.79 577.48h3.67v4.81h-3.67zM340.46 577.48h3.67v4.81h-3.67zM344.13 577.48h3.67v4.81h-3.67zM347.8 577.48h3.67v4.81h-3.67zM322.11 582.29h3.67v4.81h-3.67zM329.45 582.29h3.67v4.81h-3.67zM333.12 582.29h3.67v4.81h-3.67zM340.46 582.29h3.67v4.81h-3.67zM344.13 582.29h3.67v4.81h-3.67zM347.8 582.29h3.67v4.81h-3.67zM344.13 587.1h3.67v4.81h-3.67zM322.11 591.91h3.67v4.81h-3.67zM325.78 591.91h3.67v4.81h-3.67zM340.46 591.91h3.67v4.81h-3.67zM322.11 596.72h3.67v4.81h-3.67zM336.79 596.72h3.67v4.81h-3.67zM340.46 596.72h3.67v4.81h-3.67zM329.45 601.53h3.67v4.81h-3.67zM336.79 601.53h3.67v4.81h-3.67zM340.46 601.53h3.67v4.81h-3.67zM344.13 601.53h3.67v4.81h-3.67zM347.8 601.53h3.67v4.81h-3.67zM333.12 606.34h3.67v4.81h-3.67zM336.79 606.34h3.67v4.81h-3.67zM340.46 606.34h3.67v4.81h-3.67zM344.13 606.34h3.67v4.81h-3.67zM347.8 606.34h3.67v4.81h-3.67zM329.45 611.15h3.67v4.81h-3.67zM333.12 611.15h3.67v4.81h-3.67zM336.79 611.15h3.67v4.81h-3.67zM344.13 611.15h3.67v4.81h-3.67zM347.8 611.15h3.67v4.81h-3.67zM329.45 615.96h3.67v4.81h-3.67zM340.46 615.96h3.67v4.81h-3.67zM347.8 615.96h3.67v4.81h-3.67zM329.45 620.77h3.67v4.81h-3.67zM333.12 620.77h3.67v4.81h-3.67zM336.79 620.77h3.67v4.81h-3.67zM347.8 620.77h3.67v4.81h-3.67zM340.46 625.58h3.67v4.81h-3.67zM344.13 625.58h3.67v4.81h-3.67zM347.8 625.58h3.67v4.81h-3.67zM322.11 630.39h3.67v4.81h-3.67zM336.79 630.39h3.67v4.81h-3.67zM340.46 630.39h3.67v4.81h-3.67zM347.8 630.39h3.67v4.81h-3.67z"/>
<path fill="#FCFCC6" d="M325.78 490.9h3.67v4.81h-3.67zM267.06 495.71h3.67v4.81h-3.67zM270.73 500.52h3.67v4.81h-3.67zM289.08 500.52h3.67v4.81h-3.67zM292.75 500.52h3.67v4.81h-3.67zM300.09 500.52h3.67v4.81h-3.67zM303.76 500.52h3.67v4.81h-3.67zM329.45 500.52h3.67v4.81h-3.67zM270.73 505.33h3.67v4.81h-3.67zM292.75 505.33h3.67v4.81h-3.67zM318.44 505.33h3.67v4.81h-3.67zM307.43 510.14h3.67v4.81h-3.67zM340.46 510.14h3.67v4.81h-3.67zM241.37 514.95h3.67v4.81h-3.67zM307.43 514.95h3.67v4.81h-3.67zM241.37 519.76h3.67v4.81h-3.67zM278.07 519.76h3.67v4.81h-3.67zM329.45 519.76h3.67v4.81h-3.67zM241.37 524.57h3.67v4.81h-3.67zM325.78 524.57h3.67v4.81h-3.67zM237.7 529.38h3.67v4.81h-3.67zM263.39 529.38h3.67v4.81h-3.67zM267.06 529.38h3.67v4.81h-3.67zM278.07 529.38h3.67v4.81h-3.67zM289.08 529.38h3.67v4.81h-3.67zM318.44 529.38h3.67v4.81h-3.67zM267.06 534.19h3.67v4.81h-3.67zM270.73 534.19h3.67v4.81h-3.67zM278.07 534.19h3.67v4.81h-3.67zM307.43 534.19h3.67v4.81h-3.67zM318.44 534.19h3.67v4.81h-3.67zM270.73 539h3.67v4.81h-3.67zM300.09 539h3.67v4.81h-3.67zM303.76 539h3.67v4.81h-3.67zM318.44 543.81h3.67v4.81h-3.67zM333.12 543.81h3.67v4.81h-3.67zM292.75 548.62h3.67v4.81h-3.67zM318.44 548.62h3.67v4.81h-3.67zM285.41 553.43h3.67v4.81h-3.67zM318.44 553.43h3.67v4.81h-3.67zM241.37 558.24h3.67v4.81h-3.67zM270.73 558.24h3.67v4.81h-3.67zM289.08 558.24h3.67v4.81h-3.67zM318.44 558.24h3.67v4.81h-3.67zM285.41 563.05h3.67v4.81h-3.67zM289.08 563.05h3.67v4.81h-3.67zM303.76 563.05h3.67v4.81h-3.67zM307.43 563.05h3.67v4.81h-3.67zM318.44 563.05h3.67v4.81h-3.67zM274.4 567.86h3.67v4.81h-3.67zM281.74 567.86h3.67v4.81h-3.67zM289.08 567.86h3.67v4.81h-3.67zM300.09 567.86h3.67v4.81h-3.67zM303.76 567.86h3.67v4.81h-3.67zM318.44 567.86h3.67v4.81h-3.67zM248.71 572.67h3.67v4.81h-3.67zM270.73 572.67h3.67v4.81h-3.67zM281.74 572.67h3.67v4.81h-3.67zM303.76 572.67h3.67v4.81h-3.67zM318.44 572.67h3.67v4.81h-3.67zM241.37 577.48h3.67v4.81h-3.67zM303.76 577.48h3.67v4.81h-3.67zM307.43 577.48h3.67v4.81h-3.67zM314.77 577.48h3.67v4.81h-3.67zM318.44 577.48h3.67v4.81h-3.67zM303.76 582.29h3.67v4.81h-3.67zM307.43 582.29h3.67v4.81h-3.67zM278.07 587.1h3.67v4.81h-3.67zM311.1 587.1h3.67v4.81h-3.67zM318.44 587.1h3.67v4.81h-3.67zM270.73 591.91h3.67v4.81h-3.67zM278.07 591.91h3.67v4.81h-3.67zM289.08 591.91h3.67v4.81h-3.67zM296.42 591.91h3.67v4.81h-3.67zM311.1 591.91h3.67v4.81h-3.67zM318.44 591.91h3.67v4.81h-3.67zM278.07 596.72h3.67v4.81h-3.67zM303.76 596.72h3.67v4.81h-3.67zM241.37 601.53h3.67v4.81h-3.67zM285.41 601.53h3.67v4.81h-3.67zM300.09 601.53h3.67v4.81h-3.67zM307.43 601.53h3.67v4.81h-3.67zM318.44 601.53h3.67v4.81h-3.67zM274.4 606.34h3.67v4.81h-3.67zM285.41 606.34h3.67v4.81h-3.67zM292.75 606.34h3.67v4.81h-3.67zM307.43 606.34h3.67v4.81h-3.67zM241.37 611.15h3.67v4.81h-3.67zM274.4 611.15h3.67v4.81h-3.67zM285.41 611.15h3.67v4.81h-3.67zM303.76 611.15h3.67v4.81h-3.67zM252.38 615.96h3.67v4.81h-3.67zM274.4 615.96h3.67v4.81h-3.67zM285.41 615.96h3.67v4.81h-3.67zM289.08 615.96h3.67v4.81h-3.67zM311.1 615.96h3.67v4.81h-3.67zM322.11 615.96h3.67v4.81h-3.67zM252.38 620.77h3.67v4.81h-3.67zM270.73 620.77h3.67v4.81h-3.67zM285.41 620.77h3.67v4.81h-3.67zM292.75 620.77h3.67v4.81h-3.67zM296.42 620.77h3.67v4.81h-3.67zM307.43 620.77h3.67v4.81h-3.67zM237.7 625.58h3.67v4.81h-3.67zM270.73 625.58h3.67v4.81h-3.67zM285.41 625.58h3.67v4.81h-3.67zM336.79 625.58h3.67v4.81h-3.67zM270.73 630.39h3.67v4.81h-3.67zM307.43 630.39h3.67v4.81h-3.67zM318.44 630.39h3.67v4.81h-3.67zM245.04 635.2h3.67v4.81h-3.67zM263.39 635.2h3.67v4.81h-3.67zM267.06 635.2h3.67v4.81h-3.67zM281.74 635.2h3.67v4.81h-3.67zM292.75 635.2h3.67v4.81h-3.67zM318.44 635.2h3.67v4.81h-3.67zM318.44 640.01h3.67v4.81h-3.67zM333.12 640.01h3.67v4.81h-3.67zM347.8 640.01h3.67v4.81h-3.67zM289.08 644.82h3.67v4.81h-3.67zM333.12 644.82h3.67v4.81h-3.67zM336.79 644.82h3.67v4.81h-3.67zM270.73 649.63h3.67v4.81h-3.67zM347.8 649.63h3.67v4.81h-3.67zM270.73 654.44h3.67v4.81h-3.67zM281.74 654.44h3.67v4.81h-3.67zM289.08 654.44h3.67v4.81h-3.67zM344.13 654.44h3.67v4.81h-3.67zM270.73 659.25h3.67v4.81h-3.67zM274.4 659.25h3.67v4.81h-3.67zM270.73 664.06h3.67v4.81h-3.67zM278.07 664.06h3.67v4.81h-3.67zM289.08 664.06h3.67v4.81h-3.67zM292.75 664.06h3.67v4.81h-3.67zM281.74 668.87h3.67v4.81h-3.67zM289.08 668.87h3.67v4.81h-3.67zM333.12 668.87h3.67v4.81h-3.67zM281.74 673.68h3.67v4.81h-3.67zM289.08 673.68h3.67v4.81h-3.67zM329.45 673.68h3.67v4.81h-3.67zM256.05 678.49h3.67v4.81h-3.67zM281.74 678.49h3.67v4.81h-3.67zM289.08 678.49h3.67v4.81h-3.67zM296.42 678.49h3.67v4.81h-3.67z"/>
<path fill="#EF6946" d="M340.46 495.71h3.67v4.81h-3.67zM344.13 505.33h3.67v4.81h-3.67zM336.79 514.95h3.67v4.81h-3.67zM340.46 514.95h3.67v4.81h-3.67zM322.11 519.76h3.67v4.81h-3.67zM322.11 524.57h3.67v4.81h-3.67zM344.13 524.57h3.67v4.81h-3.67zM336.79 534.19h3.67v4.81h-3.67zM322.11 553.43h3.67v4.81h-3.67zM333.12 615.96h3.67v4.81h-3.67zM336.79 615.96h3.67v4.81h-3.67zM344.13 615.96h3.67v4.81h-3.67zM344.13 620.77h3.67v4.81h-3.67zM333.12 625.58h3.67v4.81h-3.67zM325.78 630.39h3.67v4.81h-3.67zM344.13 630.39h3.67v4.81h-3.67zM241.37 635.2h3.67v4.81h-3.67zM296.42 635.2h3.67v4.81h-3.67zM307.43 635.2h3.67v4.81h-3.67zM245.04 649.63h3.67v4.81h-3.67zM256.05 649.63h3.67v4.81h-3.67zM300.09 664.06h3.67v4.81h-3.67zM259.72 678.49h3.67v4.81h-3.67zM292.75 678.49h3.67v4.81h-3.67z"/>
<path fill="#D93A2C" d="M336.79 519.76h3.67v4.81h-3.67zM329.45 543.81h3.67v4.81h-3.67zM336.79 543.81h3.67v4.81h-3.67zM259.72 640.01h3.67v4.81h-3.67zM281.74 644.82h3.67v4.81h-3.67zM245.04 678.49h3.67v4.81h-3.67z"/>
<path fill="#9AC3E1" d="M245.04 558.24h3.67v4.81h-3.67zM237.7 563.05h3.67v4.81h-3.67zM245.04 563.05h3.67v4.81h-3.67zM248.71 563.05h3.67v4.81h-3.67zM256.05 563.05h3.67v4.81h-3.67zM237.7 567.86h3.67v4.81h-3.67zM245.04 567.86h3.67v4.81h-3.67zM248.71 567.86h3.67v4.81h-3.67zM256.05 567.86h3.67v4.81h-3.67zM237.7 572.67h3.67v4.81h-3.67zM256.05 572.67h3.67v4.81h-3.67zM259.72 572.67h3.67v4.81h-3.67zM263.39 572.67h3.67v4.81h-3.67zM237.7 577.48h3.67v4.81h-3.67zM245.04 577.48h3.67v4.81h-3.67zM252.38 577.48h3.67v4.81h-3.67zM256.05 577.48h3.67v4.81h-3.67zM259.72 577.48h3.67v4.81h-3.67zM263.39 577.48h3.67v4.81h-3.67zM237.7 582.29h3.67v4.81h-3.67zM245.04 582.29h3.67v4.81h-3.67zM252.38 582.29h3.67v4.81h-3.67zM256.05 582.29h3.67v4.81h-3.67zM259.72 582.29h3.67v4.81h-3.67zM263.39 582.29h3.67v4.81h-3.67zM237.7 587.1h3.67v4.81h-3.67zM245.04 587.1h3.67v4.81h-3.67zM248.71 587.1h3.67v4.81h-3.67zM252.38 587.1h3.67v4.81h-3.67zM256.05 587.1h3.67v4.81h-3.67zM259.72 587.1h3.67v4.81h-3.67zM237.7 591.91h3.67v4.81h-3.67zM245.04 591.91h3.67v4.81h-3.67zM248.71 591.91h3.67v4.81h-3.67zM252.38 591.91h3.67v4.81h-3.67zM259.72 591.91h3.67v4.81h-3.67zM237.7 596.72h3.67v4.81h-3.67zM245.04 596.72h3.67v4.81h-3.67zM248.71 596.72h3.67v4.81h-3.67zM252.38 596.72h3.67v4.81h-3.67zM256.05 596.72h3.67v4.81h-3.67zM263.39 596.72h3.67v4.81h-3.67zM245.04 601.53h3.67v4.81h-3.67zM248.71 601.53h3.67v4.81h-3.67zM252.38 601.53h3.67v4.81h-3.67zM256.05 601.53h3.67v4.81h-3.67zM259.72 601.53h3.67v4.81h-3.67zM245.04 606.34h3.67v4.81h-3.67zM248.71 606.34h3.67v4.81h-3.67zM252.38 606.34h3.67v4.81h-3.67zM256.05 606.34h3.67v4.81h-3.67zM259.72 606.34h3.67v4.81h-3.67zM245.04 611.15h3.67v4.81h-3.67zM248.71 611.15h3.67v4.81h-3.67zM252.38 611.15h3.67v4.81h-3.67zM256.05 611.15h3.67v4.81h-3.67zM259.72 611.15h3.67v4.81h-3.67z"/>
<path fill="#6F9FD0" d="M256.05 558.24h3.67v4.81h-3.67z"/>
<path d="M237.7 490.9V683.3M241.37 490.9V683.3M245.04 490.9V683.3M248.71 490.9V683.3M252.38 490.9V683.3M256.05 490.9V683.3M259.72 490.9V683.3M263.39 490.9V683.3M267.06 490.9V683.3M270.73 490.9V683.3M274.4 490.9V683.3M278.07 490.9V683.3M281.74 490.9V683.3M285.41 490.9V683.3M289.08 490.9V683.3M292.75 490.9V683.3M296.42 490.9V683.3M300.09 490.9V683.3M303.76 490.9V683.3M307.43 490.9V683.3M311.1 490.9V683.3M314.77 490.9V683.3M318.44 490.9V683.3M322.11 490.9V683.3M325.78 490.9V683.3M329.45 490.9V683.3M333.12 490.9V683.3M336.79 490.9V683.3M340.46 490.9V683.3M344.13 490.9V683.3M347.8 490.9V683.3M351.47 490.9V683.3M237.7 490.9H351.47M237.7 495.71H351.47M237.7 500.52H351.47M237.7 505.33H351.47M237.7 510.14H351.47M237.7 514.95H351.47M237.7 519.76H351.47M237.7 524.57H351.47M237.7 529.38H351.47M237.7 534.19H351.47M237.7 539H351.47M237.7 543.81H351.47M237.7 548.62H351.47M237.7 553.43H351.47M237.7 558.24H351.47M237.7 563.05H351.47M237.7 567.86H351.47M237.7 572.67H351.47M237.7 577.48H351.47M237.7 582.29H351.47M237.7 587.1H351.47M237.7 591.91H351.47M237.7 596.72H351.47M237.7 601.53H351.47M237.7 606.34H351.47M237.7 611.15H351.47M237.7 615.96H351.47M237.7 620.77H351.47M237.7 625.58H351.47M237.7 630.39H351.47M237.7 635.2H351.47M237.7 640.01H351.47M237.7 644.82H351.47M237.7 649.63H351.47M237.7 654.44H351.47M237.7 659.25H351.47M237.7 664.06H351.47M237.7 668.87H351.47M237.7 673.68H351.47M237.7 678.49H351.47M237.7 683.3H351.47" stroke="#959595" stroke-width="0.5" fill="none"/>
<rect x="237.7" y="484.4" width="3.67" height="4.8" fill="#00B050"/>
<rect x="241.37" y="484.4" width="3.67" height="4.8" fill="#00B050"/>
<rect x="245.04" y="484.4" width="3.67" height="4.8" fill="#00B050"/>
<rect x="248.71" y="484.4" width="3.67" height="4.8" fill="#00B050"/>
<rect x="252.38" y="484.4" width="3.67" height="4.8" fill="#000000"/>
<rect x="256.05" y="484.4" width="3.67" height="4.8" fill="#000000"/>
<rect x="259.72" y="484.4" width="3.67" height="4.8" fill="#000000"/>
<rect x="263.39" y="484.4" width="3.67" height="4.8" fill="#000000"/>
<rect x="267.06" y="484.4" width="3.67" height="4.8" fill="#0000FF"/>
<rect x="270.73" y="484.4" width="3.67" height="4.8" fill="#0000FF"/>
<rect x="274.4" y="484.4" width="3.67" height="4.8" fill="#0000FF"/>
<rect x="278.07" y="484.4" width="3.67" height="4.8" fill="#0000FF"/>
<rect x="281.74" y="484.4" width="3.67" height="4.8" fill="#FF66FF"/>
<rect x="285.41" y="484.4" width="3.67" height="4.8" fill="#FF66FF"/>
<rect x="289.08" y="484.4" width="3.67" height="4.8" fill="#FF66FF"/>
<rect x="292.75" y="484.4" width="3.67" height="4.8" fill="#7030A0"/>
<rect x="296.42" y="484.4" width="3.67" height="4.8" fill="#7030A0"/>
<rect x="300.09" y="484.4" width="3.67" height="4.8" fill="#7030A0"/>
<rect x="303.76" y="484.4" width="3.67" height="4.8" fill="#7030A0"/>
<rect x="307.43" y="484.4" width="3.67" height="4.8" fill="#FFD966"/>
<rect x="311.1" y="484.4" width="3.67" height="4.8" fill="#FFD966"/>
<rect x="314.77" y="484.4" width="3.67" height="4.8" fill="#FFD966"/>
<rect x="318.44" y="484.4" width="3.67" height="4.8" fill="#FFD966"/>
<rect x="322.11" y="484.4" width="3.67" height="4.8" fill="#C55A11"/>
<rect x="325.78" y="484.4" width="3.67" height="4.8" fill="#C55A11"/>
<rect x="329.45" y="484.4" width="3.67" height="4.8" fill="#C55A11"/>
<rect x="333.12" y="484.4" width="3.67" height="4.8" fill="#C55A11"/>
<rect x="336.79" y="484.4" width="3.67" height="4.8" fill="#FF0000"/>
<rect x="340.46" y="484.4" width="3.67" height="4.8" fill="#FF0000"/>
<rect x="344.13" y="484.4" width="3.67" height="4.8" fill="#FF0000"/>
<rect x="347.8" y="484.4" width="3.67" height="4.8" fill="#FF0000"/>
<path d="M237.7 484.4V489.2M241.37 484.4V489.2M245.04 484.4V489.2M248.71 484.4V489.2M252.38 484.4V489.2M256.05 484.4V489.2M259.72 484.4V489.2M263.39 484.4V489.2M267.06 484.4V489.2M270.73 484.4V489.2M274.4 484.4V489.2M278.07 484.4V489.2M281.74 484.4V489.2M285.41 484.4V489.2M289.08 484.4V489.2M292.75 484.4V489.2M296.42 484.4V489.2M300.09 484.4V489.2M303.76 484.4V489.2M307.43 484.4V489.2M311.1 484.4V489.2M314.77 484.4V489.2M318.44 484.4V489.2M322.11 484.4V489.2M325.78 484.4V489.2M329.45 484.4V489.2M333.12 484.4V489.2M336.79 484.4V489.2M340.46 484.4V489.2M344.13 484.4V489.2M347.8 484.4V489.2M351.47 484.4V489.2M237.7 484.4H351.47M237.7 489.2H351.47" stroke="#959595" stroke-width="0.4" fill="none"/>
<rect x="231.5" y="490.9" width="4.4" height="4.81" fill="#FF6FDB"/>
<rect x="231.5" y="495.71" width="4.4" height="4.81" fill="#FF6FDB"/>
<rect x="231.5" y="500.52" width="4.4" height="4.81" fill="#FF6FDB"/>
<rect x="231.5" y="505.33" width="4.4" height="4.81" fill="#FF6FDB"/>
<rect x="231.5" y="510.14" width="4.4" height="4.81" fill="#FF6FDB"/>
<rect x="231.5" y="514.95" width="4.4" height="4.81" fill="#FF6FDB"/>
<rect x="231.5" y="519.76" width="4.4" height="4.81" fill="#FF6FDB"/>
<rect x="231.5" y="524.57" width="4.4" height="4.81" fill="#FF6FDB"/>
<rect x="231.5" y="529.38" width="4.4" height="4.81" fill="#FF6FDB"/>
<rect x="231.5" y="534.19" width="4.4" height="4.81" fill="#FF6FDB"/>
<rect x="231.5" y="539" width="4.4" height="4.81" fill="#FF6FDB"/>
<rect x="231.5" y="543.81" width="4.4" height="4.81" fill="#FF6FDB"/>
<rect x="231.5" y="548.62" width="4.4" height="4.81" fill="#FF6FDB"/>
<rect x="231.5" y="553.43" width="4.4" height="4.81" fill="#FF6FDB"/>
<rect x="231.5" y="558.24" width="4.4" height="4.81" fill="#FF6FDB"/>
<rect x="231.5" y="563.05" width="4.4" height="4.81" fill="#FF6FDB"/>
<rect x="231.5" y="567.86" width="4.4" height="4.81" fill="#FF6FDB"/>
<rect x="231.5" y="572.67" width="4.4" height="4.81" fill="#FF6FDB"/>
<rect x="231.5" y="577.48" width="4.4" height="4.81" fill="#FF6FDB"/>
<rect x="231.5" y="582.29" width="4.4" height="4.81" fill="#FF6FDB"/>
<rect x="231.5" y="587.1" width="4.4" height="4.81" fill="#FF6FDB"/>
<rect x="231.5" y="591.91" width="4.4" height="4.81" fill="#FF6FDB"/>
<rect x="231.5" y="596.72" width="4.4" height="4.81" fill="#FF6FDB"/>
<rect x="231.5" y="601.53" width="4.4" height="4.81" fill="#FF6FDB"/>
<rect x="231.5" y="606.34" width="4.4" height="4.81" fill="#FF6FDB"/>
<rect x="231.5" y="611.15" width="4.4" height="4.81" fill="#FF6FDB"/>
<rect x="231.5" y="615.96" width="4.4" height="4.81" fill="#FF6FDB"/>
<rect x="231.5" y="620.77" width="4.4" height="4.81" fill="#FF6FDB"/>
<rect x="231.5" y="625.58" width="4.4" height="4.81" fill="#FF6FDB"/>
<rect x="231.5" y="630.39" width="4.4" height="4.81" fill="#FF6FDB"/>
<rect x="231.5" y="635.2" width="4.4" height="4.81" fill="#FF6FDB"/>
<rect x="231.5" y="640.01" width="4.4" height="4.81" fill="#FF6FDB"/>
<rect x="231.5" y="644.82" width="4.4" height="4.81" fill="#FF6FDB"/>
<rect x="231.5" y="649.63" width="4.4" height="4.81" fill="#FF6FDB"/>
<rect x="231.5" y="654.44" width="4.4" height="4.81" fill="#FF6FDB"/>
<rect x="231.5" y="659.25" width="4.4" height="4.81" fill="#FF6FDB"/>
<rect x="231.5" y="664.06" width="4.4" height="4.81" fill="#FF6FDB"/>
<rect x="231.5" y="668.87" width="4.4" height="4.81" fill="#FF6FDB"/>
<rect x="231.5" y="673.68" width="4.4" height="4.81" fill="#FF6FDB"/>
<rect x="231.5" y="678.49" width="4.4" height="4.81" fill="#FF6FDB"/>
<path d="M231.5 490.9H235.9M231.5 495.71H235.9M231.5 500.52H235.9M231.5 505.33H235.9M231.5 510.14H235.9M231.5 514.95H235.9M231.5 519.76H235.9M231.5 524.57H235.9M231.5 529.38H235.9M231.5 534.19H235.9M231.5 539H235.9M231.5 543.81H235.9M231.5 548.62H235.9M231.5 553.43H235.9M231.5 558.24H235.9M231.5 563.05H235.9M231.5 567.86H235.9M231.5 572.67H235.9M231.5 577.48H235.9M231.5 582.29H235.9M231.5 587.1H235.9M231.5 591.91H235.9M231.5 596.72H235.9M231.5 601.53H235.9M231.5 606.34H235.9M231.5 611.15H235.9M231.5 615.96H235.9M231.5 620.77H235.9M231.5 625.58H235.9M231.5 630.39H235.9M231.5 635.2H235.9M231.5 640.01H235.9M231.5 644.82H235.9M231.5 649.63H235.9M231.5 654.44H235.9M231.5 659.25H235.9M231.5 664.06H235.9M231.5 668.87H235.9M231.5 673.68H235.9M231.5 678.49H235.9M231.5 683.3H235.9M231.5 490.9V683.3M235.9 490.9V683.3" stroke="#959595" stroke-width="0.4" fill="none"/>
<g font-size="4.7" fill="#000" stroke="#000" stroke-width="0.12" opacity="0.999">
<text transform="translate(353.9 494.95) rotate(0.05)">CTSD</text>
<text transform="translate(353.9 499.76) rotate(0.05)">LRP1</text>
<text transform="translate(353.9 504.57) rotate(0.05)">CD209</text>
<text transform="translate(353.9 509.38) rotate(0.05)">LILRB5</text>
<text transform="translate(353.9 514.19) rotate(0.05)">SLC40A1</text>
<text transform="translate(353.9 519) rotate(0.05)">WLS</text>
<text transform="translate(353.9 523.81) rotate(0.05)">CMKLR1</text>
<text transform="translate(353.9 528.62) rotate(0.05)">PLXDC1</text>
<text transform="translate(353.9 533.43) rotate(0.05)">LTBP2</text>
<text transform="translate(353.9 538.24) rotate(0.05)">MS4A4A</text>
<text transform="translate(353.9 543.05) rotate(0.05)">CD163L1</text>
<text transform="translate(353.9 547.86) rotate(0.05)">SLC11A1</text>
<text transform="translate(353.9 552.67) rotate(0.05)">ARHGAP6</text>
<text transform="translate(353.9 557.48) rotate(0.05)">LAIR1</text>
<text transform="translate(353.9 562.29) rotate(0.05)">MAFB</text>
<text transform="translate(353.9 567.1) rotate(0.05)">PLTP</text>
<text transform="translate(353.9 571.91) rotate(0.05)">SLCO2B1</text>
<text transform="translate(353.9 576.72) rotate(0.05)">STAB1</text>
<text transform="translate(353.9 581.53) rotate(0.05)">F13A1</text>
<text transform="translate(353.9 586.34) rotate(0.05)">RNASE1</text>
<text transform="translate(353.9 591.15) rotate(0.05)">C1QA</text>
<text transform="translate(353.9 595.96) rotate(0.05)">CD163</text>
<text transform="translate(353.9 600.77) rotate(0.05)">CFD</text>
<text transform="translate(353.9 605.58) rotate(0.05)">FOLR2</text>
<text transform="translate(353.9 610.39) rotate(0.05)">CCDC152</text>
<text transform="translate(353.9 615.2) rotate(0.05)">SELENOP</text>
<text transform="translate(353.9 620.01) rotate(0.05)">MAF</text>
<text transform="translate(353.9 624.82) rotate(0.05)">NT5DC3</text>
<text transform="translate(353.9 629.63) rotate(0.05)">CD14</text>
<text transform="translate(353.9 634.44) rotate(0.05)">SIGLEC1</text>
<text transform="translate(353.9 639.25) rotate(0.05)">LDHAP4</text>
<text transform="translate(353.9 644.06) rotate(0.05)">RP11-573D15.9</text>
<text transform="translate(353.9 648.87) rotate(0.05)">FAM160A1</text>
<text transform="translate(353.9 653.68) rotate(0.05)">SEMA7A</text>
<text transform="translate(353.9 658.49) rotate(0.05)">SLC2A1</text>
<text transform="translate(353.9 663.3) rotate(0.05)">TACSTD2</text>
<text transform="translate(353.9 668.11) rotate(0.05)">TOP2A</text>
<text transform="translate(353.9 672.92) rotate(0.05)">TRPC6</text>
<text transform="translate(353.9 677.73) rotate(0.05)">CLDN1</text>
<text transform="translate(353.9 682.54) rotate(0.05)">OLFM2</text>
<text transform="translate(353.9 486.94) rotate(0.05)">Cells</text>
</g>
<path d="M230.9 502.92L224.35 502.92M230.9 507.73L224.35 507.73M224.35 502.92L224.35 507.73M230.9 498.11L223.05 498.11M224.35 505.33L223.05 505.33M223.05 498.11L223.05 505.33M230.9 517.36L223.07 517.36M230.9 522.16L223.07 522.16M223.07 517.36L223.07 522.16M223.07 519.76L222.25 519.76M230.9 526.98L222.25 526.98M222.25 519.76L222.25 526.98M230.9 512.54L221.16 512.54M222.25 523.37L221.16 523.37M221.16 512.54L221.16 523.37M223.05 501.72L221.16 501.72M221.16 517.96L221.16 517.96M221.16 501.72L221.16 517.96M230.9 531.78L221.21 531.78M230.9 536.6L221.21 536.6M221.21 531.78L221.21 536.6M221.16 509.84L220.83 509.84M221.21 534.19L220.83 534.19M220.83 509.84L220.83 534.19M220.83 522.01L219.6 522.01M230.9 541.4L219.6 541.4M219.6 522.01L219.6 541.4M230.9 551.02L224.59 551.02M230.9 555.83L224.59 555.83M224.59 551.02L224.59 555.83M224.59 553.43L221.98 553.43M230.9 560.64L221.98 560.64M221.98 553.43L221.98 560.64M230.9 570.26L223.66 570.26M230.9 575.07L223.66 575.07M223.66 570.26L223.66 575.07M230.9 565.45L223.39 565.45M223.66 572.67L223.39 572.67M223.39 565.45L223.39 572.67M230.9 579.88L226.37 579.88M230.9 584.69L226.37 584.69M226.37 579.88L226.37 584.69M230.9 589.5L225.57 589.5M230.9 594.31L225.57 594.31M225.57 589.5L225.57 594.31M225.57 591.91L224.22 591.91M230.9 599.12L224.22 599.12M224.22 591.91L224.22 599.12M226.37 582.29L224.11 582.29M224.22 595.52L224.11 595.52M224.11 582.29L224.11 595.52M223.39 569.06L222.89 569.06M224.11 588.9L222.89 588.9M222.89 569.06L222.89 588.9M230.9 608.75L226.37 608.75M230.9 613.55L226.37 613.55M226.37 608.75L226.37 613.55M230.9 603.93L225.16 603.93M226.37 611.15L225.16 611.15M225.16 603.93L225.16 611.15M230.9 618.37L223.65 618.37M230.9 623.17L223.65 623.17M223.65 618.37L223.65 623.17M225.16 607.54L222.27 607.54M223.65 620.77L222.27 620.77M222.27 607.54L222.27 620.77M230.9 627.98L222.25 627.98M230.9 632.79L222.25 632.79M222.25 627.98L222.25 632.79M222.27 614.16L221.72 614.16M222.25 630.39L221.72 630.39M221.72 614.16L221.72 630.39M222.89 578.98L221.22 578.98M221.72 622.27L221.22 622.27M221.22 578.98L221.22 622.27M221.98 557.04L221.22 557.04M221.22 600.63L221.22 600.63M221.22 557.04L221.22 600.63M230.9 546.21L219.68 546.21M221.22 578.83L219.68 578.83M219.68 546.21L219.68 578.83M219.6 531.71L219.6 531.71M219.68 562.52L219.6 562.52M219.6 531.71L219.6 562.52M230.9 493.3L218.2 493.3M219.6 547.12L218.2 547.12M218.2 493.3L218.2 547.12M230.9 637.61L216.09 637.61M230.9 642.41L216.09 642.41M216.09 637.61L216.09 642.41M230.9 656.85L218.02 656.85M230.9 661.65L218.02 661.65M218.02 656.85L218.02 661.65M230.9 652.03L216.99 652.03M218.02 659.25L216.99 659.25M216.99 652.03L216.99 659.25M230.9 647.22L214.28 647.22M216.99 655.64L214.28 655.64M214.28 647.22L214.28 655.64M216.09 640.01L214.05 640.01M214.28 651.43L214.05 651.43M214.05 640.01L214.05 651.43M230.9 676.08L217.37 676.08M230.9 680.89L217.37 680.89M217.37 676.08L217.37 680.89M230.9 671.27L217.37 671.27M217.37 678.49L217.37 678.49M217.37 671.27L217.37 678.49M230.9 666.46L213.6 666.46M217.37 674.88L213.6 674.88M213.6 666.46L213.6 674.88M214.05 645.72L213.1 645.72M213.6 670.67L213.1 670.67M213.1 645.72L213.1 670.67M218.2 520.21L205.8 520.21M213.1 658.2L205.8 658.2M205.8 520.21L205.8 658.2" stroke="#555" stroke-width="0.6" fill="none"/>
<text x="294.2" y="480.1" font-size="8.15" text-anchor="middle" fill="#111">Macrophages</text>
<defs><linearGradient id="cb" x1="0" y1="1" x2="0" y2="0"><stop offset="0" stop-color="#4575B4"/><stop offset="0.1667" stop-color="#91BFDB"/><stop offset="0.3333" stop-color="#E0F3F8"/><stop offset="0.5" stop-color="#FFFFBF"/><stop offset="0.6667" stop-color="#FEE090"/><stop offset="0.8333" stop-color="#FC8D59"/><stop offset="1" stop-color="#D73027"/></linearGradient></defs>
<rect x="392" y="280.3" width="6.9" height="102.2" fill="url(#cb)"/>
<text x="400.6" y="295.25" font-size="7.4" fill="#222">2</text>
<text x="400.6" y="314.25" font-size="7.4" fill="#222">1</text>
<text x="400.6" y="333.05" font-size="7.4" fill="#222">0</text>
<text x="400.6" y="352.35" font-size="7.4" fill="#222">−1</text>
<text x="400.6" y="371.25" font-size="7.4" fill="#222">−2</text>
<text x="417" y="283.2" font-size="6.9">Cells</text>
<rect x="411.3" y="287.3" width="9.7" height="9.86" fill="#FFD966" stroke="#B0B0B0" stroke-width="0.4"/>
<text x="423.6" y="294.6" font-size="7.1">Dermal cDC1</text>
<rect x="411.3" y="297.16" width="9.7" height="9.86" fill="#FF66FF" stroke="#B0B0B0" stroke-width="0.4"/>
<text x="423.6" y="304.46" font-size="7.1">Dermal cDC2 (lang<tspan font-size="5.6" dy="-2.4">−</tspan><tspan dy="2.4">)</tspan></text>
<rect x="411.3" y="307.02" width="9.7" height="9.86" fill="#7030A0" stroke="#B0B0B0" stroke-width="0.4"/>
<text x="423.6" y="314.32" font-size="7.1">Dermal cDC2 (lang<tspan font-size="5.6" dy="-2.4">+</tspan><tspan dy="2.4">)</tspan></text>
<rect x="411.3" y="316.88" width="9.7" height="9.86" fill="#FF0000" stroke="#B0B0B0" stroke-width="0.4"/>
<text x="423.6" y="324.18" font-size="7.1">Dermal macrophage</text>
<rect x="411.3" y="326.74" width="9.7" height="9.86" fill="#C55A11" stroke="#B0B0B0" stroke-width="0.4"/>
<text x="423.6" y="334.04" font-size="7.1">Dermal MDM</text>
<rect x="411.3" y="336.6" width="9.7" height="9.86" fill="#0000FF" stroke="#B0B0B0" stroke-width="0.4"/>
<text x="423.6" y="343.9" font-size="7.1">Epidermal CD11c+</text>
<rect x="411.3" y="346.46" width="9.7" height="9.86" fill="#000000" stroke="#B0B0B0" stroke-width="0.4"/>
<text x="423.6" y="353.76" font-size="7.1">Epidermal CD33low</text>
<rect x="411.3" y="356.32" width="9.7" height="9.86" fill="#00B050" stroke="#B0B0B0" stroke-width="0.4"/>
<text x="423.6" y="363.62" font-size="7.1">Epidermal Langerhans cell</text>
<text x="417" y="376.2" font-size="6.9">Significant</text>
<rect x="411.3" y="381.2" width="9.7" height="9.0" fill="#FF6FDB" stroke="#B0B0B0" stroke-width="0.4"/>
<text x="423.6" y="388.1" font-size="7.1">Significant</text>
</svg>
</body></html>
